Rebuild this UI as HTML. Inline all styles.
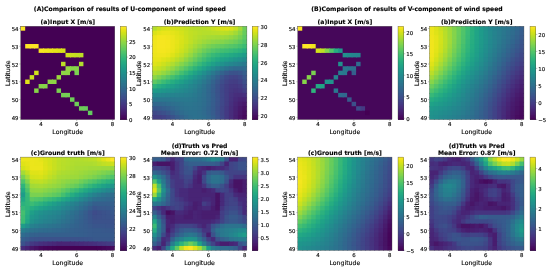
<!DOCTYPE html>
<html><head><meta charset="utf-8"><title>Wind speed comparison</title>
<style>
html,body{margin:0;padding:0;background:#fff;}
body{width:550px;height:271px;overflow:hidden;}
svg{display:block;font-family:"DejaVu Sans","Liberation Sans",sans-serif;}
svg text{shape-rendering:auto;stroke:#000;stroke-width:0.12px;}
</style></head><body>
<svg width="550" height="271" viewBox="0 0 550 271" shape-rendering="geometricPrecision">
<rect width="550" height="271" fill="#fff"/>
<g>
<rect x="20.7" y="26.25" width="94.1" height="93.3" fill="#440154"/>
<rect x="20.70" y="26.25" width="4.48" height="4.44" fill="#fde725"/>
<rect x="25.18" y="44.02" width="5.48" height="4.44" fill="#fde725"/>
<rect x="29.66" y="44.02" width="5.48" height="4.44" fill="#fde725"/>
<rect x="34.14" y="44.02" width="4.48" height="4.44" fill="#fde725"/>
<rect x="38.62" y="48.46" width="5.48" height="4.44" fill="#f8e621"/>
<rect x="43.10" y="48.46" width="5.48" height="4.44" fill="#f1e51d"/>
<rect x="47.59" y="48.46" width="5.48" height="4.44" fill="#ece51b"/>
<rect x="52.07" y="48.46" width="5.48" height="4.44" fill="#e5e419"/>
<rect x="56.55" y="48.46" width="5.48" height="4.44" fill="#dfe318"/>
<rect x="61.03" y="48.46" width="4.48" height="4.44" fill="#d8e219"/>
<rect x="65.51" y="52.91" width="5.48" height="4.44" fill="#d2e21b"/>
<rect x="69.99" y="52.91" width="5.48" height="4.44" fill="#cae11f"/>
<rect x="74.47" y="52.91" width="5.48" height="4.44" fill="#c2df23"/>
<rect x="78.95" y="52.91" width="4.48" height="4.44" fill="#bddf26"/>
<rect x="61.03" y="61.79" width="4.48" height="4.44" fill="#bddf26"/>
<rect x="78.95" y="61.79" width="4.48" height="4.44" fill="#b0dd2f"/>
<rect x="65.51" y="66.24" width="5.48" height="5.44" fill="#95d840"/>
<rect x="69.99" y="66.24" width="5.48" height="4.44" fill="#86d549"/>
<rect x="74.47" y="66.24" width="4.48" height="5.44" fill="#86d549"/>
<rect x="34.14" y="70.68" width="4.48" height="4.44" fill="#d2e21b"/>
<rect x="61.03" y="70.68" width="5.48" height="4.44" fill="#8ed645"/>
<rect x="65.51" y="70.68" width="4.48" height="4.44" fill="#8ed645"/>
<rect x="74.47" y="70.68" width="4.48" height="4.44" fill="#7ad151"/>
<rect x="29.66" y="75.12" width="4.48" height="4.44" fill="#cae11f"/>
<rect x="56.55" y="75.12" width="4.48" height="4.44" fill="#9bd93c"/>
<rect x="25.18" y="79.56" width="4.48" height="4.44" fill="#dfe318"/>
<rect x="47.59" y="79.56" width="5.48" height="4.44" fill="#8ed645"/>
<rect x="52.07" y="79.56" width="4.48" height="4.44" fill="#8ed645"/>
<rect x="38.62" y="84.01" width="5.48" height="4.44" fill="#86d549"/>
<rect x="43.10" y="84.01" width="4.48" height="4.44" fill="#86d549"/>
<rect x="34.14" y="88.45" width="4.48" height="4.44" fill="#86d549"/>
<rect x="56.55" y="88.45" width="4.48" height="4.44" fill="#7ad151"/>
<rect x="61.03" y="92.89" width="5.48" height="4.44" fill="#75d054"/>
<rect x="65.51" y="92.89" width="4.48" height="4.44" fill="#75d054"/>
<rect x="69.99" y="97.34" width="4.48" height="4.44" fill="#6ece58"/>
<rect x="74.47" y="101.78" width="4.48" height="4.44" fill="#6ece58"/>
<rect x="78.95" y="106.22" width="5.48" height="4.44" fill="#6ece58"/>
<rect x="83.43" y="106.22" width="4.48" height="4.44" fill="#69cd5b"/>
<rect x="87.91" y="110.66" width="4.48" height="4.44" fill="#63cb5f"/>
</g>
<rect x="20.7" y="26.25" width="94.1" height="93.3" fill="none" stroke="#444" stroke-width="0.35"/>
<rect x="120.35" y="26.25" width="6.05" height="93.30" fill="#fbe723"/>
<rect x="120.35" y="27.71" width="6.05" height="91.84" fill="#f1e51d"/>
<rect x="120.35" y="29.17" width="6.05" height="90.38" fill="#e7e419"/>
<rect x="120.35" y="30.62" width="6.05" height="88.93" fill="#dde318"/>
<rect x="120.35" y="32.08" width="6.05" height="87.47" fill="#d2e21b"/>
<rect x="120.35" y="33.54" width="6.05" height="86.01" fill="#c8e020"/>
<rect x="120.35" y="35.00" width="6.05" height="84.55" fill="#bddf26"/>
<rect x="120.35" y="36.45" width="6.05" height="83.10" fill="#b2dd2d"/>
<rect x="120.35" y="37.91" width="6.05" height="81.64" fill="#a8db34"/>
<rect x="120.35" y="39.37" width="6.05" height="80.18" fill="#9dd93b"/>
<rect x="120.35" y="40.83" width="6.05" height="78.72" fill="#93d741"/>
<rect x="120.35" y="42.29" width="6.05" height="77.26" fill="#89d548"/>
<rect x="120.35" y="43.74" width="6.05" height="75.81" fill="#7fd34e"/>
<rect x="120.35" y="45.20" width="6.05" height="74.35" fill="#75d054"/>
<rect x="120.35" y="46.66" width="6.05" height="72.89" fill="#6ccd5a"/>
<rect x="120.35" y="48.12" width="6.05" height="71.43" fill="#63cb5f"/>
<rect x="120.35" y="49.58" width="6.05" height="69.97" fill="#5ac864"/>
<rect x="120.35" y="51.03" width="6.05" height="68.52" fill="#52c569"/>
<rect x="120.35" y="52.49" width="6.05" height="67.06" fill="#4ac16d"/>
<rect x="120.35" y="53.95" width="6.05" height="65.60" fill="#42be71"/>
<rect x="120.35" y="55.41" width="6.05" height="64.14" fill="#3bbb75"/>
<rect x="120.35" y="56.86" width="6.05" height="62.69" fill="#35b779"/>
<rect x="120.35" y="58.32" width="6.05" height="61.23" fill="#2fb47c"/>
<rect x="120.35" y="59.78" width="6.05" height="59.77" fill="#2ab07f"/>
<rect x="120.35" y="61.24" width="6.05" height="58.31" fill="#26ad81"/>
<rect x="120.35" y="62.70" width="6.05" height="56.85" fill="#23a983"/>
<rect x="120.35" y="64.15" width="6.05" height="55.40" fill="#21a585"/>
<rect x="120.35" y="65.61" width="6.05" height="53.94" fill="#1fa187"/>
<rect x="120.35" y="67.07" width="6.05" height="52.48" fill="#1f9e89"/>
<rect x="120.35" y="68.53" width="6.05" height="51.02" fill="#1f9a8a"/>
<rect x="120.35" y="69.98" width="6.05" height="49.57" fill="#1f968b"/>
<rect x="120.35" y="71.44" width="6.05" height="48.11" fill="#20928c"/>
<rect x="120.35" y="72.90" width="6.05" height="46.65" fill="#218f8d"/>
<rect x="120.35" y="74.36" width="6.05" height="45.19" fill="#228b8d"/>
<rect x="120.35" y="75.82" width="6.05" height="43.73" fill="#24878e"/>
<rect x="120.35" y="77.27" width="6.05" height="42.28" fill="#25838e"/>
<rect x="120.35" y="78.73" width="6.05" height="40.82" fill="#27808e"/>
<rect x="120.35" y="80.19" width="6.05" height="39.36" fill="#287c8e"/>
<rect x="120.35" y="81.65" width="6.05" height="37.90" fill="#2a788e"/>
<rect x="120.35" y="83.10" width="6.05" height="36.45" fill="#2b748e"/>
<rect x="120.35" y="84.56" width="6.05" height="34.99" fill="#2d718e"/>
<rect x="120.35" y="86.02" width="6.05" height="33.53" fill="#2e6d8e"/>
<rect x="120.35" y="87.48" width="6.05" height="32.07" fill="#30698e"/>
<rect x="120.35" y="88.94" width="6.05" height="30.61" fill="#32658e"/>
<rect x="120.35" y="90.39" width="6.05" height="29.16" fill="#34618d"/>
<rect x="120.35" y="91.85" width="6.05" height="27.70" fill="#365d8d"/>
<rect x="120.35" y="93.31" width="6.05" height="26.24" fill="#38598c"/>
<rect x="120.35" y="94.77" width="6.05" height="24.78" fill="#3a548c"/>
<rect x="120.35" y="96.22" width="6.05" height="23.33" fill="#3c508b"/>
<rect x="120.35" y="97.68" width="6.05" height="21.87" fill="#3e4c8a"/>
<rect x="120.35" y="99.14" width="6.05" height="20.41" fill="#3f4788"/>
<rect x="120.35" y="100.60" width="6.05" height="18.95" fill="#414287"/>
<rect x="120.35" y="102.06" width="6.05" height="17.49" fill="#433e85"/>
<rect x="120.35" y="103.51" width="6.05" height="16.04" fill="#443983"/>
<rect x="120.35" y="104.97" width="6.05" height="14.58" fill="#463480"/>
<rect x="120.35" y="106.43" width="6.05" height="13.12" fill="#472f7d"/>
<rect x="120.35" y="107.89" width="6.05" height="11.66" fill="#472a7a"/>
<rect x="120.35" y="109.35" width="6.05" height="10.20" fill="#482576"/>
<rect x="120.35" y="110.80" width="6.05" height="8.75" fill="#482071"/>
<rect x="120.35" y="112.26" width="6.05" height="7.29" fill="#481b6d"/>
<rect x="120.35" y="113.72" width="6.05" height="5.83" fill="#481668"/>
<rect x="120.35" y="115.18" width="6.05" height="4.37" fill="#471063"/>
<rect x="120.35" y="116.63" width="6.05" height="2.92" fill="#460a5d"/>
<rect x="120.35" y="118.09" width="6.05" height="1.46" fill="#450457"/>
<rect x="120.35" y="26.25" width="6.050000000000011" height="93.3" fill="none" stroke="#444" stroke-width="0.35"/>
<line x1="126.4" x2="127.9" y1="119.55" y2="119.55" stroke="#555" stroke-width="0.35"/>
<text x="128.9" y="121.84" font-size="5.4" text-anchor="start" fill="#000">0</text>
<line x1="126.4" x2="127.9" y1="103.95" y2="103.95" stroke="#555" stroke-width="0.35"/>
<text x="128.9" y="106.24" font-size="5.4" text-anchor="start" fill="#000">5</text>
<line x1="126.4" x2="127.9" y1="88.35" y2="88.35" stroke="#555" stroke-width="0.35"/>
<text x="128.9" y="90.64" font-size="5.4" text-anchor="start" fill="#000">10</text>
<line x1="126.4" x2="127.9" y1="72.74" y2="72.74" stroke="#555" stroke-width="0.35"/>
<text x="128.9" y="75.04" font-size="5.4" text-anchor="start" fill="#000">15</text>
<line x1="126.4" x2="127.9" y1="57.14" y2="57.14" stroke="#555" stroke-width="0.35"/>
<text x="128.9" y="59.44" font-size="5.4" text-anchor="start" fill="#000">20</text>
<line x1="126.4" x2="127.9" y1="41.54" y2="41.54" stroke="#555" stroke-width="0.35"/>
<text x="128.9" y="43.83" font-size="5.4" text-anchor="start" fill="#000">25</text>
<line x1="40.86" x2="40.86" y1="119.55" y2="121.05" stroke="#555" stroke-width="0.35"/>
<text x="40.86" y="126.49" font-size="5.4" text-anchor="middle" fill="#000">4</text>
<line x1="76.71" x2="76.71" y1="119.55" y2="121.05" stroke="#555" stroke-width="0.35"/>
<text x="76.71" y="126.49" font-size="5.4" text-anchor="middle" fill="#000">6</text>
<line x1="112.56" x2="112.56" y1="119.55" y2="121.05" stroke="#555" stroke-width="0.35"/>
<text x="112.56" y="126.49" font-size="5.4" text-anchor="middle" fill="#000">8</text>
<line x1="19.2" x2="20.7" y1="117.33" y2="117.33" stroke="#555" stroke-width="0.35"/>
<text x="18.5" y="119.97" font-size="5.4" text-anchor="end" fill="#000">49</text>
<line x1="19.2" x2="20.7" y1="99.56" y2="99.56" stroke="#555" stroke-width="0.35"/>
<text x="18.5" y="102.2" font-size="5.4" text-anchor="end" fill="#000">50</text>
<line x1="19.2" x2="20.7" y1="81.79" y2="81.79" stroke="#555" stroke-width="0.35"/>
<text x="18.5" y="84.43" font-size="5.4" text-anchor="end" fill="#000">51</text>
<line x1="19.2" x2="20.7" y1="64.01" y2="64.01" stroke="#555" stroke-width="0.35"/>
<text x="18.5" y="66.66" font-size="5.4" text-anchor="end" fill="#000">52</text>
<line x1="19.2" x2="20.7" y1="46.24" y2="46.24" stroke="#555" stroke-width="0.35"/>
<text x="18.5" y="48.89" font-size="5.4" text-anchor="end" fill="#000">53</text>
<line x1="19.2" x2="20.7" y1="28.47" y2="28.47" stroke="#555" stroke-width="0.35"/>
<text x="18.5" y="31.12" font-size="5.4" text-anchor="end" fill="#000">54</text>
<text x="67.75" y="134.35" font-size="6.2" text-anchor="middle" fill="#000">Longitude</text>
<text x="9.9" y="73.3" font-size="6.2" text-anchor="middle" transform="rotate(-90 9.9 73.3)" fill="#000">Latitude</text>
<text x="67.75" y="24.25" font-size="6.1" text-anchor="middle" font-weight="bold" fill="#000">(a)Input X [m/s]</text>
<g>
<rect x="152.30" y="26.25" width="5.50" height="5.44" fill="#b5de2b"/>
<rect x="156.80" y="26.25" width="5.50" height="5.44" fill="#cae11f"/>
<rect x="161.31" y="26.25" width="5.50" height="5.44" fill="#d5e21a"/>
<rect x="165.81" y="26.25" width="5.50" height="5.44" fill="#dae319"/>
<rect x="170.32" y="26.25" width="5.50" height="5.44" fill="#d8e219"/>
<rect x="174.82" y="26.25" width="5.50" height="5.44" fill="#d2e21b"/>
<rect x="179.33" y="26.25" width="5.50" height="5.44" fill="#cde11d"/>
<rect x="183.83" y="26.25" width="5.50" height="5.44" fill="#c5e021"/>
<rect x="188.34" y="26.25" width="5.50" height="5.44" fill="#bddf26"/>
<rect x="192.84" y="26.25" width="5.50" height="5.44" fill="#b8de29"/>
<rect x="197.35" y="26.25" width="5.50" height="5.44" fill="#b5de2b"/>
<rect x="201.85" y="26.25" width="5.50" height="5.44" fill="#b8de29"/>
<rect x="206.36" y="26.25" width="5.50" height="5.44" fill="#bddf26"/>
<rect x="210.86" y="26.25" width="5.50" height="5.44" fill="#c8e020"/>
<rect x="215.37" y="26.25" width="5.50" height="5.44" fill="#d2e21b"/>
<rect x="219.87" y="26.25" width="5.50" height="5.44" fill="#dae319"/>
<rect x="224.38" y="26.25" width="5.50" height="5.44" fill="#dfe318"/>
<rect x="228.88" y="26.25" width="5.50" height="5.44" fill="#d8e219"/>
<rect x="233.39" y="26.25" width="5.50" height="5.44" fill="#c5e021"/>
<rect x="237.89" y="26.25" width="5.50" height="5.44" fill="#a2da37"/>
<rect x="242.40" y="26.25" width="4.50" height="5.44" fill="#6ece58"/>
<rect x="152.30" y="30.69" width="5.50" height="5.44" fill="#dae319"/>
<rect x="156.80" y="30.69" width="5.50" height="5.44" fill="#e5e419"/>
<rect x="161.31" y="30.69" width="10.01" height="5.44" fill="#eae51a"/>
<rect x="170.32" y="30.69" width="5.50" height="5.44" fill="#e5e419"/>
<rect x="174.82" y="30.69" width="5.50" height="5.44" fill="#dfe318"/>
<rect x="179.33" y="30.69" width="5.50" height="5.44" fill="#d5e21a"/>
<rect x="183.83" y="30.69" width="5.50" height="5.44" fill="#cae11f"/>
<rect x="188.34" y="30.69" width="5.50" height="5.44" fill="#c2df23"/>
<rect x="192.84" y="30.69" width="5.50" height="5.44" fill="#bddf26"/>
<rect x="197.35" y="30.69" width="5.50" height="5.44" fill="#b8de29"/>
<rect x="201.85" y="30.69" width="10.01" height="5.44" fill="#b5de2b"/>
<rect x="210.86" y="30.69" width="5.50" height="5.44" fill="#b8de29"/>
<rect x="215.37" y="30.69" width="5.50" height="5.44" fill="#bade28"/>
<rect x="219.87" y="30.69" width="5.50" height="5.44" fill="#bddf26"/>
<rect x="224.38" y="30.69" width="5.50" height="5.44" fill="#bade28"/>
<rect x="228.88" y="30.69" width="5.50" height="5.44" fill="#b2dd2d"/>
<rect x="233.39" y="30.69" width="5.50" height="5.44" fill="#a2da37"/>
<rect x="237.89" y="30.69" width="5.50" height="5.44" fill="#89d548"/>
<rect x="242.40" y="30.69" width="4.50" height="5.44" fill="#67cc5c"/>
<rect x="152.30" y="35.14" width="5.50" height="5.44" fill="#ece51b"/>
<rect x="156.80" y="35.14" width="10.01" height="5.44" fill="#f4e61e"/>
<rect x="165.81" y="35.14" width="5.50" height="5.44" fill="#f1e51d"/>
<rect x="170.32" y="35.14" width="5.50" height="5.44" fill="#ece51b"/>
<rect x="174.82" y="35.14" width="5.50" height="5.44" fill="#e2e418"/>
<rect x="179.33" y="35.14" width="5.50" height="5.44" fill="#dae319"/>
<rect x="183.83" y="35.14" width="5.50" height="5.44" fill="#cde11d"/>
<rect x="188.34" y="35.14" width="5.50" height="5.44" fill="#c2df23"/>
<rect x="192.84" y="35.14" width="5.50" height="5.44" fill="#bade28"/>
<rect x="197.35" y="35.14" width="5.50" height="5.44" fill="#b2dd2d"/>
<rect x="201.85" y="35.14" width="5.50" height="5.44" fill="#addc30"/>
<rect x="206.36" y="35.14" width="5.50" height="5.44" fill="#a8db34"/>
<rect x="210.86" y="35.14" width="5.50" height="5.44" fill="#a5db36"/>
<rect x="215.37" y="35.14" width="5.50" height="5.44" fill="#a2da37"/>
<rect x="219.87" y="35.14" width="5.50" height="5.44" fill="#a0da39"/>
<rect x="224.38" y="35.14" width="5.50" height="5.44" fill="#9bd93c"/>
<rect x="228.88" y="35.14" width="5.50" height="5.44" fill="#93d741"/>
<rect x="233.39" y="35.14" width="5.50" height="5.44" fill="#86d549"/>
<rect x="237.89" y="35.14" width="5.50" height="5.44" fill="#75d054"/>
<rect x="242.40" y="35.14" width="4.50" height="5.44" fill="#5ec962"/>
<rect x="152.30" y="39.58" width="5.50" height="5.44" fill="#f1e51d"/>
<rect x="156.80" y="39.58" width="10.01" height="5.44" fill="#f6e620"/>
<rect x="165.81" y="39.58" width="5.50" height="5.44" fill="#f4e61e"/>
<rect x="170.32" y="39.58" width="5.50" height="5.44" fill="#ece51b"/>
<rect x="174.82" y="39.58" width="5.50" height="5.44" fill="#e5e419"/>
<rect x="179.33" y="39.58" width="5.50" height="5.44" fill="#d8e219"/>
<rect x="183.83" y="39.58" width="5.50" height="5.44" fill="#cde11d"/>
<rect x="188.34" y="39.58" width="5.50" height="5.44" fill="#c0df25"/>
<rect x="192.84" y="39.58" width="5.50" height="5.44" fill="#b2dd2d"/>
<rect x="197.35" y="39.58" width="5.50" height="5.44" fill="#a8db34"/>
<rect x="201.85" y="39.58" width="5.50" height="5.44" fill="#9dd93b"/>
<rect x="206.36" y="39.58" width="5.50" height="5.44" fill="#95d840"/>
<rect x="210.86" y="39.58" width="5.50" height="5.44" fill="#8ed645"/>
<rect x="215.37" y="39.58" width="5.50" height="5.44" fill="#89d548"/>
<rect x="219.87" y="39.58" width="5.50" height="5.44" fill="#84d44b"/>
<rect x="224.38" y="39.58" width="5.50" height="5.44" fill="#7cd250"/>
<rect x="228.88" y="39.58" width="5.50" height="5.44" fill="#75d054"/>
<rect x="233.39" y="39.58" width="5.50" height="5.44" fill="#6ccd5a"/>
<rect x="237.89" y="39.58" width="5.50" height="5.44" fill="#5ec962"/>
<rect x="242.40" y="39.58" width="4.50" height="5.44" fill="#4ec36b"/>
<rect x="152.30" y="44.02" width="5.50" height="5.44" fill="#f1e51d"/>
<rect x="156.80" y="44.02" width="10.01" height="5.44" fill="#f6e620"/>
<rect x="165.81" y="44.02" width="5.50" height="5.44" fill="#f4e61e"/>
<rect x="170.32" y="44.02" width="5.50" height="5.44" fill="#ece51b"/>
<rect x="174.82" y="44.02" width="5.50" height="5.44" fill="#e2e418"/>
<rect x="179.33" y="44.02" width="5.50" height="5.44" fill="#d5e21a"/>
<rect x="183.83" y="44.02" width="5.50" height="5.44" fill="#c5e021"/>
<rect x="188.34" y="44.02" width="5.50" height="5.44" fill="#b5de2b"/>
<rect x="192.84" y="44.02" width="5.50" height="5.44" fill="#a5db36"/>
<rect x="197.35" y="44.02" width="5.50" height="5.44" fill="#95d840"/>
<rect x="201.85" y="44.02" width="5.50" height="5.44" fill="#86d549"/>
<rect x="206.36" y="44.02" width="5.50" height="5.44" fill="#7ad151"/>
<rect x="210.86" y="44.02" width="5.50" height="5.44" fill="#70cf57"/>
<rect x="215.37" y="44.02" width="5.50" height="5.44" fill="#69cd5b"/>
<rect x="219.87" y="44.02" width="5.50" height="5.44" fill="#63cb5f"/>
<rect x="224.38" y="44.02" width="5.50" height="5.44" fill="#5cc863"/>
<rect x="228.88" y="44.02" width="5.50" height="5.44" fill="#56c667"/>
<rect x="233.39" y="44.02" width="5.50" height="5.44" fill="#50c46a"/>
<rect x="237.89" y="44.02" width="5.50" height="5.44" fill="#46c06f"/>
<rect x="242.40" y="44.02" width="4.50" height="5.44" fill="#3bbb75"/>
<rect x="152.30" y="48.46" width="5.50" height="5.44" fill="#efe51c"/>
<rect x="156.80" y="48.46" width="10.01" height="5.44" fill="#f4e61e"/>
<rect x="165.81" y="48.46" width="5.50" height="5.44" fill="#f1e51d"/>
<rect x="170.32" y="48.46" width="5.50" height="5.44" fill="#eae51a"/>
<rect x="174.82" y="48.46" width="5.50" height="5.44" fill="#dde318"/>
<rect x="179.33" y="48.46" width="5.50" height="5.44" fill="#cde11d"/>
<rect x="183.83" y="48.46" width="5.50" height="5.44" fill="#bddf26"/>
<rect x="188.34" y="48.46" width="5.50" height="5.44" fill="#a8db34"/>
<rect x="192.84" y="48.46" width="5.50" height="5.44" fill="#93d741"/>
<rect x="197.35" y="48.46" width="5.50" height="5.44" fill="#7fd34e"/>
<rect x="201.85" y="48.46" width="5.50" height="5.44" fill="#6ccd5a"/>
<rect x="206.36" y="48.46" width="5.50" height="5.44" fill="#5ec962"/>
<rect x="210.86" y="48.46" width="5.50" height="5.44" fill="#52c569"/>
<rect x="215.37" y="48.46" width="5.50" height="5.44" fill="#4ac16d"/>
<rect x="219.87" y="48.46" width="5.50" height="5.44" fill="#42be71"/>
<rect x="224.38" y="48.46" width="5.50" height="5.44" fill="#3dbc74"/>
<rect x="228.88" y="48.46" width="5.50" height="5.44" fill="#38b977"/>
<rect x="233.39" y="48.46" width="5.50" height="5.44" fill="#32b67a"/>
<rect x="237.89" y="48.46" width="5.50" height="5.44" fill="#2db27d"/>
<rect x="242.40" y="48.46" width="4.50" height="5.44" fill="#26ad81"/>
<rect x="152.30" y="52.91" width="5.50" height="5.44" fill="#ece51b"/>
<rect x="156.80" y="52.91" width="10.01" height="5.44" fill="#efe51c"/>
<rect x="165.81" y="52.91" width="5.50" height="5.44" fill="#eae51a"/>
<rect x="170.32" y="52.91" width="5.50" height="5.44" fill="#dfe318"/>
<rect x="174.82" y="52.91" width="5.50" height="5.44" fill="#d0e11c"/>
<rect x="179.33" y="52.91" width="5.50" height="5.44" fill="#c0df25"/>
<rect x="183.83" y="52.91" width="5.50" height="5.44" fill="#aadc32"/>
<rect x="188.34" y="52.91" width="5.50" height="5.44" fill="#95d840"/>
<rect x="192.84" y="52.91" width="5.50" height="5.44" fill="#7cd250"/>
<rect x="197.35" y="52.91" width="5.50" height="5.44" fill="#67cc5c"/>
<rect x="201.85" y="52.91" width="5.50" height="5.44" fill="#54c568"/>
<rect x="206.36" y="52.91" width="5.50" height="5.44" fill="#44bf70"/>
<rect x="210.86" y="52.91" width="5.50" height="5.44" fill="#38b977"/>
<rect x="215.37" y="52.91" width="5.50" height="5.44" fill="#31b57b"/>
<rect x="219.87" y="52.91" width="5.50" height="5.44" fill="#2ab07f"/>
<rect x="224.38" y="52.91" width="5.50" height="5.44" fill="#26ad81"/>
<rect x="228.88" y="52.91" width="5.50" height="5.44" fill="#23a983"/>
<rect x="233.39" y="52.91" width="5.50" height="5.44" fill="#21a585"/>
<rect x="237.89" y="52.91" width="5.50" height="5.44" fill="#1fa187"/>
<rect x="242.40" y="52.91" width="4.50" height="5.44" fill="#1e9c89"/>
<rect x="152.30" y="57.35" width="10.01" height="5.44" fill="#e7e419"/>
<rect x="161.31" y="57.35" width="5.50" height="5.44" fill="#dfe318"/>
<rect x="165.81" y="57.35" width="5.50" height="5.44" fill="#d8e219"/>
<rect x="170.32" y="57.35" width="5.50" height="5.44" fill="#cae11f"/>
<rect x="174.82" y="57.35" width="5.50" height="5.44" fill="#bade28"/>
<rect x="179.33" y="57.35" width="5.50" height="5.44" fill="#a8db34"/>
<rect x="183.83" y="57.35" width="5.50" height="5.44" fill="#90d743"/>
<rect x="188.34" y="57.35" width="5.50" height="5.44" fill="#7ad151"/>
<rect x="192.84" y="57.35" width="5.50" height="5.44" fill="#65cb5e"/>
<rect x="197.35" y="57.35" width="5.50" height="5.44" fill="#50c46a"/>
<rect x="201.85" y="57.35" width="5.50" height="5.44" fill="#3fbc73"/>
<rect x="206.36" y="57.35" width="5.50" height="5.44" fill="#31b57b"/>
<rect x="210.86" y="57.35" width="5.50" height="5.44" fill="#28ae80"/>
<rect x="215.37" y="57.35" width="5.50" height="5.44" fill="#22a884"/>
<rect x="219.87" y="57.35" width="5.50" height="5.44" fill="#1fa287"/>
<rect x="224.38" y="57.35" width="5.50" height="5.44" fill="#1f9e89"/>
<rect x="228.88" y="57.35" width="5.50" height="5.44" fill="#1f998a"/>
<rect x="233.39" y="57.35" width="5.50" height="5.44" fill="#1f948c"/>
<rect x="237.89" y="57.35" width="5.50" height="5.44" fill="#21908d"/>
<rect x="242.40" y="57.35" width="4.50" height="5.44" fill="#228b8d"/>
<rect x="152.30" y="61.79" width="5.50" height="5.44" fill="#dfe318"/>
<rect x="156.80" y="61.79" width="5.50" height="5.44" fill="#d8e219"/>
<rect x="161.31" y="61.79" width="5.50" height="5.44" fill="#cde11d"/>
<rect x="165.81" y="61.79" width="5.50" height="5.44" fill="#c0df25"/>
<rect x="170.32" y="61.79" width="5.50" height="5.44" fill="#b0dd2f"/>
<rect x="174.82" y="61.79" width="5.50" height="5.44" fill="#9dd93b"/>
<rect x="179.33" y="61.79" width="5.50" height="5.44" fill="#86d549"/>
<rect x="183.83" y="61.79" width="5.50" height="5.44" fill="#73d056"/>
<rect x="188.34" y="61.79" width="5.50" height="5.44" fill="#5ec962"/>
<rect x="192.84" y="61.79" width="5.50" height="5.44" fill="#4ac16d"/>
<rect x="197.35" y="61.79" width="5.50" height="5.44" fill="#38b977"/>
<rect x="201.85" y="61.79" width="5.50" height="5.44" fill="#2ab07f"/>
<rect x="206.36" y="61.79" width="5.50" height="5.44" fill="#22a884"/>
<rect x="210.86" y="61.79" width="5.50" height="5.44" fill="#1fa088"/>
<rect x="215.37" y="61.79" width="5.50" height="5.44" fill="#1f988b"/>
<rect x="219.87" y="61.79" width="5.50" height="5.44" fill="#20928c"/>
<rect x="224.38" y="61.79" width="5.50" height="5.44" fill="#228b8d"/>
<rect x="228.88" y="61.79" width="5.50" height="5.44" fill="#24868e"/>
<rect x="233.39" y="61.79" width="5.50" height="5.44" fill="#26828e"/>
<rect x="237.89" y="61.79" width="5.50" height="5.44" fill="#277e8e"/>
<rect x="242.40" y="61.79" width="4.50" height="5.44" fill="#297a8e"/>
<rect x="152.30" y="66.24" width="5.50" height="5.44" fill="#cae11f"/>
<rect x="156.80" y="66.24" width="5.50" height="5.44" fill="#c2df23"/>
<rect x="161.31" y="66.24" width="5.50" height="5.44" fill="#b8de29"/>
<rect x="165.81" y="66.24" width="5.50" height="5.44" fill="#a5db36"/>
<rect x="170.32" y="66.24" width="5.50" height="5.44" fill="#93d741"/>
<rect x="174.82" y="66.24" width="5.50" height="5.44" fill="#7cd250"/>
<rect x="179.33" y="66.24" width="5.50" height="5.44" fill="#67cc5c"/>
<rect x="183.83" y="66.24" width="5.50" height="5.44" fill="#52c569"/>
<rect x="188.34" y="66.24" width="5.50" height="5.44" fill="#3fbc73"/>
<rect x="192.84" y="66.24" width="5.50" height="5.44" fill="#2eb37c"/>
<rect x="197.35" y="66.24" width="5.50" height="5.44" fill="#24aa83"/>
<rect x="201.85" y="66.24" width="5.50" height="5.44" fill="#1fa188"/>
<rect x="206.36" y="66.24" width="5.50" height="5.44" fill="#1f968b"/>
<rect x="210.86" y="66.24" width="5.50" height="5.44" fill="#228c8d"/>
<rect x="215.37" y="66.24" width="5.50" height="5.44" fill="#26828e"/>
<rect x="219.87" y="66.24" width="5.50" height="5.44" fill="#297a8e"/>
<rect x="224.38" y="66.24" width="5.50" height="5.44" fill="#2c728e"/>
<rect x="228.88" y="66.24" width="5.50" height="5.44" fill="#2e6d8e"/>
<rect x="233.39" y="66.24" width="10.01" height="5.44" fill="#30698e"/>
<rect x="242.40" y="66.24" width="4.50" height="5.44" fill="#2f6c8e"/>
<rect x="152.30" y="70.68" width="5.50" height="5.44" fill="#b0dd2f"/>
<rect x="156.80" y="70.68" width="5.50" height="5.44" fill="#a5db36"/>
<rect x="161.31" y="70.68" width="5.50" height="5.44" fill="#95d840"/>
<rect x="165.81" y="70.68" width="5.50" height="5.44" fill="#84d44b"/>
<rect x="170.32" y="70.68" width="5.50" height="5.44" fill="#6ece58"/>
<rect x="174.82" y="70.68" width="5.50" height="5.44" fill="#5ac864"/>
<rect x="179.33" y="70.68" width="5.50" height="5.44" fill="#44bf70"/>
<rect x="183.83" y="70.68" width="5.50" height="5.44" fill="#34b679"/>
<rect x="188.34" y="70.68" width="5.50" height="5.44" fill="#26ad81"/>
<rect x="192.84" y="70.68" width="5.50" height="5.44" fill="#20a386"/>
<rect x="197.35" y="70.68" width="5.50" height="5.44" fill="#1f998a"/>
<rect x="201.85" y="70.68" width="5.50" height="5.44" fill="#218f8d"/>
<rect x="206.36" y="70.68" width="5.50" height="5.44" fill="#25848e"/>
<rect x="210.86" y="70.68" width="5.50" height="5.44" fill="#29798e"/>
<rect x="215.37" y="70.68" width="5.50" height="5.44" fill="#2e6e8e"/>
<rect x="219.87" y="70.68" width="5.50" height="5.44" fill="#33638d"/>
<rect x="224.38" y="70.68" width="5.50" height="5.44" fill="#375a8c"/>
<rect x="228.88" y="70.68" width="5.50" height="5.44" fill="#3a538b"/>
<rect x="233.39" y="70.68" width="5.50" height="5.44" fill="#3b528b"/>
<rect x="237.89" y="70.68" width="5.50" height="5.44" fill="#39558c"/>
<rect x="242.40" y="70.68" width="4.50" height="5.44" fill="#355f8d"/>
<rect x="152.30" y="75.12" width="5.50" height="5.44" fill="#8bd646"/>
<rect x="156.80" y="75.12" width="5.50" height="5.44" fill="#7ad151"/>
<rect x="161.31" y="75.12" width="5.50" height="5.44" fill="#67cc5c"/>
<rect x="165.81" y="75.12" width="5.50" height="5.44" fill="#56c667"/>
<rect x="170.32" y="75.12" width="5.50" height="5.44" fill="#44bf70"/>
<rect x="174.82" y="75.12" width="5.50" height="5.44" fill="#35b779"/>
<rect x="179.33" y="75.12" width="5.50" height="5.44" fill="#28ae80"/>
<rect x="183.83" y="75.12" width="5.50" height="5.44" fill="#21a685"/>
<rect x="188.34" y="75.12" width="5.50" height="5.44" fill="#1e9d89"/>
<rect x="192.84" y="75.12" width="5.50" height="5.44" fill="#1f948c"/>
<rect x="197.35" y="75.12" width="5.50" height="5.44" fill="#228b8d"/>
<rect x="201.85" y="75.12" width="5.50" height="5.44" fill="#26828e"/>
<rect x="206.36" y="75.12" width="5.50" height="5.44" fill="#2a778e"/>
<rect x="210.86" y="75.12" width="5.50" height="5.44" fill="#2f6c8e"/>
<rect x="215.37" y="75.12" width="5.50" height="5.44" fill="#34608d"/>
<rect x="219.87" y="75.12" width="5.50" height="5.44" fill="#3a548c"/>
<rect x="224.38" y="75.12" width="5.50" height="5.44" fill="#3e4a89"/>
<rect x="228.88" y="75.12" width="5.50" height="5.44" fill="#404588"/>
<rect x="233.39" y="75.12" width="5.50" height="5.44" fill="#414487"/>
<rect x="237.89" y="75.12" width="5.50" height="5.44" fill="#3e4989"/>
<rect x="242.40" y="75.12" width="4.50" height="5.44" fill="#39568c"/>
<rect x="152.30" y="79.56" width="5.50" height="5.44" fill="#5ec962"/>
<rect x="156.80" y="79.56" width="5.50" height="5.44" fill="#4cc26c"/>
<rect x="161.31" y="79.56" width="5.50" height="5.44" fill="#3bbb75"/>
<rect x="165.81" y="79.56" width="5.50" height="5.44" fill="#2fb47c"/>
<rect x="170.32" y="79.56" width="5.50" height="5.44" fill="#26ad81"/>
<rect x="174.82" y="79.56" width="5.50" height="5.44" fill="#21a685"/>
<rect x="179.33" y="79.56" width="5.50" height="5.44" fill="#1f9f88"/>
<rect x="183.83" y="79.56" width="5.50" height="5.44" fill="#1f978b"/>
<rect x="188.34" y="79.56" width="5.50" height="5.44" fill="#21908d"/>
<rect x="192.84" y="79.56" width="5.50" height="5.44" fill="#23888e"/>
<rect x="197.35" y="79.56" width="5.50" height="5.44" fill="#26818e"/>
<rect x="201.85" y="79.56" width="5.50" height="5.44" fill="#2a788e"/>
<rect x="206.36" y="79.56" width="5.50" height="5.44" fill="#2e6f8e"/>
<rect x="210.86" y="79.56" width="5.50" height="5.44" fill="#33638d"/>
<rect x="215.37" y="79.56" width="5.50" height="5.44" fill="#38588c"/>
<rect x="219.87" y="79.56" width="5.50" height="5.44" fill="#3d4d8a"/>
<rect x="224.38" y="79.56" width="5.50" height="5.44" fill="#414487"/>
<rect x="228.88" y="79.56" width="5.50" height="5.44" fill="#433e85"/>
<rect x="233.39" y="79.56" width="5.50" height="5.44" fill="#433d84"/>
<rect x="237.89" y="79.56" width="5.50" height="5.44" fill="#414287"/>
<rect x="242.40" y="79.56" width="4.50" height="5.44" fill="#3c4f8a"/>
<rect x="152.30" y="84.01" width="5.50" height="5.44" fill="#2fb47c"/>
<rect x="156.80" y="84.01" width="5.50" height="5.44" fill="#27ad81"/>
<rect x="161.31" y="84.01" width="5.50" height="5.44" fill="#22a884"/>
<rect x="165.81" y="84.01" width="5.50" height="5.44" fill="#1fa287"/>
<rect x="170.32" y="84.01" width="5.50" height="5.44" fill="#1f9e89"/>
<rect x="174.82" y="84.01" width="5.50" height="5.44" fill="#1f988b"/>
<rect x="179.33" y="84.01" width="5.50" height="5.44" fill="#20928c"/>
<rect x="183.83" y="84.01" width="5.50" height="5.44" fill="#218e8d"/>
<rect x="188.34" y="84.01" width="5.50" height="5.44" fill="#24878e"/>
<rect x="192.84" y="84.01" width="5.50" height="5.44" fill="#26828e"/>
<rect x="197.35" y="84.01" width="5.50" height="5.44" fill="#297a8e"/>
<rect x="201.85" y="84.01" width="5.50" height="5.44" fill="#2c728e"/>
<rect x="206.36" y="84.01" width="5.50" height="5.44" fill="#30698e"/>
<rect x="210.86" y="84.01" width="5.50" height="5.44" fill="#355f8d"/>
<rect x="215.37" y="84.01" width="5.50" height="5.44" fill="#3a538b"/>
<rect x="219.87" y="84.01" width="5.50" height="5.44" fill="#3f4889"/>
<rect x="224.38" y="84.01" width="5.50" height="5.44" fill="#423f85"/>
<rect x="228.88" y="84.01" width="5.50" height="5.44" fill="#443983"/>
<rect x="233.39" y="84.01" width="5.50" height="5.44" fill="#453882"/>
<rect x="237.89" y="84.01" width="5.50" height="5.44" fill="#443b84"/>
<rect x="242.40" y="84.01" width="4.50" height="5.44" fill="#3f4788"/>
<rect x="152.30" y="88.45" width="5.50" height="5.44" fill="#1e9c89"/>
<rect x="156.80" y="88.45" width="5.50" height="5.44" fill="#1f998a"/>
<rect x="161.31" y="88.45" width="5.50" height="5.44" fill="#1f968b"/>
<rect x="165.81" y="88.45" width="5.50" height="5.44" fill="#20938c"/>
<rect x="170.32" y="88.45" width="5.50" height="5.44" fill="#21918c"/>
<rect x="174.82" y="88.45" width="5.50" height="5.44" fill="#228d8d"/>
<rect x="179.33" y="88.45" width="5.50" height="5.44" fill="#238a8d"/>
<rect x="183.83" y="88.45" width="5.50" height="5.44" fill="#24868e"/>
<rect x="188.34" y="88.45" width="5.50" height="5.44" fill="#26828e"/>
<rect x="192.84" y="88.45" width="5.50" height="5.44" fill="#287d8e"/>
<rect x="197.35" y="88.45" width="5.50" height="5.44" fill="#2a768e"/>
<rect x="201.85" y="88.45" width="5.50" height="5.44" fill="#2d708e"/>
<rect x="206.36" y="88.45" width="5.50" height="5.44" fill="#31678e"/>
<rect x="210.86" y="88.45" width="5.50" height="5.44" fill="#365d8d"/>
<rect x="215.37" y="88.45" width="5.50" height="5.44" fill="#3b528b"/>
<rect x="219.87" y="88.45" width="5.50" height="5.44" fill="#3f4788"/>
<rect x="224.38" y="88.45" width="5.50" height="5.44" fill="#433e85"/>
<rect x="228.88" y="88.45" width="5.50" height="5.44" fill="#453781"/>
<rect x="233.39" y="88.45" width="5.50" height="5.44" fill="#46337f"/>
<rect x="237.89" y="88.45" width="5.50" height="5.44" fill="#453581"/>
<rect x="242.40" y="88.45" width="4.50" height="5.44" fill="#433e85"/>
<rect x="152.30" y="92.89" width="5.50" height="5.44" fill="#23888e"/>
<rect x="156.80" y="92.89" width="5.50" height="5.44" fill="#24878e"/>
<rect x="161.31" y="92.89" width="5.50" height="5.44" fill="#25858e"/>
<rect x="165.81" y="92.89" width="5.50" height="5.44" fill="#25848e"/>
<rect x="170.32" y="92.89" width="5.50" height="5.44" fill="#25838e"/>
<rect x="174.82" y="92.89" width="5.50" height="5.44" fill="#26828e"/>
<rect x="179.33" y="92.89" width="5.50" height="5.44" fill="#26818e"/>
<rect x="183.83" y="92.89" width="5.50" height="5.44" fill="#277f8e"/>
<rect x="188.34" y="92.89" width="5.50" height="5.44" fill="#287d8e"/>
<rect x="192.84" y="92.89" width="5.50" height="5.44" fill="#29798e"/>
<rect x="197.35" y="92.89" width="5.50" height="5.44" fill="#2b748e"/>
<rect x="201.85" y="92.89" width="5.50" height="5.44" fill="#2e6f8e"/>
<rect x="206.36" y="92.89" width="5.50" height="5.44" fill="#31678e"/>
<rect x="210.86" y="92.89" width="5.50" height="5.44" fill="#355e8d"/>
<rect x="215.37" y="92.89" width="5.50" height="5.44" fill="#3a538b"/>
<rect x="219.87" y="92.89" width="5.50" height="5.44" fill="#3f4889"/>
<rect x="224.38" y="92.89" width="5.50" height="5.44" fill="#433e85"/>
<rect x="228.88" y="92.89" width="5.50" height="5.44" fill="#463480"/>
<rect x="233.39" y="92.89" width="5.50" height="5.44" fill="#472e7c"/>
<rect x="237.89" y="92.89" width="5.50" height="5.44" fill="#472d7b"/>
<rect x="242.40" y="92.89" width="4.50" height="5.44" fill="#46307e"/>
<rect x="152.30" y="97.34" width="5.50" height="5.44" fill="#2a788e"/>
<rect x="156.80" y="97.34" width="14.51" height="5.44" fill="#2a778e"/>
<rect x="170.32" y="97.34" width="5.50" height="5.44" fill="#2a788e"/>
<rect x="174.82" y="97.34" width="14.51" height="5.44" fill="#29798e"/>
<rect x="188.34" y="97.34" width="5.50" height="5.44" fill="#2a788e"/>
<rect x="192.84" y="97.34" width="5.50" height="5.44" fill="#2a768e"/>
<rect x="197.35" y="97.34" width="5.50" height="5.44" fill="#2c728e"/>
<rect x="201.85" y="97.34" width="5.50" height="5.44" fill="#2e6e8e"/>
<rect x="206.36" y="97.34" width="5.50" height="5.44" fill="#31678e"/>
<rect x="210.86" y="97.34" width="5.50" height="5.44" fill="#355e8d"/>
<rect x="215.37" y="97.34" width="5.50" height="5.44" fill="#3a548c"/>
<rect x="219.87" y="97.34" width="5.50" height="5.44" fill="#3f4889"/>
<rect x="224.38" y="97.34" width="5.50" height="5.44" fill="#433e85"/>
<rect x="228.88" y="97.34" width="5.50" height="5.44" fill="#46337f"/>
<rect x="233.39" y="97.34" width="5.50" height="5.44" fill="#472a7a"/>
<rect x="237.89" y="97.34" width="5.50" height="5.44" fill="#482576"/>
<rect x="242.40" y="97.34" width="4.50" height="5.44" fill="#482475"/>
<rect x="152.30" y="101.78" width="10.01" height="5.44" fill="#31688e"/>
<rect x="161.31" y="101.78" width="5.50" height="5.44" fill="#306a8e"/>
<rect x="165.81" y="101.78" width="5.50" height="5.44" fill="#2e6d8e"/>
<rect x="170.32" y="101.78" width="5.50" height="5.44" fill="#2e6f8e"/>
<rect x="174.82" y="101.78" width="5.50" height="5.44" fill="#2c718e"/>
<rect x="179.33" y="101.78" width="5.50" height="5.44" fill="#2c738e"/>
<rect x="183.83" y="101.78" width="10.01" height="5.44" fill="#2b758e"/>
<rect x="192.84" y="101.78" width="5.50" height="5.44" fill="#2c738e"/>
<rect x="197.35" y="101.78" width="5.50" height="5.44" fill="#2d718e"/>
<rect x="201.85" y="101.78" width="5.50" height="5.44" fill="#2e6d8e"/>
<rect x="206.36" y="101.78" width="5.50" height="5.44" fill="#31668e"/>
<rect x="210.86" y="101.78" width="5.50" height="5.44" fill="#365d8d"/>
<rect x="215.37" y="101.78" width="5.50" height="5.44" fill="#3a538b"/>
<rect x="219.87" y="101.78" width="5.50" height="5.44" fill="#3f4889"/>
<rect x="224.38" y="101.78" width="5.50" height="5.44" fill="#433d84"/>
<rect x="228.88" y="101.78" width="5.50" height="5.44" fill="#46307e"/>
<rect x="233.39" y="101.78" width="5.50" height="5.44" fill="#482677"/>
<rect x="237.89" y="101.78" width="5.50" height="5.44" fill="#481f70"/>
<rect x="242.40" y="101.78" width="4.50" height="5.44" fill="#481a6c"/>
<rect x="152.30" y="106.22" width="5.50" height="5.44" fill="#38588c"/>
<rect x="156.80" y="106.22" width="5.50" height="5.44" fill="#375a8c"/>
<rect x="161.31" y="106.22" width="5.50" height="5.44" fill="#355e8d"/>
<rect x="165.81" y="106.22" width="5.50" height="5.44" fill="#33628d"/>
<rect x="170.32" y="106.22" width="5.50" height="5.44" fill="#31678e"/>
<rect x="174.82" y="106.22" width="5.50" height="5.44" fill="#2f6c8e"/>
<rect x="179.33" y="106.22" width="5.50" height="5.44" fill="#2d708e"/>
<rect x="183.83" y="106.22" width="5.50" height="5.44" fill="#2c728e"/>
<rect x="188.34" y="106.22" width="5.50" height="5.44" fill="#2c738e"/>
<rect x="192.84" y="106.22" width="5.50" height="5.44" fill="#2c728e"/>
<rect x="197.35" y="106.22" width="5.50" height="5.44" fill="#2d708e"/>
<rect x="201.85" y="106.22" width="5.50" height="5.44" fill="#2f6b8e"/>
<rect x="206.36" y="106.22" width="5.50" height="5.44" fill="#32648e"/>
<rect x="210.86" y="106.22" width="5.50" height="5.44" fill="#365c8d"/>
<rect x="215.37" y="106.22" width="5.50" height="5.44" fill="#3b518b"/>
<rect x="219.87" y="106.22" width="5.50" height="5.44" fill="#404688"/>
<rect x="224.38" y="106.22" width="5.50" height="5.44" fill="#443a83"/>
<rect x="228.88" y="106.22" width="5.50" height="5.44" fill="#472e7c"/>
<rect x="233.39" y="106.22" width="5.50" height="5.44" fill="#482374"/>
<rect x="237.89" y="106.22" width="5.50" height="5.44" fill="#481a6c"/>
<rect x="242.40" y="106.22" width="4.50" height="5.44" fill="#471365"/>
<rect x="152.30" y="110.66" width="5.50" height="5.44" fill="#3f4889"/>
<rect x="156.80" y="110.66" width="5.50" height="5.44" fill="#3e4c8a"/>
<rect x="161.31" y="110.66" width="5.50" height="5.44" fill="#3c508b"/>
<rect x="165.81" y="110.66" width="5.50" height="5.44" fill="#39568c"/>
<rect x="170.32" y="110.66" width="5.50" height="5.44" fill="#355e8d"/>
<rect x="174.82" y="110.66" width="5.50" height="5.44" fill="#32658e"/>
<rect x="179.33" y="110.66" width="5.50" height="5.44" fill="#2f6b8e"/>
<rect x="183.83" y="110.66" width="5.50" height="5.44" fill="#2e6f8e"/>
<rect x="188.34" y="110.66" width="10.01" height="5.44" fill="#2c718e"/>
<rect x="197.35" y="110.66" width="5.50" height="5.44" fill="#2e6f8e"/>
<rect x="201.85" y="110.66" width="5.50" height="5.44" fill="#2f6b8e"/>
<rect x="206.36" y="110.66" width="5.50" height="5.44" fill="#32648e"/>
<rect x="210.86" y="110.66" width="5.50" height="5.44" fill="#365c8d"/>
<rect x="215.37" y="110.66" width="5.50" height="5.44" fill="#3b518b"/>
<rect x="219.87" y="110.66" width="5.50" height="5.44" fill="#404688"/>
<rect x="224.38" y="110.66" width="5.50" height="5.44" fill="#443983"/>
<rect x="228.88" y="110.66" width="5.50" height="5.44" fill="#472d7b"/>
<rect x="233.39" y="110.66" width="5.50" height="5.44" fill="#482173"/>
<rect x="237.89" y="110.66" width="5.50" height="5.44" fill="#481769"/>
<rect x="242.40" y="110.66" width="4.50" height="5.44" fill="#470e61"/>
<rect x="152.30" y="115.11" width="10.01" height="4.44" fill="#433e85"/>
<rect x="161.31" y="115.11" width="5.50" height="4.44" fill="#414287"/>
<rect x="165.81" y="115.11" width="5.50" height="4.44" fill="#3e4989"/>
<rect x="170.32" y="115.11" width="5.50" height="4.44" fill="#3b528b"/>
<rect x="174.82" y="115.11" width="5.50" height="4.44" fill="#375b8d"/>
<rect x="179.33" y="115.11" width="5.50" height="4.44" fill="#33638d"/>
<rect x="183.83" y="115.11" width="5.50" height="4.44" fill="#306a8e"/>
<rect x="188.34" y="115.11" width="5.50" height="4.44" fill="#2e6f8e"/>
<rect x="192.84" y="115.11" width="5.50" height="4.44" fill="#2d718e"/>
<rect x="197.35" y="115.11" width="5.50" height="4.44" fill="#2d708e"/>
<rect x="201.85" y="115.11" width="5.50" height="4.44" fill="#2e6d8e"/>
<rect x="206.36" y="115.11" width="5.50" height="4.44" fill="#31678e"/>
<rect x="210.86" y="115.11" width="5.50" height="4.44" fill="#355f8d"/>
<rect x="215.37" y="115.11" width="5.50" height="4.44" fill="#3a548c"/>
<rect x="219.87" y="115.11" width="5.50" height="4.44" fill="#3f4889"/>
<rect x="224.38" y="115.11" width="5.50" height="4.44" fill="#443a83"/>
<rect x="228.88" y="115.11" width="5.50" height="4.44" fill="#472d7b"/>
<rect x="233.39" y="115.11" width="5.50" height="4.44" fill="#482071"/>
<rect x="237.89" y="115.11" width="5.50" height="4.44" fill="#481467"/>
<rect x="242.40" y="115.11" width="4.50" height="4.44" fill="#460b5e"/>
</g>
<rect x="152.3" y="26.25" width="94.6" height="93.3" fill="none" stroke="#444" stroke-width="0.35"/>
<rect x="252.2" y="26.25" width="5.80" height="93.30" fill="#fbe723"/>
<rect x="252.2" y="27.71" width="5.80" height="91.84" fill="#f1e51d"/>
<rect x="252.2" y="29.17" width="5.80" height="90.38" fill="#e7e419"/>
<rect x="252.2" y="30.62" width="5.80" height="88.93" fill="#dde318"/>
<rect x="252.2" y="32.08" width="5.80" height="87.47" fill="#d2e21b"/>
<rect x="252.2" y="33.54" width="5.80" height="86.01" fill="#c8e020"/>
<rect x="252.2" y="35.00" width="5.80" height="84.55" fill="#bddf26"/>
<rect x="252.2" y="36.45" width="5.80" height="83.10" fill="#b2dd2d"/>
<rect x="252.2" y="37.91" width="5.80" height="81.64" fill="#a8db34"/>
<rect x="252.2" y="39.37" width="5.80" height="80.18" fill="#9dd93b"/>
<rect x="252.2" y="40.83" width="5.80" height="78.72" fill="#93d741"/>
<rect x="252.2" y="42.29" width="5.80" height="77.26" fill="#89d548"/>
<rect x="252.2" y="43.74" width="5.80" height="75.81" fill="#7fd34e"/>
<rect x="252.2" y="45.20" width="5.80" height="74.35" fill="#75d054"/>
<rect x="252.2" y="46.66" width="5.80" height="72.89" fill="#6ccd5a"/>
<rect x="252.2" y="48.12" width="5.80" height="71.43" fill="#63cb5f"/>
<rect x="252.2" y="49.58" width="5.80" height="69.97" fill="#5ac864"/>
<rect x="252.2" y="51.03" width="5.80" height="68.52" fill="#52c569"/>
<rect x="252.2" y="52.49" width="5.80" height="67.06" fill="#4ac16d"/>
<rect x="252.2" y="53.95" width="5.80" height="65.60" fill="#42be71"/>
<rect x="252.2" y="55.41" width="5.80" height="64.14" fill="#3bbb75"/>
<rect x="252.2" y="56.86" width="5.80" height="62.69" fill="#35b779"/>
<rect x="252.2" y="58.32" width="5.80" height="61.23" fill="#2fb47c"/>
<rect x="252.2" y="59.78" width="5.80" height="59.77" fill="#2ab07f"/>
<rect x="252.2" y="61.24" width="5.80" height="58.31" fill="#26ad81"/>
<rect x="252.2" y="62.70" width="5.80" height="56.85" fill="#23a983"/>
<rect x="252.2" y="64.15" width="5.80" height="55.40" fill="#21a585"/>
<rect x="252.2" y="65.61" width="5.80" height="53.94" fill="#1fa187"/>
<rect x="252.2" y="67.07" width="5.80" height="52.48" fill="#1f9e89"/>
<rect x="252.2" y="68.53" width="5.80" height="51.02" fill="#1f9a8a"/>
<rect x="252.2" y="69.98" width="5.80" height="49.57" fill="#1f968b"/>
<rect x="252.2" y="71.44" width="5.80" height="48.11" fill="#20928c"/>
<rect x="252.2" y="72.90" width="5.80" height="46.65" fill="#218f8d"/>
<rect x="252.2" y="74.36" width="5.80" height="45.19" fill="#228b8d"/>
<rect x="252.2" y="75.82" width="5.80" height="43.73" fill="#24878e"/>
<rect x="252.2" y="77.27" width="5.80" height="42.28" fill="#25838e"/>
<rect x="252.2" y="78.73" width="5.80" height="40.82" fill="#27808e"/>
<rect x="252.2" y="80.19" width="5.80" height="39.36" fill="#287c8e"/>
<rect x="252.2" y="81.65" width="5.80" height="37.90" fill="#2a788e"/>
<rect x="252.2" y="83.10" width="5.80" height="36.45" fill="#2b748e"/>
<rect x="252.2" y="84.56" width="5.80" height="34.99" fill="#2d718e"/>
<rect x="252.2" y="86.02" width="5.80" height="33.53" fill="#2e6d8e"/>
<rect x="252.2" y="87.48" width="5.80" height="32.07" fill="#30698e"/>
<rect x="252.2" y="88.94" width="5.80" height="30.61" fill="#32658e"/>
<rect x="252.2" y="90.39" width="5.80" height="29.16" fill="#34618d"/>
<rect x="252.2" y="91.85" width="5.80" height="27.70" fill="#365d8d"/>
<rect x="252.2" y="93.31" width="5.80" height="26.24" fill="#38598c"/>
<rect x="252.2" y="94.77" width="5.80" height="24.78" fill="#3a548c"/>
<rect x="252.2" y="96.22" width="5.80" height="23.33" fill="#3c508b"/>
<rect x="252.2" y="97.68" width="5.80" height="21.87" fill="#3e4c8a"/>
<rect x="252.2" y="99.14" width="5.80" height="20.41" fill="#3f4788"/>
<rect x="252.2" y="100.60" width="5.80" height="18.95" fill="#414287"/>
<rect x="252.2" y="102.06" width="5.80" height="17.49" fill="#433e85"/>
<rect x="252.2" y="103.51" width="5.80" height="16.04" fill="#443983"/>
<rect x="252.2" y="104.97" width="5.80" height="14.58" fill="#463480"/>
<rect x="252.2" y="106.43" width="5.80" height="13.12" fill="#472f7d"/>
<rect x="252.2" y="107.89" width="5.80" height="11.66" fill="#472a7a"/>
<rect x="252.2" y="109.35" width="5.80" height="10.20" fill="#482576"/>
<rect x="252.2" y="110.80" width="5.80" height="8.75" fill="#482071"/>
<rect x="252.2" y="112.26" width="5.80" height="7.29" fill="#481b6d"/>
<rect x="252.2" y="113.72" width="5.80" height="5.83" fill="#481668"/>
<rect x="252.2" y="115.18" width="5.80" height="4.37" fill="#471063"/>
<rect x="252.2" y="116.63" width="5.80" height="2.92" fill="#460a5d"/>
<rect x="252.2" y="118.09" width="5.80" height="1.46" fill="#450457"/>
<rect x="252.2" y="26.25" width="5.800000000000011" height="93.3" fill="none" stroke="#444" stroke-width="0.35"/>
<line x1="258.0" x2="259.5" y1="115.72" y2="115.72" stroke="#555" stroke-width="0.35"/>
<text x="260.5" y="118.02" font-size="5.4" text-anchor="start" fill="#000">20</text>
<line x1="258.0" x2="259.5" y1="97.92" y2="97.92" stroke="#555" stroke-width="0.35"/>
<text x="260.5" y="100.21" font-size="5.4" text-anchor="start" fill="#000">22</text>
<line x1="258.0" x2="259.5" y1="80.11" y2="80.11" stroke="#555" stroke-width="0.35"/>
<text x="260.5" y="82.41" font-size="5.4" text-anchor="start" fill="#000">24</text>
<line x1="258.0" x2="259.5" y1="62.31" y2="62.31" stroke="#555" stroke-width="0.35"/>
<text x="260.5" y="64.6" font-size="5.4" text-anchor="start" fill="#000">26</text>
<line x1="258.0" x2="259.5" y1="44.50" y2="44.50" stroke="#555" stroke-width="0.35"/>
<text x="260.5" y="46.79" font-size="5.4" text-anchor="start" fill="#000">28</text>
<line x1="258.0" x2="259.5" y1="26.70" y2="26.70" stroke="#555" stroke-width="0.35"/>
<text x="260.5" y="28.99" font-size="5.4" text-anchor="start" fill="#000">30</text>
<line x1="172.57" x2="172.57" y1="119.55" y2="121.05" stroke="#555" stroke-width="0.35"/>
<text x="172.57" y="126.49" font-size="5.4" text-anchor="middle" fill="#000">4</text>
<line x1="208.61" x2="208.61" y1="119.55" y2="121.05" stroke="#555" stroke-width="0.35"/>
<text x="208.61" y="126.49" font-size="5.4" text-anchor="middle" fill="#000">6</text>
<line x1="244.65" x2="244.65" y1="119.55" y2="121.05" stroke="#555" stroke-width="0.35"/>
<text x="244.65" y="126.49" font-size="5.4" text-anchor="middle" fill="#000">8</text>
<line x1="150.8" x2="152.3" y1="117.33" y2="117.33" stroke="#555" stroke-width="0.35"/>
<text x="150.1" y="119.97" font-size="5.4" text-anchor="end" fill="#000">49</text>
<line x1="150.8" x2="152.3" y1="99.56" y2="99.56" stroke="#555" stroke-width="0.35"/>
<text x="150.1" y="102.2" font-size="5.4" text-anchor="end" fill="#000">50</text>
<line x1="150.8" x2="152.3" y1="81.79" y2="81.79" stroke="#555" stroke-width="0.35"/>
<text x="150.1" y="84.43" font-size="5.4" text-anchor="end" fill="#000">51</text>
<line x1="150.8" x2="152.3" y1="64.01" y2="64.01" stroke="#555" stroke-width="0.35"/>
<text x="150.1" y="66.66" font-size="5.4" text-anchor="end" fill="#000">52</text>
<line x1="150.8" x2="152.3" y1="46.24" y2="46.24" stroke="#555" stroke-width="0.35"/>
<text x="150.1" y="48.89" font-size="5.4" text-anchor="end" fill="#000">53</text>
<line x1="150.8" x2="152.3" y1="28.47" y2="28.47" stroke="#555" stroke-width="0.35"/>
<text x="150.1" y="31.12" font-size="5.4" text-anchor="end" fill="#000">54</text>
<text x="199.6" y="134.35" font-size="6.2" text-anchor="middle" fill="#000">Longitude</text>
<text x="141.5" y="73.3" font-size="6.2" text-anchor="middle" transform="rotate(-90 141.5 73.3)" fill="#000">Latitude</text>
<text x="199.6" y="24.25" font-size="6.1" text-anchor="middle" font-weight="bold" fill="#000">(b)Prediction Y [m/s]</text>
<g>
<rect x="20.70" y="157.10" width="14.44" height="5.44" fill="#ece51b"/>
<rect x="34.14" y="157.10" width="5.48" height="5.44" fill="#eae51a"/>
<rect x="38.62" y="157.10" width="5.48" height="5.44" fill="#e5e419"/>
<rect x="43.10" y="157.10" width="5.48" height="5.44" fill="#dae319"/>
<rect x="47.59" y="157.10" width="5.48" height="5.44" fill="#d2e21b"/>
<rect x="52.07" y="157.10" width="5.48" height="5.44" fill="#c8e020"/>
<rect x="56.55" y="157.10" width="5.48" height="5.44" fill="#bddf26"/>
<rect x="61.03" y="157.10" width="5.48" height="5.44" fill="#bade28"/>
<rect x="65.51" y="157.10" width="5.48" height="5.44" fill="#b5de2b"/>
<rect x="69.99" y="157.10" width="5.48" height="5.44" fill="#b2dd2d"/>
<rect x="74.47" y="157.10" width="5.48" height="5.44" fill="#b0dd2f"/>
<rect x="78.95" y="157.10" width="5.48" height="5.44" fill="#b2dd2d"/>
<rect x="83.43" y="157.10" width="5.48" height="5.44" fill="#b5de2b"/>
<rect x="87.91" y="157.10" width="5.48" height="5.44" fill="#bade28"/>
<rect x="92.40" y="157.10" width="5.48" height="5.44" fill="#bddf26"/>
<rect x="96.88" y="157.10" width="5.48" height="5.44" fill="#cde11d"/>
<rect x="101.36" y="157.10" width="5.48" height="5.44" fill="#dfe318"/>
<rect x="105.84" y="157.10" width="5.48" height="5.44" fill="#efe51c"/>
<rect x="110.32" y="157.10" width="4.48" height="5.44" fill="#fde725"/>
<rect x="20.70" y="161.54" width="5.48" height="5.44" fill="#dfe318"/>
<rect x="25.18" y="161.54" width="5.48" height="5.44" fill="#e5e419"/>
<rect x="29.66" y="161.54" width="5.48" height="5.44" fill="#ece51b"/>
<rect x="34.14" y="161.54" width="9.96" height="5.44" fill="#eae51a"/>
<rect x="43.10" y="161.54" width="5.48" height="5.44" fill="#dde318"/>
<rect x="47.59" y="161.54" width="5.48" height="5.44" fill="#d2e21b"/>
<rect x="52.07" y="161.54" width="5.48" height="5.44" fill="#c8e020"/>
<rect x="56.55" y="161.54" width="5.48" height="5.44" fill="#bddf26"/>
<rect x="61.03" y="161.54" width="5.48" height="5.44" fill="#b8de29"/>
<rect x="65.51" y="161.54" width="5.48" height="5.44" fill="#b5de2b"/>
<rect x="69.99" y="161.54" width="5.48" height="5.44" fill="#b0dd2f"/>
<rect x="74.47" y="161.54" width="18.92" height="5.44" fill="#addc30"/>
<rect x="92.40" y="161.54" width="5.48" height="5.44" fill="#b0dd2f"/>
<rect x="96.88" y="161.54" width="5.48" height="5.44" fill="#b8de29"/>
<rect x="101.36" y="161.54" width="5.48" height="5.44" fill="#c0df25"/>
<rect x="105.84" y="161.54" width="5.48" height="5.44" fill="#c5e021"/>
<rect x="110.32" y="161.54" width="4.48" height="5.44" fill="#cde11d"/>
<rect x="20.70" y="165.99" width="5.48" height="5.44" fill="#d2e21b"/>
<rect x="25.18" y="165.99" width="5.48" height="5.44" fill="#dfe318"/>
<rect x="29.66" y="165.99" width="14.44" height="5.44" fill="#ece51b"/>
<rect x="43.10" y="165.99" width="5.48" height="5.44" fill="#dfe318"/>
<rect x="47.59" y="165.99" width="5.48" height="5.44" fill="#d5e21a"/>
<rect x="52.07" y="165.99" width="5.48" height="5.44" fill="#c8e020"/>
<rect x="56.55" y="165.99" width="5.48" height="5.44" fill="#bddf26"/>
<rect x="61.03" y="165.99" width="5.48" height="5.44" fill="#b8de29"/>
<rect x="65.51" y="165.99" width="5.48" height="5.44" fill="#b2dd2d"/>
<rect x="69.99" y="165.99" width="5.48" height="5.44" fill="#addc30"/>
<rect x="74.47" y="165.99" width="9.96" height="5.44" fill="#a8db34"/>
<rect x="83.43" y="165.99" width="5.48" height="5.44" fill="#a5db36"/>
<rect x="87.91" y="165.99" width="9.96" height="5.44" fill="#a2da37"/>
<rect x="96.88" y="165.99" width="5.48" height="5.44" fill="#a0da39"/>
<rect x="101.36" y="165.99" width="9.96" height="5.44" fill="#9dd93b"/>
<rect x="110.32" y="165.99" width="4.48" height="5.44" fill="#9bd93c"/>
<rect x="20.70" y="170.43" width="5.48" height="5.44" fill="#a5db36"/>
<rect x="25.18" y="170.43" width="5.48" height="5.44" fill="#c2df23"/>
<rect x="29.66" y="170.43" width="9.96" height="5.44" fill="#dfe318"/>
<rect x="38.62" y="170.43" width="5.48" height="5.44" fill="#e2e418"/>
<rect x="43.10" y="170.43" width="5.48" height="5.44" fill="#d8e219"/>
<rect x="47.59" y="170.43" width="5.48" height="5.44" fill="#cae11f"/>
<rect x="52.07" y="170.43" width="5.48" height="5.44" fill="#c0df25"/>
<rect x="56.55" y="170.43" width="5.48" height="5.44" fill="#b2dd2d"/>
<rect x="61.03" y="170.43" width="5.48" height="5.44" fill="#addc30"/>
<rect x="65.51" y="170.43" width="5.48" height="5.44" fill="#aadc32"/>
<rect x="69.99" y="170.43" width="5.48" height="5.44" fill="#a5db36"/>
<rect x="74.47" y="170.43" width="5.48" height="5.44" fill="#a2da37"/>
<rect x="78.95" y="170.43" width="5.48" height="5.44" fill="#9dd93b"/>
<rect x="83.43" y="170.43" width="5.48" height="5.44" fill="#98d83e"/>
<rect x="87.91" y="170.43" width="5.48" height="5.44" fill="#93d741"/>
<rect x="92.40" y="170.43" width="5.48" height="5.44" fill="#8ed645"/>
<rect x="96.88" y="170.43" width="5.48" height="5.44" fill="#86d549"/>
<rect x="101.36" y="170.43" width="5.48" height="5.44" fill="#7fd34e"/>
<rect x="105.84" y="170.43" width="5.48" height="5.44" fill="#77d153"/>
<rect x="110.32" y="170.43" width="4.48" height="5.44" fill="#70cf57"/>
<rect x="20.70" y="174.87" width="5.48" height="5.44" fill="#7ad151"/>
<rect x="25.18" y="174.87" width="5.48" height="5.44" fill="#a5db36"/>
<rect x="29.66" y="174.87" width="5.48" height="5.44" fill="#d2e21b"/>
<rect x="34.14" y="174.87" width="5.48" height="5.44" fill="#d5e21a"/>
<rect x="38.62" y="174.87" width="5.48" height="5.44" fill="#d8e219"/>
<rect x="43.10" y="174.87" width="5.48" height="5.44" fill="#cde11d"/>
<rect x="47.59" y="174.87" width="5.48" height="5.44" fill="#c0df25"/>
<rect x="52.07" y="174.87" width="5.48" height="5.44" fill="#b5de2b"/>
<rect x="56.55" y="174.87" width="5.48" height="5.44" fill="#a8db34"/>
<rect x="61.03" y="174.87" width="5.48" height="5.44" fill="#a5db36"/>
<rect x="65.51" y="174.87" width="5.48" height="5.44" fill="#a2da37"/>
<rect x="69.99" y="174.87" width="5.48" height="5.44" fill="#9dd93b"/>
<rect x="74.47" y="174.87" width="5.48" height="5.44" fill="#9bd93c"/>
<rect x="78.95" y="174.87" width="5.48" height="5.44" fill="#93d741"/>
<rect x="83.43" y="174.87" width="5.48" height="5.44" fill="#8bd646"/>
<rect x="87.91" y="174.87" width="5.48" height="5.44" fill="#84d44b"/>
<rect x="92.40" y="174.87" width="5.48" height="5.44" fill="#7ad151"/>
<rect x="96.88" y="174.87" width="5.48" height="5.44" fill="#6ece58"/>
<rect x="101.36" y="174.87" width="5.48" height="5.44" fill="#63cb5f"/>
<rect x="105.84" y="174.87" width="5.48" height="5.44" fill="#58c765"/>
<rect x="110.32" y="174.87" width="4.48" height="5.44" fill="#4ec36b"/>
<rect x="20.70" y="179.31" width="5.48" height="5.44" fill="#50c46a"/>
<rect x="25.18" y="179.31" width="5.48" height="5.44" fill="#81d34d"/>
<rect x="29.66" y="179.31" width="5.48" height="5.44" fill="#bade28"/>
<rect x="34.14" y="179.31" width="5.48" height="5.44" fill="#bddf26"/>
<rect x="38.62" y="179.31" width="5.48" height="5.44" fill="#c0df25"/>
<rect x="43.10" y="179.31" width="5.48" height="5.44" fill="#b8de29"/>
<rect x="47.59" y="179.31" width="5.48" height="5.44" fill="#addc30"/>
<rect x="52.07" y="179.31" width="5.48" height="5.44" fill="#a5db36"/>
<rect x="56.55" y="179.31" width="5.48" height="5.44" fill="#9bd93c"/>
<rect x="61.03" y="179.31" width="5.48" height="5.44" fill="#93d741"/>
<rect x="65.51" y="179.31" width="5.48" height="5.44" fill="#8bd646"/>
<rect x="69.99" y="179.31" width="5.48" height="5.44" fill="#84d44b"/>
<rect x="74.47" y="179.31" width="5.48" height="5.44" fill="#7fd34e"/>
<rect x="78.95" y="179.31" width="5.48" height="5.44" fill="#70cf57"/>
<rect x="83.43" y="179.31" width="5.48" height="5.44" fill="#63cb5f"/>
<rect x="87.91" y="179.31" width="5.48" height="5.44" fill="#56c667"/>
<rect x="92.40" y="179.31" width="5.48" height="5.44" fill="#4cc26c"/>
<rect x="96.88" y="179.31" width="5.48" height="5.44" fill="#3fbc73"/>
<rect x="101.36" y="179.31" width="5.48" height="5.44" fill="#35b779"/>
<rect x="105.84" y="179.31" width="5.48" height="5.44" fill="#2db27d"/>
<rect x="110.32" y="179.31" width="4.48" height="5.44" fill="#26ad81"/>
<rect x="20.70" y="183.76" width="5.48" height="5.44" fill="#2fb47c"/>
<rect x="25.18" y="183.76" width="5.48" height="5.44" fill="#60ca60"/>
<rect x="29.66" y="183.76" width="5.48" height="5.44" fill="#a2da37"/>
<rect x="34.14" y="183.76" width="5.48" height="5.44" fill="#a5db36"/>
<rect x="38.62" y="183.76" width="5.48" height="5.44" fill="#a8db34"/>
<rect x="43.10" y="183.76" width="5.48" height="5.44" fill="#a2da37"/>
<rect x="47.59" y="183.76" width="5.48" height="5.44" fill="#9bd93c"/>
<rect x="52.07" y="183.76" width="5.48" height="5.44" fill="#95d840"/>
<rect x="56.55" y="183.76" width="5.48" height="5.44" fill="#8ed645"/>
<rect x="61.03" y="183.76" width="5.48" height="5.44" fill="#84d44b"/>
<rect x="65.51" y="183.76" width="5.48" height="5.44" fill="#77d153"/>
<rect x="69.99" y="183.76" width="5.48" height="5.44" fill="#6ece58"/>
<rect x="74.47" y="183.76" width="5.48" height="5.44" fill="#63cb5f"/>
<rect x="78.95" y="183.76" width="5.48" height="5.44" fill="#52c569"/>
<rect x="83.43" y="183.76" width="5.48" height="5.44" fill="#40bd72"/>
<rect x="87.91" y="183.76" width="5.48" height="5.44" fill="#34b679"/>
<rect x="92.40" y="183.76" width="5.48" height="5.44" fill="#29af7f"/>
<rect x="96.88" y="183.76" width="5.48" height="5.44" fill="#23a983"/>
<rect x="101.36" y="183.76" width="5.48" height="5.44" fill="#1fa287"/>
<rect x="105.84" y="183.76" width="5.48" height="5.44" fill="#1e9c89"/>
<rect x="110.32" y="183.76" width="4.48" height="5.44" fill="#1f958b"/>
<rect x="20.70" y="188.20" width="5.48" height="5.44" fill="#22a884"/>
<rect x="25.18" y="188.20" width="5.48" height="5.44" fill="#4cc26c"/>
<rect x="29.66" y="188.20" width="5.48" height="5.44" fill="#8ed645"/>
<rect x="34.14" y="188.20" width="9.96" height="5.44" fill="#90d743"/>
<rect x="43.10" y="188.20" width="5.48" height="5.44" fill="#89d548"/>
<rect x="47.59" y="188.20" width="5.48" height="5.44" fill="#81d34d"/>
<rect x="52.07" y="188.20" width="5.48" height="5.44" fill="#7ad151"/>
<rect x="56.55" y="188.20" width="5.48" height="5.44" fill="#70cf57"/>
<rect x="61.03" y="188.20" width="5.48" height="5.44" fill="#60ca60"/>
<rect x="65.51" y="188.20" width="5.48" height="5.44" fill="#52c569"/>
<rect x="69.99" y="188.20" width="5.48" height="5.44" fill="#42be71"/>
<rect x="74.47" y="188.20" width="5.48" height="5.44" fill="#37b878"/>
<rect x="78.95" y="188.20" width="5.48" height="5.44" fill="#2ab07f"/>
<rect x="83.43" y="188.20" width="5.48" height="5.44" fill="#22a884"/>
<rect x="87.91" y="188.20" width="5.48" height="5.44" fill="#1fa088"/>
<rect x="92.40" y="188.20" width="5.48" height="5.44" fill="#1f978b"/>
<rect x="96.88" y="188.20" width="5.48" height="5.44" fill="#20928c"/>
<rect x="101.36" y="188.20" width="5.48" height="5.44" fill="#228c8d"/>
<rect x="105.84" y="188.20" width="5.48" height="5.44" fill="#24868e"/>
<rect x="110.32" y="188.20" width="4.48" height="5.44" fill="#26818e"/>
<rect x="20.70" y="192.64" width="5.48" height="5.44" fill="#1e9c89"/>
<rect x="25.18" y="192.64" width="5.48" height="5.44" fill="#38b977"/>
<rect x="29.66" y="192.64" width="14.44" height="5.44" fill="#7ad151"/>
<rect x="43.10" y="192.64" width="5.48" height="5.44" fill="#70cf57"/>
<rect x="47.59" y="192.64" width="5.48" height="5.44" fill="#69cd5b"/>
<rect x="52.07" y="192.64" width="5.48" height="5.44" fill="#60ca60"/>
<rect x="56.55" y="192.64" width="5.48" height="5.44" fill="#58c765"/>
<rect x="61.03" y="192.64" width="5.48" height="5.44" fill="#44bf70"/>
<rect x="65.51" y="192.64" width="5.48" height="5.44" fill="#32b67a"/>
<rect x="69.99" y="192.64" width="5.48" height="5.44" fill="#26ad81"/>
<rect x="74.47" y="192.64" width="5.48" height="5.44" fill="#20a386"/>
<rect x="78.95" y="192.64" width="5.48" height="5.44" fill="#1f9a8a"/>
<rect x="83.43" y="192.64" width="5.48" height="5.44" fill="#20928c"/>
<rect x="87.91" y="192.64" width="5.48" height="5.44" fill="#23888e"/>
<rect x="92.40" y="192.64" width="5.48" height="5.44" fill="#27808e"/>
<rect x="96.88" y="192.64" width="5.48" height="5.44" fill="#297a8e"/>
<rect x="101.36" y="192.64" width="5.48" height="5.44" fill="#2b758e"/>
<rect x="105.84" y="192.64" width="5.48" height="5.44" fill="#2d718e"/>
<rect x="110.32" y="192.64" width="4.48" height="5.44" fill="#2f6c8e"/>
<rect x="20.70" y="197.09" width="5.48" height="5.44" fill="#22a785"/>
<rect x="25.18" y="197.09" width="5.48" height="5.44" fill="#35b779"/>
<rect x="29.66" y="197.09" width="5.48" height="5.44" fill="#58c765"/>
<rect x="34.14" y="197.09" width="5.48" height="5.44" fill="#52c569"/>
<rect x="38.62" y="197.09" width="5.48" height="5.44" fill="#4ec36b"/>
<rect x="43.10" y="197.09" width="5.48" height="5.44" fill="#42be71"/>
<rect x="47.59" y="197.09" width="5.48" height="5.44" fill="#3aba76"/>
<rect x="52.07" y="197.09" width="5.48" height="5.44" fill="#32b67a"/>
<rect x="56.55" y="197.09" width="5.48" height="5.44" fill="#2ab07f"/>
<rect x="61.03" y="197.09" width="5.48" height="5.44" fill="#22a884"/>
<rect x="65.51" y="197.09" width="5.48" height="5.44" fill="#1fa188"/>
<rect x="69.99" y="197.09" width="5.48" height="5.44" fill="#1f988b"/>
<rect x="74.47" y="197.09" width="5.48" height="5.44" fill="#21918c"/>
<rect x="78.95" y="197.09" width="5.48" height="5.44" fill="#23888e"/>
<rect x="83.43" y="197.09" width="5.48" height="5.44" fill="#27808e"/>
<rect x="87.91" y="197.09" width="5.48" height="5.44" fill="#2a788e"/>
<rect x="92.40" y="197.09" width="5.48" height="5.44" fill="#2d708e"/>
<rect x="96.88" y="197.09" width="5.48" height="5.44" fill="#2e6d8e"/>
<rect x="101.36" y="197.09" width="5.48" height="5.44" fill="#2f6b8e"/>
<rect x="105.84" y="197.09" width="5.48" height="5.44" fill="#31688e"/>
<rect x="110.32" y="197.09" width="4.48" height="5.44" fill="#31668e"/>
<rect x="20.70" y="201.53" width="5.48" height="5.44" fill="#2cb17e"/>
<rect x="25.18" y="201.53" width="5.48" height="5.44" fill="#32b67a"/>
<rect x="29.66" y="201.53" width="5.48" height="5.44" fill="#3bbb75"/>
<rect x="34.14" y="201.53" width="5.48" height="5.44" fill="#32b67a"/>
<rect x="38.62" y="201.53" width="5.48" height="5.44" fill="#2cb17e"/>
<rect x="43.10" y="201.53" width="5.48" height="5.44" fill="#25ab82"/>
<rect x="47.59" y="201.53" width="5.48" height="5.44" fill="#20a486"/>
<rect x="52.07" y="201.53" width="5.48" height="5.44" fill="#1f9e89"/>
<rect x="56.55" y="201.53" width="5.48" height="5.44" fill="#1f978b"/>
<rect x="61.03" y="201.53" width="5.48" height="5.44" fill="#21918c"/>
<rect x="65.51" y="201.53" width="5.48" height="5.44" fill="#238a8d"/>
<rect x="69.99" y="201.53" width="5.48" height="5.44" fill="#25838e"/>
<rect x="74.47" y="201.53" width="5.48" height="5.44" fill="#287d8e"/>
<rect x="78.95" y="201.53" width="5.48" height="5.44" fill="#2b758e"/>
<rect x="83.43" y="201.53" width="5.48" height="5.44" fill="#2e6f8e"/>
<rect x="87.91" y="201.53" width="5.48" height="5.44" fill="#31678e"/>
<rect x="92.40" y="201.53" width="22.40" height="5.44" fill="#355f8d"/>
<rect x="20.70" y="205.97" width="5.48" height="5.44" fill="#37b878"/>
<rect x="25.18" y="205.97" width="5.48" height="5.44" fill="#2eb37c"/>
<rect x="29.66" y="205.97" width="5.48" height="5.44" fill="#26ad81"/>
<rect x="34.14" y="205.97" width="5.48" height="5.44" fill="#22a785"/>
<rect x="38.62" y="205.97" width="5.48" height="5.44" fill="#1fa188"/>
<rect x="43.10" y="205.97" width="5.48" height="5.44" fill="#1e9c89"/>
<rect x="47.59" y="205.97" width="5.48" height="5.44" fill="#1f978b"/>
<rect x="52.07" y="205.97" width="5.48" height="5.44" fill="#20928c"/>
<rect x="56.55" y="205.97" width="5.48" height="5.44" fill="#218e8d"/>
<rect x="61.03" y="205.97" width="5.48" height="5.44" fill="#24878e"/>
<rect x="65.51" y="205.97" width="5.48" height="5.44" fill="#26828e"/>
<rect x="69.99" y="205.97" width="5.48" height="5.44" fill="#297b8e"/>
<rect x="74.47" y="205.97" width="5.48" height="5.44" fill="#2b748e"/>
<rect x="78.95" y="205.97" width="5.48" height="5.44" fill="#2e6d8e"/>
<rect x="83.43" y="205.97" width="5.48" height="5.44" fill="#31668e"/>
<rect x="87.91" y="205.97" width="5.48" height="5.44" fill="#355e8d"/>
<rect x="92.40" y="205.97" width="5.48" height="5.44" fill="#39558c"/>
<rect x="96.88" y="205.97" width="5.48" height="5.44" fill="#38588c"/>
<rect x="101.36" y="205.97" width="5.48" height="5.44" fill="#38598c"/>
<rect x="105.84" y="205.97" width="5.48" height="5.44" fill="#375a8c"/>
<rect x="110.32" y="205.97" width="4.48" height="5.44" fill="#375b8d"/>
<rect x="20.70" y="210.41" width="5.48" height="5.44" fill="#44bf70"/>
<rect x="25.18" y="210.41" width="5.48" height="5.44" fill="#29af7f"/>
<rect x="29.66" y="210.41" width="5.48" height="5.44" fill="#1f9f88"/>
<rect x="34.14" y="210.41" width="5.48" height="5.44" fill="#1f978b"/>
<rect x="38.62" y="210.41" width="5.48" height="5.44" fill="#21918c"/>
<rect x="43.10" y="210.41" width="5.48" height="5.44" fill="#228d8d"/>
<rect x="47.59" y="210.41" width="5.48" height="5.44" fill="#238a8d"/>
<rect x="52.07" y="210.41" width="5.48" height="5.44" fill="#24878e"/>
<rect x="56.55" y="210.41" width="5.48" height="5.44" fill="#25848e"/>
<rect x="61.03" y="210.41" width="5.48" height="5.44" fill="#277e8e"/>
<rect x="65.51" y="210.41" width="5.48" height="5.44" fill="#2a788e"/>
<rect x="69.99" y="210.41" width="5.48" height="5.44" fill="#2c718e"/>
<rect x="74.47" y="210.41" width="5.48" height="5.44" fill="#2f6c8e"/>
<rect x="78.95" y="210.41" width="5.48" height="5.44" fill="#32648e"/>
<rect x="83.43" y="210.41" width="5.48" height="5.44" fill="#365d8d"/>
<rect x="87.91" y="210.41" width="5.48" height="5.44" fill="#3a548c"/>
<rect x="92.40" y="210.41" width="5.48" height="5.44" fill="#3e4c8a"/>
<rect x="96.88" y="210.41" width="5.48" height="5.44" fill="#3c4f8a"/>
<rect x="101.36" y="210.41" width="5.48" height="5.44" fill="#3b528b"/>
<rect x="105.84" y="210.41" width="5.48" height="5.44" fill="#3a548c"/>
<rect x="110.32" y="210.41" width="4.48" height="5.44" fill="#38588c"/>
<rect x="20.70" y="214.86" width="5.48" height="5.44" fill="#3fbc73"/>
<rect x="25.18" y="214.86" width="5.48" height="5.44" fill="#25ab82"/>
<rect x="29.66" y="214.86" width="5.48" height="5.44" fill="#1f978b"/>
<rect x="34.14" y="214.86" width="5.48" height="5.44" fill="#20928c"/>
<rect x="38.62" y="214.86" width="5.48" height="5.44" fill="#228b8d"/>
<rect x="43.10" y="214.86" width="5.48" height="5.44" fill="#23888e"/>
<rect x="47.59" y="214.86" width="5.48" height="5.44" fill="#25848e"/>
<rect x="52.07" y="214.86" width="5.48" height="5.44" fill="#26828e"/>
<rect x="56.55" y="214.86" width="5.48" height="5.44" fill="#277e8e"/>
<rect x="61.03" y="214.86" width="5.48" height="5.44" fill="#29798e"/>
<rect x="65.51" y="214.86" width="5.48" height="5.44" fill="#2c738e"/>
<rect x="69.99" y="214.86" width="5.48" height="5.44" fill="#2e6e8e"/>
<rect x="74.47" y="214.86" width="5.48" height="5.44" fill="#31688e"/>
<rect x="78.95" y="214.86" width="5.48" height="5.44" fill="#33628d"/>
<rect x="83.43" y="214.86" width="5.48" height="5.44" fill="#365c8d"/>
<rect x="87.91" y="214.86" width="5.48" height="5.44" fill="#39558c"/>
<rect x="92.40" y="214.86" width="5.48" height="5.44" fill="#3c4f8a"/>
<rect x="96.88" y="214.86" width="5.48" height="5.44" fill="#3c508b"/>
<rect x="101.36" y="214.86" width="5.48" height="5.44" fill="#3b528b"/>
<rect x="105.84" y="214.86" width="5.48" height="5.44" fill="#3a538b"/>
<rect x="110.32" y="214.86" width="4.48" height="5.44" fill="#3a548c"/>
<rect x="20.70" y="219.30" width="5.48" height="5.44" fill="#3bbb75"/>
<rect x="25.18" y="219.30" width="5.48" height="5.44" fill="#21a685"/>
<rect x="29.66" y="219.30" width="5.48" height="5.44" fill="#21918c"/>
<rect x="34.14" y="219.30" width="5.48" height="5.44" fill="#228b8d"/>
<rect x="38.62" y="219.30" width="5.48" height="5.44" fill="#24868e"/>
<rect x="43.10" y="219.30" width="5.48" height="5.44" fill="#26828e"/>
<rect x="47.59" y="219.30" width="5.48" height="5.44" fill="#27808e"/>
<rect x="52.07" y="219.30" width="5.48" height="5.44" fill="#287c8e"/>
<rect x="56.55" y="219.30" width="5.48" height="5.44" fill="#2a788e"/>
<rect x="61.03" y="219.30" width="5.48" height="5.44" fill="#2c738e"/>
<rect x="65.51" y="219.30" width="5.48" height="5.44" fill="#2e6f8e"/>
<rect x="69.99" y="219.30" width="5.48" height="5.44" fill="#306a8e"/>
<rect x="74.47" y="219.30" width="5.48" height="5.44" fill="#32648e"/>
<rect x="78.95" y="219.30" width="5.48" height="5.44" fill="#34608d"/>
<rect x="83.43" y="219.30" width="5.48" height="5.44" fill="#375b8d"/>
<rect x="87.91" y="219.30" width="5.48" height="5.44" fill="#39568c"/>
<rect x="92.40" y="219.30" width="22.40" height="5.44" fill="#3b528b"/>
<rect x="20.70" y="223.74" width="5.48" height="5.44" fill="#1e9c89"/>
<rect x="25.18" y="223.74" width="5.48" height="5.44" fill="#218f8d"/>
<rect x="29.66" y="223.74" width="5.48" height="5.44" fill="#26818e"/>
<rect x="34.14" y="223.74" width="5.48" height="5.44" fill="#287d8e"/>
<rect x="38.62" y="223.74" width="5.48" height="5.44" fill="#29798e"/>
<rect x="43.10" y="223.74" width="5.48" height="5.44" fill="#2a778e"/>
<rect x="47.59" y="223.74" width="5.48" height="5.44" fill="#2b748e"/>
<rect x="52.07" y="223.74" width="5.48" height="5.44" fill="#2c728e"/>
<rect x="56.55" y="223.74" width="5.48" height="5.44" fill="#2d708e"/>
<rect x="61.03" y="223.74" width="5.48" height="5.44" fill="#2f6c8e"/>
<rect x="65.51" y="223.74" width="5.48" height="5.44" fill="#30698e"/>
<rect x="69.99" y="223.74" width="5.48" height="5.44" fill="#32658e"/>
<rect x="74.47" y="223.74" width="5.48" height="5.44" fill="#33628d"/>
<rect x="78.95" y="223.74" width="5.48" height="5.44" fill="#355f8d"/>
<rect x="83.43" y="223.74" width="5.48" height="5.44" fill="#365c8d"/>
<rect x="87.91" y="223.74" width="5.48" height="5.44" fill="#38598c"/>
<rect x="92.40" y="223.74" width="14.44" height="5.44" fill="#39558c"/>
<rect x="105.84" y="223.74" width="8.96" height="5.44" fill="#3a548c"/>
<rect x="20.70" y="228.19" width="5.48" height="5.44" fill="#287d8e"/>
<rect x="25.18" y="228.19" width="5.48" height="5.44" fill="#2a778e"/>
<rect x="29.66" y="228.19" width="5.48" height="5.44" fill="#2d718e"/>
<rect x="34.14" y="228.19" width="5.48" height="5.44" fill="#2e6f8e"/>
<rect x="38.62" y="228.19" width="5.48" height="5.44" fill="#2f6c8e"/>
<rect x="43.10" y="228.19" width="5.48" height="5.44" fill="#2f6b8e"/>
<rect x="47.59" y="228.19" width="5.48" height="5.44" fill="#306a8e"/>
<rect x="52.07" y="228.19" width="5.48" height="5.44" fill="#31688e"/>
<rect x="56.55" y="228.19" width="5.48" height="5.44" fill="#31678e"/>
<rect x="61.03" y="228.19" width="5.48" height="5.44" fill="#32658e"/>
<rect x="65.51" y="228.19" width="5.48" height="5.44" fill="#33638d"/>
<rect x="69.99" y="228.19" width="5.48" height="5.44" fill="#34618d"/>
<rect x="74.47" y="228.19" width="5.48" height="5.44" fill="#355f8d"/>
<rect x="78.95" y="228.19" width="5.48" height="5.44" fill="#355e8d"/>
<rect x="83.43" y="228.19" width="5.48" height="5.44" fill="#365d8d"/>
<rect x="87.91" y="228.19" width="5.48" height="5.44" fill="#375b8d"/>
<rect x="92.40" y="228.19" width="9.96" height="5.44" fill="#375a8c"/>
<rect x="101.36" y="228.19" width="5.48" height="5.44" fill="#38598c"/>
<rect x="105.84" y="228.19" width="8.96" height="5.44" fill="#38588c"/>
<rect x="20.70" y="232.63" width="5.48" height="5.44" fill="#2f6c8e"/>
<rect x="25.18" y="232.63" width="5.48" height="5.44" fill="#31678e"/>
<rect x="29.66" y="232.63" width="5.48" height="5.44" fill="#33628d"/>
<rect x="34.14" y="232.63" width="5.48" height="5.44" fill="#34618d"/>
<rect x="38.62" y="232.63" width="41.33" height="5.44" fill="#355f8d"/>
<rect x="78.95" y="232.63" width="5.48" height="5.44" fill="#355e8d"/>
<rect x="83.43" y="232.63" width="5.48" height="5.44" fill="#365d8d"/>
<rect x="87.91" y="232.63" width="5.48" height="5.44" fill="#375b8d"/>
<rect x="92.40" y="232.63" width="22.40" height="5.44" fill="#375a8c"/>
<rect x="20.70" y="237.07" width="5.48" height="5.44" fill="#355f8d"/>
<rect x="25.18" y="237.07" width="5.48" height="5.44" fill="#375a8c"/>
<rect x="29.66" y="237.07" width="5.48" height="5.44" fill="#3a548c"/>
<rect x="34.14" y="237.07" width="5.48" height="5.44" fill="#3a538b"/>
<rect x="38.62" y="237.07" width="41.33" height="5.44" fill="#3b528b"/>
<rect x="78.95" y="237.07" width="5.48" height="5.44" fill="#3a538b"/>
<rect x="83.43" y="237.07" width="5.48" height="5.44" fill="#3a548c"/>
<rect x="87.91" y="237.07" width="5.48" height="5.44" fill="#39558c"/>
<rect x="92.40" y="237.07" width="22.40" height="5.44" fill="#38588c"/>
<rect x="20.70" y="241.51" width="5.48" height="5.44" fill="#3b528b"/>
<rect x="25.18" y="241.51" width="5.48" height="5.44" fill="#404688"/>
<rect x="29.66" y="241.51" width="5.48" height="5.44" fill="#443a83"/>
<rect x="34.14" y="241.51" width="5.48" height="5.44" fill="#453581"/>
<rect x="38.62" y="241.51" width="5.48" height="5.44" fill="#46307e"/>
<rect x="43.10" y="241.51" width="5.48" height="5.44" fill="#472e7c"/>
<rect x="47.59" y="241.51" width="5.48" height="5.44" fill="#472a7a"/>
<rect x="52.07" y="241.51" width="5.48" height="5.44" fill="#482878"/>
<rect x="56.55" y="241.51" width="5.48" height="5.44" fill="#482475"/>
<rect x="61.03" y="241.51" width="9.96" height="5.44" fill="#482576"/>
<rect x="69.99" y="241.51" width="5.48" height="5.44" fill="#482677"/>
<rect x="74.47" y="241.51" width="5.48" height="5.44" fill="#482878"/>
<rect x="78.95" y="241.51" width="5.48" height="5.44" fill="#472a7a"/>
<rect x="83.43" y="241.51" width="5.48" height="5.44" fill="#472d7b"/>
<rect x="87.91" y="241.51" width="5.48" height="5.44" fill="#472e7c"/>
<rect x="92.40" y="241.51" width="5.48" height="5.44" fill="#46307e"/>
<rect x="96.88" y="241.51" width="5.48" height="5.44" fill="#463480"/>
<rect x="101.36" y="241.51" width="5.48" height="5.44" fill="#453781"/>
<rect x="105.84" y="241.51" width="5.48" height="5.44" fill="#443a83"/>
<rect x="110.32" y="241.51" width="4.48" height="5.44" fill="#433e85"/>
<rect x="20.70" y="245.96" width="5.48" height="4.44" fill="#472a7a"/>
<rect x="25.18" y="245.96" width="5.48" height="4.44" fill="#482173"/>
<rect x="29.66" y="245.96" width="5.48" height="4.44" fill="#481769"/>
<rect x="34.14" y="245.96" width="5.48" height="4.44" fill="#471063"/>
<rect x="38.62" y="245.96" width="5.48" height="4.44" fill="#46085c"/>
<rect x="43.10" y="245.96" width="5.48" height="4.44" fill="#450559"/>
<rect x="47.59" y="245.96" width="5.48" height="4.44" fill="#450457"/>
<rect x="52.07" y="245.96" width="5.48" height="4.44" fill="#440256"/>
<rect x="56.55" y="245.96" width="41.33" height="4.44" fill="#440154"/>
<rect x="96.88" y="245.96" width="5.48" height="4.44" fill="#440256"/>
<rect x="101.36" y="245.96" width="5.48" height="4.44" fill="#450559"/>
<rect x="105.84" y="245.96" width="5.48" height="4.44" fill="#46085c"/>
<rect x="110.32" y="245.96" width="4.48" height="4.44" fill="#460b5e"/>
</g>
<rect x="20.7" y="157.1" width="94.1" height="93.3" fill="none" stroke="#444" stroke-width="0.35"/>
<rect x="120.35" y="157.10" width="6.05" height="93.30" fill="#fbe723"/>
<rect x="120.35" y="158.56" width="6.05" height="91.84" fill="#f1e51d"/>
<rect x="120.35" y="160.02" width="6.05" height="90.38" fill="#e7e419"/>
<rect x="120.35" y="161.47" width="6.05" height="88.93" fill="#dde318"/>
<rect x="120.35" y="162.93" width="6.05" height="87.47" fill="#d2e21b"/>
<rect x="120.35" y="164.39" width="6.05" height="86.01" fill="#c8e020"/>
<rect x="120.35" y="165.85" width="6.05" height="84.55" fill="#bddf26"/>
<rect x="120.35" y="167.30" width="6.05" height="83.10" fill="#b2dd2d"/>
<rect x="120.35" y="168.76" width="6.05" height="81.64" fill="#a8db34"/>
<rect x="120.35" y="170.22" width="6.05" height="80.18" fill="#9dd93b"/>
<rect x="120.35" y="171.68" width="6.05" height="78.72" fill="#93d741"/>
<rect x="120.35" y="173.14" width="6.05" height="77.26" fill="#89d548"/>
<rect x="120.35" y="174.59" width="6.05" height="75.81" fill="#7fd34e"/>
<rect x="120.35" y="176.05" width="6.05" height="74.35" fill="#75d054"/>
<rect x="120.35" y="177.51" width="6.05" height="72.89" fill="#6ccd5a"/>
<rect x="120.35" y="178.97" width="6.05" height="71.43" fill="#63cb5f"/>
<rect x="120.35" y="180.42" width="6.05" height="69.97" fill="#5ac864"/>
<rect x="120.35" y="181.88" width="6.05" height="68.52" fill="#52c569"/>
<rect x="120.35" y="183.34" width="6.05" height="67.06" fill="#4ac16d"/>
<rect x="120.35" y="184.80" width="6.05" height="65.60" fill="#42be71"/>
<rect x="120.35" y="186.26" width="6.05" height="64.14" fill="#3bbb75"/>
<rect x="120.35" y="187.71" width="6.05" height="62.69" fill="#35b779"/>
<rect x="120.35" y="189.17" width="6.05" height="61.23" fill="#2fb47c"/>
<rect x="120.35" y="190.63" width="6.05" height="59.77" fill="#2ab07f"/>
<rect x="120.35" y="192.09" width="6.05" height="58.31" fill="#26ad81"/>
<rect x="120.35" y="193.55" width="6.05" height="56.85" fill="#23a983"/>
<rect x="120.35" y="195.00" width="6.05" height="55.40" fill="#21a585"/>
<rect x="120.35" y="196.46" width="6.05" height="53.94" fill="#1fa187"/>
<rect x="120.35" y="197.92" width="6.05" height="52.48" fill="#1f9e89"/>
<rect x="120.35" y="199.38" width="6.05" height="51.02" fill="#1f9a8a"/>
<rect x="120.35" y="200.83" width="6.05" height="49.57" fill="#1f968b"/>
<rect x="120.35" y="202.29" width="6.05" height="48.11" fill="#20928c"/>
<rect x="120.35" y="203.75" width="6.05" height="46.65" fill="#218f8d"/>
<rect x="120.35" y="205.21" width="6.05" height="45.19" fill="#228b8d"/>
<rect x="120.35" y="206.67" width="6.05" height="43.73" fill="#24878e"/>
<rect x="120.35" y="208.12" width="6.05" height="42.28" fill="#25838e"/>
<rect x="120.35" y="209.58" width="6.05" height="40.82" fill="#27808e"/>
<rect x="120.35" y="211.04" width="6.05" height="39.36" fill="#287c8e"/>
<rect x="120.35" y="212.50" width="6.05" height="37.90" fill="#2a788e"/>
<rect x="120.35" y="213.95" width="6.05" height="36.45" fill="#2b748e"/>
<rect x="120.35" y="215.41" width="6.05" height="34.99" fill="#2d718e"/>
<rect x="120.35" y="216.87" width="6.05" height="33.53" fill="#2e6d8e"/>
<rect x="120.35" y="218.33" width="6.05" height="32.07" fill="#30698e"/>
<rect x="120.35" y="219.79" width="6.05" height="30.61" fill="#32658e"/>
<rect x="120.35" y="221.24" width="6.05" height="29.16" fill="#34618d"/>
<rect x="120.35" y="222.70" width="6.05" height="27.70" fill="#365d8d"/>
<rect x="120.35" y="224.16" width="6.05" height="26.24" fill="#38598c"/>
<rect x="120.35" y="225.62" width="6.05" height="24.78" fill="#3a548c"/>
<rect x="120.35" y="227.07" width="6.05" height="23.33" fill="#3c508b"/>
<rect x="120.35" y="228.53" width="6.05" height="21.87" fill="#3e4c8a"/>
<rect x="120.35" y="229.99" width="6.05" height="20.41" fill="#3f4788"/>
<rect x="120.35" y="231.45" width="6.05" height="18.95" fill="#414287"/>
<rect x="120.35" y="232.91" width="6.05" height="17.49" fill="#433e85"/>
<rect x="120.35" y="234.36" width="6.05" height="16.04" fill="#443983"/>
<rect x="120.35" y="235.82" width="6.05" height="14.58" fill="#463480"/>
<rect x="120.35" y="237.28" width="6.05" height="13.12" fill="#472f7d"/>
<rect x="120.35" y="238.74" width="6.05" height="11.66" fill="#472a7a"/>
<rect x="120.35" y="240.20" width="6.05" height="10.20" fill="#482576"/>
<rect x="120.35" y="241.65" width="6.05" height="8.75" fill="#482071"/>
<rect x="120.35" y="243.11" width="6.05" height="7.29" fill="#481b6d"/>
<rect x="120.35" y="244.57" width="6.05" height="5.83" fill="#481668"/>
<rect x="120.35" y="246.03" width="6.05" height="4.37" fill="#471063"/>
<rect x="120.35" y="247.48" width="6.05" height="2.92" fill="#460a5d"/>
<rect x="120.35" y="248.94" width="6.05" height="1.46" fill="#450457"/>
<rect x="120.35" y="157.1" width="6.050000000000011" height="93.3" fill="none" stroke="#444" stroke-width="0.35"/>
<line x1="126.4" x2="127.9" y1="246.57" y2="246.57" stroke="#555" stroke-width="0.35"/>
<text x="128.9" y="248.87" font-size="5.4" text-anchor="start" fill="#000">20</text>
<line x1="126.4" x2="127.9" y1="228.77" y2="228.77" stroke="#555" stroke-width="0.35"/>
<text x="128.9" y="231.06" font-size="5.4" text-anchor="start" fill="#000">22</text>
<line x1="126.4" x2="127.9" y1="210.96" y2="210.96" stroke="#555" stroke-width="0.35"/>
<text x="128.9" y="213.26" font-size="5.4" text-anchor="start" fill="#000">24</text>
<line x1="126.4" x2="127.9" y1="193.16" y2="193.16" stroke="#555" stroke-width="0.35"/>
<text x="128.9" y="195.45" font-size="5.4" text-anchor="start" fill="#000">26</text>
<line x1="126.4" x2="127.9" y1="175.35" y2="175.35" stroke="#555" stroke-width="0.35"/>
<text x="128.9" y="177.64" font-size="5.4" text-anchor="start" fill="#000">28</text>
<line x1="126.4" x2="127.9" y1="157.55" y2="157.55" stroke="#555" stroke-width="0.35"/>
<text x="128.9" y="159.84" font-size="5.4" text-anchor="start" fill="#000">30</text>
<line x1="40.86" x2="40.86" y1="250.39999999999998" y2="251.89999999999998" stroke="#555" stroke-width="0.35"/>
<text x="40.86" y="257.34" font-size="5.4" text-anchor="middle" fill="#000">4</text>
<line x1="76.71" x2="76.71" y1="250.39999999999998" y2="251.89999999999998" stroke="#555" stroke-width="0.35"/>
<text x="76.71" y="257.34" font-size="5.4" text-anchor="middle" fill="#000">6</text>
<line x1="112.56" x2="112.56" y1="250.39999999999998" y2="251.89999999999998" stroke="#555" stroke-width="0.35"/>
<text x="112.56" y="257.34" font-size="5.4" text-anchor="middle" fill="#000">8</text>
<line x1="19.2" x2="20.7" y1="248.18" y2="248.18" stroke="#555" stroke-width="0.35"/>
<text x="18.5" y="250.82" font-size="5.4" text-anchor="end" fill="#000">49</text>
<line x1="19.2" x2="20.7" y1="230.41" y2="230.41" stroke="#555" stroke-width="0.35"/>
<text x="18.5" y="233.05" font-size="5.4" text-anchor="end" fill="#000">50</text>
<line x1="19.2" x2="20.7" y1="212.64" y2="212.64" stroke="#555" stroke-width="0.35"/>
<text x="18.5" y="215.28" font-size="5.4" text-anchor="end" fill="#000">51</text>
<line x1="19.2" x2="20.7" y1="194.86" y2="194.86" stroke="#555" stroke-width="0.35"/>
<text x="18.5" y="197.51" font-size="5.4" text-anchor="end" fill="#000">52</text>
<line x1="19.2" x2="20.7" y1="177.09" y2="177.09" stroke="#555" stroke-width="0.35"/>
<text x="18.5" y="179.74" font-size="5.4" text-anchor="end" fill="#000">53</text>
<line x1="19.2" x2="20.7" y1="159.32" y2="159.32" stroke="#555" stroke-width="0.35"/>
<text x="18.5" y="161.97" font-size="5.4" text-anchor="end" fill="#000">54</text>
<text x="67.75" y="265.2" font-size="6.2" text-anchor="middle" fill="#000">Longitude</text>
<text x="9.9" y="204.15" font-size="6.2" text-anchor="middle" transform="rotate(-90 9.9 204.15)" fill="#000">Latitude</text>
<text x="67.75" y="155.1" font-size="6.1" text-anchor="middle" font-weight="bold" fill="#000">(c)Ground truth [m/s]</text>
<g>
<rect x="152.20" y="157.10" width="10.02" height="5.44" fill="#355f8d"/>
<rect x="161.22" y="157.10" width="5.51" height="5.44" fill="#375a8c"/>
<rect x="165.73" y="157.10" width="5.51" height="5.44" fill="#414487"/>
<rect x="170.24" y="157.10" width="5.51" height="5.44" fill="#472a7a"/>
<rect x="174.75" y="157.10" width="5.51" height="5.44" fill="#433e85"/>
<rect x="179.26" y="157.10" width="5.51" height="5.44" fill="#414487"/>
<rect x="183.77" y="157.10" width="5.51" height="5.44" fill="#31678e"/>
<rect x="188.28" y="157.10" width="14.53" height="5.44" fill="#2f6c8e"/>
<rect x="201.80" y="157.10" width="5.51" height="5.44" fill="#2c738e"/>
<rect x="206.31" y="157.10" width="5.51" height="5.44" fill="#287d8e"/>
<rect x="210.82" y="157.10" width="5.51" height="5.44" fill="#228b8d"/>
<rect x="215.33" y="157.10" width="5.51" height="5.44" fill="#25848e"/>
<rect x="219.84" y="157.10" width="5.51" height="5.44" fill="#2a788e"/>
<rect x="224.35" y="157.10" width="5.51" height="5.44" fill="#3b528b"/>
<rect x="228.86" y="157.10" width="10.02" height="5.44" fill="#482475"/>
<rect x="237.88" y="157.10" width="5.51" height="5.44" fill="#414487"/>
<rect x="242.39" y="157.10" width="4.51" height="5.44" fill="#3e4989"/>
<rect x="152.20" y="161.54" width="5.51" height="5.44" fill="#481d6f"/>
<rect x="156.71" y="161.54" width="14.53" height="5.44" fill="#471365"/>
<rect x="170.24" y="161.54" width="5.51" height="5.44" fill="#481d6f"/>
<rect x="174.75" y="161.54" width="5.51" height="5.44" fill="#463480"/>
<rect x="179.26" y="161.54" width="5.51" height="5.44" fill="#414487"/>
<rect x="183.77" y="161.54" width="5.51" height="5.44" fill="#375a8c"/>
<rect x="188.28" y="161.54" width="28.06" height="5.44" fill="#355f8d"/>
<rect x="215.33" y="161.54" width="5.51" height="5.44" fill="#375a8c"/>
<rect x="219.84" y="161.54" width="5.51" height="5.44" fill="#414487"/>
<rect x="224.35" y="161.54" width="5.51" height="5.44" fill="#482475"/>
<rect x="228.86" y="161.54" width="5.51" height="5.44" fill="#414487"/>
<rect x="233.37" y="161.54" width="5.51" height="5.44" fill="#3e4989"/>
<rect x="237.88" y="161.54" width="9.02" height="5.44" fill="#3b528b"/>
<rect x="152.20" y="165.99" width="10.02" height="5.44" fill="#414487"/>
<rect x="161.22" y="165.99" width="5.51" height="5.44" fill="#433e85"/>
<rect x="165.73" y="165.99" width="5.51" height="5.44" fill="#463480"/>
<rect x="170.24" y="165.99" width="5.51" height="5.44" fill="#481d6f"/>
<rect x="174.75" y="165.99" width="5.51" height="5.44" fill="#463480"/>
<rect x="179.26" y="165.99" width="5.51" height="5.44" fill="#414487"/>
<rect x="183.77" y="165.99" width="5.51" height="5.44" fill="#3b528b"/>
<rect x="188.28" y="165.99" width="5.51" height="5.44" fill="#38588c"/>
<rect x="192.79" y="165.99" width="5.51" height="5.44" fill="#414487"/>
<rect x="197.30" y="165.99" width="5.51" height="5.44" fill="#472a7a"/>
<rect x="201.80" y="165.99" width="5.51" height="5.44" fill="#482475"/>
<rect x="206.31" y="165.99" width="5.51" height="5.44" fill="#481d6f"/>
<rect x="210.82" y="165.99" width="5.51" height="5.44" fill="#482475"/>
<rect x="215.33" y="165.99" width="10.02" height="5.44" fill="#472a7a"/>
<rect x="224.35" y="165.99" width="5.51" height="5.44" fill="#463480"/>
<rect x="228.86" y="165.99" width="5.51" height="5.44" fill="#414487"/>
<rect x="233.37" y="165.99" width="5.51" height="5.44" fill="#3e4989"/>
<rect x="237.88" y="165.99" width="9.02" height="5.44" fill="#3b528b"/>
<rect x="152.20" y="170.43" width="5.51" height="5.44" fill="#31678e"/>
<rect x="156.71" y="170.43" width="5.51" height="5.44" fill="#355f8d"/>
<rect x="161.22" y="170.43" width="5.51" height="5.44" fill="#3b528b"/>
<rect x="165.73" y="170.43" width="5.51" height="5.44" fill="#414487"/>
<rect x="170.24" y="170.43" width="5.51" height="5.44" fill="#472a7a"/>
<rect x="174.75" y="170.43" width="5.51" height="5.44" fill="#463480"/>
<rect x="179.26" y="170.43" width="5.51" height="5.44" fill="#414487"/>
<rect x="183.77" y="170.43" width="10.02" height="5.44" fill="#3b528b"/>
<rect x="192.79" y="170.43" width="5.51" height="5.44" fill="#463480"/>
<rect x="197.30" y="170.43" width="5.51" height="5.44" fill="#482475"/>
<rect x="201.80" y="170.43" width="5.51" height="5.44" fill="#463480"/>
<rect x="206.31" y="170.43" width="5.51" height="5.44" fill="#375a8c"/>
<rect x="210.82" y="170.43" width="10.02" height="5.44" fill="#355f8d"/>
<rect x="219.84" y="170.43" width="5.51" height="5.44" fill="#375a8c"/>
<rect x="224.35" y="170.43" width="5.51" height="5.44" fill="#3e4989"/>
<rect x="228.86" y="170.43" width="18.04" height="5.44" fill="#414487"/>
<rect x="152.20" y="174.87" width="5.51" height="5.44" fill="#21918c"/>
<rect x="156.71" y="174.87" width="5.51" height="5.44" fill="#287d8e"/>
<rect x="161.22" y="174.87" width="5.51" height="5.44" fill="#2f6c8e"/>
<rect x="165.73" y="174.87" width="5.51" height="5.44" fill="#3b528b"/>
<rect x="170.24" y="174.87" width="10.02" height="5.44" fill="#463480"/>
<rect x="179.26" y="174.87" width="5.51" height="5.44" fill="#433e85"/>
<rect x="183.77" y="174.87" width="10.02" height="5.44" fill="#3e4989"/>
<rect x="192.79" y="174.87" width="5.51" height="5.44" fill="#472a7a"/>
<rect x="197.30" y="174.87" width="5.51" height="5.44" fill="#481d6f"/>
<rect x="201.80" y="174.87" width="5.51" height="5.44" fill="#3e4989"/>
<rect x="206.31" y="174.87" width="5.51" height="5.44" fill="#31678e"/>
<rect x="210.82" y="174.87" width="10.02" height="5.44" fill="#2c738e"/>
<rect x="219.84" y="174.87" width="5.51" height="5.44" fill="#2f6c8e"/>
<rect x="224.35" y="174.87" width="5.51" height="5.44" fill="#38588c"/>
<rect x="228.86" y="174.87" width="5.51" height="5.44" fill="#414487"/>
<rect x="233.37" y="174.87" width="13.53" height="5.44" fill="#463480"/>
<rect x="152.20" y="179.31" width="5.51" height="5.44" fill="#4ec36b"/>
<rect x="156.71" y="179.31" width="5.51" height="5.44" fill="#1e9c89"/>
<rect x="161.22" y="179.31" width="5.51" height="5.44" fill="#2a788e"/>
<rect x="165.73" y="179.31" width="5.51" height="5.44" fill="#375a8c"/>
<rect x="170.24" y="179.31" width="5.51" height="5.44" fill="#433e85"/>
<rect x="174.75" y="179.31" width="10.02" height="5.44" fill="#463480"/>
<rect x="183.77" y="179.31" width="5.51" height="5.44" fill="#414487"/>
<rect x="188.28" y="179.31" width="5.51" height="5.44" fill="#433e85"/>
<rect x="192.79" y="179.31" width="5.51" height="5.44" fill="#482475"/>
<rect x="197.30" y="179.31" width="5.51" height="5.44" fill="#481d6f"/>
<rect x="201.80" y="179.31" width="5.51" height="5.44" fill="#3e4989"/>
<rect x="206.31" y="179.31" width="5.51" height="5.44" fill="#31678e"/>
<rect x="210.82" y="179.31" width="10.02" height="5.44" fill="#2c738e"/>
<rect x="219.84" y="179.31" width="5.51" height="5.44" fill="#2f6c8e"/>
<rect x="224.35" y="179.31" width="5.51" height="5.44" fill="#3b528b"/>
<rect x="228.86" y="179.31" width="5.51" height="5.44" fill="#472a7a"/>
<rect x="233.37" y="179.31" width="10.02" height="5.44" fill="#471365"/>
<rect x="242.39" y="179.31" width="4.51" height="5.44" fill="#481d6f"/>
<rect x="152.20" y="183.76" width="5.51" height="5.44" fill="#bddf26"/>
<rect x="156.71" y="183.76" width="5.51" height="5.44" fill="#44bf70"/>
<rect x="161.22" y="183.76" width="5.51" height="5.44" fill="#25848e"/>
<rect x="165.73" y="183.76" width="5.51" height="5.44" fill="#355f8d"/>
<rect x="170.24" y="183.76" width="5.51" height="5.44" fill="#433e85"/>
<rect x="174.75" y="183.76" width="10.02" height="5.44" fill="#463480"/>
<rect x="183.77" y="183.76" width="5.51" height="5.44" fill="#433e85"/>
<rect x="188.28" y="183.76" width="5.51" height="5.44" fill="#463480"/>
<rect x="192.79" y="183.76" width="10.02" height="5.44" fill="#482475"/>
<rect x="201.80" y="183.76" width="5.51" height="5.44" fill="#463480"/>
<rect x="206.31" y="183.76" width="5.51" height="5.44" fill="#3b528b"/>
<rect x="210.82" y="183.76" width="10.02" height="5.44" fill="#355f8d"/>
<rect x="219.84" y="183.76" width="5.51" height="5.44" fill="#3b528b"/>
<rect x="224.35" y="183.76" width="5.51" height="5.44" fill="#433e85"/>
<rect x="228.86" y="183.76" width="5.51" height="5.44" fill="#482475"/>
<rect x="233.37" y="183.76" width="10.02" height="5.44" fill="#471365"/>
<rect x="242.39" y="183.76" width="4.51" height="5.44" fill="#481d6f"/>
<rect x="152.20" y="188.20" width="5.51" height="5.44" fill="#dfe318"/>
<rect x="156.71" y="188.20" width="5.51" height="5.44" fill="#5ec962"/>
<rect x="161.22" y="188.20" width="5.51" height="5.44" fill="#21918c"/>
<rect x="165.73" y="188.20" width="5.51" height="5.44" fill="#2f6c8e"/>
<rect x="170.24" y="188.20" width="5.51" height="5.44" fill="#3e4989"/>
<rect x="174.75" y="188.20" width="5.51" height="5.44" fill="#463480"/>
<rect x="179.26" y="188.20" width="10.02" height="5.44" fill="#472a7a"/>
<rect x="188.28" y="188.20" width="14.53" height="5.44" fill="#482475"/>
<rect x="201.80" y="188.20" width="5.51" height="5.44" fill="#481d6f"/>
<rect x="206.31" y="188.20" width="5.51" height="5.44" fill="#482475"/>
<rect x="210.82" y="188.20" width="5.51" height="5.44" fill="#472a7a"/>
<rect x="215.33" y="188.20" width="5.51" height="5.44" fill="#414487"/>
<rect x="219.84" y="188.20" width="5.51" height="5.44" fill="#3e4989"/>
<rect x="224.35" y="188.20" width="5.51" height="5.44" fill="#414487"/>
<rect x="228.86" y="188.20" width="5.51" height="5.44" fill="#463480"/>
<rect x="233.37" y="188.20" width="5.51" height="5.44" fill="#481d6f"/>
<rect x="237.88" y="188.20" width="5.51" height="5.44" fill="#471365"/>
<rect x="242.39" y="188.20" width="4.51" height="5.44" fill="#481d6f"/>
<rect x="152.20" y="192.64" width="5.51" height="5.44" fill="#9bd93c"/>
<rect x="156.71" y="192.64" width="5.51" height="5.44" fill="#2fb47c"/>
<rect x="161.22" y="192.64" width="5.51" height="5.44" fill="#25848e"/>
<rect x="165.73" y="192.64" width="5.51" height="5.44" fill="#32648e"/>
<rect x="170.24" y="192.64" width="5.51" height="5.44" fill="#3e4989"/>
<rect x="174.75" y="192.64" width="5.51" height="5.44" fill="#463480"/>
<rect x="179.26" y="192.64" width="10.02" height="5.44" fill="#472a7a"/>
<rect x="188.28" y="192.64" width="28.06" height="5.44" fill="#482475"/>
<rect x="215.33" y="192.64" width="5.51" height="5.44" fill="#471365"/>
<rect x="219.84" y="192.64" width="5.51" height="5.44" fill="#472a7a"/>
<rect x="224.35" y="192.64" width="10.02" height="5.44" fill="#433e85"/>
<rect x="233.37" y="192.64" width="5.51" height="5.44" fill="#472a7a"/>
<rect x="237.88" y="192.64" width="9.02" height="5.44" fill="#482475"/>
<rect x="152.20" y="197.09" width="5.51" height="5.44" fill="#22a884"/>
<rect x="156.71" y="197.09" width="5.51" height="5.44" fill="#21918c"/>
<rect x="161.22" y="197.09" width="5.51" height="5.44" fill="#2a788e"/>
<rect x="165.73" y="197.09" width="5.51" height="5.44" fill="#355f8d"/>
<rect x="170.24" y="197.09" width="5.51" height="5.44" fill="#3e4989"/>
<rect x="174.75" y="197.09" width="5.51" height="5.44" fill="#433e85"/>
<rect x="179.26" y="197.09" width="5.51" height="5.44" fill="#463480"/>
<rect x="183.77" y="197.09" width="5.51" height="5.44" fill="#472a7a"/>
<rect x="188.28" y="197.09" width="14.53" height="5.44" fill="#482475"/>
<rect x="201.80" y="197.09" width="10.02" height="5.44" fill="#472a7a"/>
<rect x="210.82" y="197.09" width="5.51" height="5.44" fill="#482475"/>
<rect x="215.33" y="197.09" width="5.51" height="5.44" fill="#471365"/>
<rect x="219.84" y="197.09" width="5.51" height="5.44" fill="#472a7a"/>
<rect x="224.35" y="197.09" width="5.51" height="5.44" fill="#433e85"/>
<rect x="228.86" y="197.09" width="5.51" height="5.44" fill="#414487"/>
<rect x="233.37" y="197.09" width="5.51" height="5.44" fill="#433e85"/>
<rect x="237.88" y="197.09" width="9.02" height="5.44" fill="#472a7a"/>
<rect x="152.20" y="201.53" width="5.51" height="5.44" fill="#2a788e"/>
<rect x="156.71" y="201.53" width="5.51" height="5.44" fill="#2c738e"/>
<rect x="161.22" y="201.53" width="5.51" height="5.44" fill="#31678e"/>
<rect x="165.73" y="201.53" width="5.51" height="5.44" fill="#38588c"/>
<rect x="170.24" y="201.53" width="5.51" height="5.44" fill="#3e4989"/>
<rect x="174.75" y="201.53" width="5.51" height="5.44" fill="#414487"/>
<rect x="179.26" y="201.53" width="5.51" height="5.44" fill="#433e85"/>
<rect x="183.77" y="201.53" width="5.51" height="5.44" fill="#463480"/>
<rect x="188.28" y="201.53" width="5.51" height="5.44" fill="#472a7a"/>
<rect x="192.79" y="201.53" width="5.51" height="5.44" fill="#481d6f"/>
<rect x="197.30" y="201.53" width="5.51" height="5.44" fill="#482173"/>
<rect x="201.80" y="201.53" width="5.51" height="5.44" fill="#433e85"/>
<rect x="206.31" y="201.53" width="5.51" height="5.44" fill="#463480"/>
<rect x="210.82" y="201.53" width="5.51" height="5.44" fill="#482475"/>
<rect x="215.33" y="201.53" width="5.51" height="5.44" fill="#471365"/>
<rect x="219.84" y="201.53" width="5.51" height="5.44" fill="#472a7a"/>
<rect x="224.35" y="201.53" width="5.51" height="5.44" fill="#433e85"/>
<rect x="228.86" y="201.53" width="10.02" height="5.44" fill="#414487"/>
<rect x="237.88" y="201.53" width="5.51" height="5.44" fill="#463480"/>
<rect x="242.39" y="201.53" width="4.51" height="5.44" fill="#472a7a"/>
<rect x="152.20" y="205.97" width="5.51" height="5.44" fill="#414487"/>
<rect x="156.71" y="205.97" width="5.51" height="5.44" fill="#463480"/>
<rect x="161.22" y="205.97" width="5.51" height="5.44" fill="#472a7a"/>
<rect x="165.73" y="205.97" width="5.51" height="5.44" fill="#463480"/>
<rect x="170.24" y="205.97" width="5.51" height="5.44" fill="#433e85"/>
<rect x="174.75" y="205.97" width="5.51" height="5.44" fill="#414487"/>
<rect x="179.26" y="205.97" width="5.51" height="5.44" fill="#433e85"/>
<rect x="183.77" y="205.97" width="5.51" height="5.44" fill="#472a7a"/>
<rect x="188.28" y="205.97" width="5.51" height="5.44" fill="#482475"/>
<rect x="192.79" y="205.97" width="5.51" height="5.44" fill="#481d6f"/>
<rect x="197.30" y="205.97" width="5.51" height="5.44" fill="#482475"/>
<rect x="201.80" y="205.97" width="10.02" height="5.44" fill="#472a7a"/>
<rect x="210.82" y="205.97" width="5.51" height="5.44" fill="#481d6f"/>
<rect x="215.33" y="205.97" width="5.51" height="5.44" fill="#471365"/>
<rect x="219.84" y="205.97" width="5.51" height="5.44" fill="#463480"/>
<rect x="224.35" y="205.97" width="5.51" height="5.44" fill="#414487"/>
<rect x="228.86" y="205.97" width="10.02" height="5.44" fill="#3e4989"/>
<rect x="237.88" y="205.97" width="5.51" height="5.44" fill="#433e85"/>
<rect x="242.39" y="205.97" width="4.51" height="5.44" fill="#472a7a"/>
<rect x="152.20" y="210.41" width="5.51" height="5.44" fill="#355f8d"/>
<rect x="156.71" y="210.41" width="5.51" height="5.44" fill="#3e4989"/>
<rect x="161.22" y="210.41" width="5.51" height="5.44" fill="#472a7a"/>
<rect x="165.73" y="210.41" width="5.51" height="5.44" fill="#460b5e"/>
<rect x="170.24" y="210.41" width="5.51" height="5.44" fill="#471365"/>
<rect x="174.75" y="210.41" width="10.02" height="5.44" fill="#472a7a"/>
<rect x="183.77" y="210.41" width="5.51" height="5.44" fill="#482475"/>
<rect x="188.28" y="210.41" width="5.51" height="5.44" fill="#481d6f"/>
<rect x="192.79" y="210.41" width="5.51" height="5.44" fill="#482475"/>
<rect x="197.30" y="210.41" width="5.51" height="5.44" fill="#482173"/>
<rect x="201.80" y="210.41" width="19.04" height="5.44" fill="#481d6f"/>
<rect x="219.84" y="210.41" width="5.51" height="5.44" fill="#433e85"/>
<rect x="224.35" y="210.41" width="5.51" height="5.44" fill="#3e4989"/>
<rect x="228.86" y="210.41" width="10.02" height="5.44" fill="#3b528b"/>
<rect x="237.88" y="210.41" width="5.51" height="5.44" fill="#414487"/>
<rect x="242.39" y="210.41" width="4.51" height="5.44" fill="#472a7a"/>
<rect x="152.20" y="214.86" width="5.51" height="5.44" fill="#25848e"/>
<rect x="156.71" y="214.86" width="5.51" height="5.44" fill="#355f8d"/>
<rect x="161.22" y="214.86" width="5.51" height="5.44" fill="#414487"/>
<rect x="165.73" y="214.86" width="10.02" height="5.44" fill="#481d6f"/>
<rect x="174.75" y="214.86" width="10.02" height="5.44" fill="#482475"/>
<rect x="183.77" y="214.86" width="10.02" height="5.44" fill="#481d6f"/>
<rect x="192.79" y="214.86" width="5.51" height="5.44" fill="#482475"/>
<rect x="197.30" y="214.86" width="5.51" height="5.44" fill="#482173"/>
<rect x="201.80" y="214.86" width="14.53" height="5.44" fill="#481d6f"/>
<rect x="215.33" y="214.86" width="5.51" height="5.44" fill="#482475"/>
<rect x="219.84" y="214.86" width="5.51" height="5.44" fill="#433e85"/>
<rect x="224.35" y="214.86" width="5.51" height="5.44" fill="#3b528b"/>
<rect x="228.86" y="214.86" width="10.02" height="5.44" fill="#375a8c"/>
<rect x="237.88" y="214.86" width="5.51" height="5.44" fill="#3b528b"/>
<rect x="242.39" y="214.86" width="4.51" height="5.44" fill="#414487"/>
<rect x="152.20" y="219.30" width="5.51" height="5.44" fill="#22a884"/>
<rect x="156.71" y="219.30" width="5.51" height="5.44" fill="#2a788e"/>
<rect x="161.22" y="219.30" width="5.51" height="5.44" fill="#3b528b"/>
<rect x="165.73" y="219.30" width="5.51" height="5.44" fill="#482475"/>
<rect x="170.24" y="219.30" width="5.51" height="5.44" fill="#481d6f"/>
<rect x="174.75" y="219.30" width="37.08" height="5.44" fill="#482475"/>
<rect x="210.82" y="219.30" width="5.51" height="5.44" fill="#472a7a"/>
<rect x="215.33" y="219.30" width="5.51" height="5.44" fill="#463480"/>
<rect x="219.84" y="219.30" width="5.51" height="5.44" fill="#414487"/>
<rect x="224.35" y="219.30" width="5.51" height="5.44" fill="#3b528b"/>
<rect x="228.86" y="219.30" width="10.02" height="5.44" fill="#38588c"/>
<rect x="237.88" y="219.30" width="5.51" height="5.44" fill="#3b528b"/>
<rect x="242.39" y="219.30" width="4.51" height="5.44" fill="#3e4989"/>
<rect x="152.20" y="223.74" width="5.51" height="5.44" fill="#3bbb75"/>
<rect x="156.71" y="223.74" width="5.51" height="5.44" fill="#287d8e"/>
<rect x="161.22" y="223.74" width="5.51" height="5.44" fill="#375a8c"/>
<rect x="165.73" y="223.74" width="5.51" height="5.44" fill="#482475"/>
<rect x="170.24" y="223.74" width="5.51" height="5.44" fill="#472a7a"/>
<rect x="174.75" y="223.74" width="5.51" height="5.44" fill="#433e85"/>
<rect x="179.26" y="223.74" width="14.53" height="5.44" fill="#414487"/>
<rect x="192.79" y="223.74" width="5.51" height="5.44" fill="#433e85"/>
<rect x="197.30" y="223.74" width="5.51" height="5.44" fill="#472f7d"/>
<rect x="201.80" y="223.74" width="5.51" height="5.44" fill="#482475"/>
<rect x="206.31" y="223.74" width="5.51" height="5.44" fill="#463480"/>
<rect x="210.82" y="223.74" width="5.51" height="5.44" fill="#3b528b"/>
<rect x="215.33" y="223.74" width="5.51" height="5.44" fill="#355f8d"/>
<rect x="219.84" y="223.74" width="5.51" height="5.44" fill="#2f6c8e"/>
<rect x="224.35" y="223.74" width="19.04" height="5.44" fill="#2c738e"/>
<rect x="242.39" y="223.74" width="4.51" height="5.44" fill="#2f6c8e"/>
<rect x="152.20" y="228.19" width="5.51" height="5.44" fill="#26ad81"/>
<rect x="156.71" y="228.19" width="5.51" height="5.44" fill="#2a788e"/>
<rect x="161.22" y="228.19" width="5.51" height="5.44" fill="#375a8c"/>
<rect x="165.73" y="228.19" width="5.51" height="5.44" fill="#481d6f"/>
<rect x="170.24" y="228.19" width="5.51" height="5.44" fill="#463480"/>
<rect x="174.75" y="228.19" width="5.51" height="5.44" fill="#3e4989"/>
<rect x="179.26" y="228.19" width="5.51" height="5.44" fill="#38588c"/>
<rect x="183.77" y="228.19" width="10.02" height="5.44" fill="#355f8d"/>
<rect x="192.79" y="228.19" width="5.51" height="5.44" fill="#375a8c"/>
<rect x="197.30" y="228.19" width="5.51" height="5.44" fill="#3d4e8a"/>
<rect x="201.80" y="228.19" width="10.02" height="5.44" fill="#463480"/>
<rect x="210.82" y="228.19" width="5.51" height="5.44" fill="#355f8d"/>
<rect x="215.33" y="228.19" width="5.51" height="5.44" fill="#2c738e"/>
<rect x="219.84" y="228.19" width="5.51" height="5.44" fill="#2a788e"/>
<rect x="224.35" y="228.19" width="5.51" height="5.44" fill="#287d8e"/>
<rect x="228.86" y="228.19" width="5.51" height="5.44" fill="#27808e"/>
<rect x="233.37" y="228.19" width="5.51" height="5.44" fill="#25848e"/>
<rect x="237.88" y="228.19" width="5.51" height="5.44" fill="#23898e"/>
<rect x="242.39" y="228.19" width="4.51" height="5.44" fill="#228b8d"/>
<rect x="152.20" y="232.63" width="5.51" height="5.44" fill="#21918c"/>
<rect x="156.71" y="232.63" width="5.51" height="5.44" fill="#2c738e"/>
<rect x="161.22" y="232.63" width="5.51" height="5.44" fill="#3e4989"/>
<rect x="165.73" y="232.63" width="5.51" height="5.44" fill="#472a7a"/>
<rect x="170.24" y="232.63" width="5.51" height="5.44" fill="#414487"/>
<rect x="174.75" y="232.63" width="5.51" height="5.44" fill="#375a8c"/>
<rect x="179.26" y="232.63" width="5.51" height="5.44" fill="#31678e"/>
<rect x="183.77" y="232.63" width="5.51" height="5.44" fill="#2c738e"/>
<rect x="188.28" y="232.63" width="5.51" height="5.44" fill="#2a788e"/>
<rect x="192.79" y="232.63" width="5.51" height="5.44" fill="#2c738e"/>
<rect x="197.30" y="232.63" width="5.51" height="5.44" fill="#33638d"/>
<rect x="201.80" y="232.63" width="5.51" height="5.44" fill="#414487"/>
<rect x="206.31" y="232.63" width="5.51" height="5.44" fill="#481d6f"/>
<rect x="210.82" y="232.63" width="5.51" height="5.44" fill="#3b528b"/>
<rect x="215.33" y="232.63" width="5.51" height="5.44" fill="#2f6c8e"/>
<rect x="219.84" y="232.63" width="5.51" height="5.44" fill="#2a788e"/>
<rect x="224.35" y="232.63" width="5.51" height="5.44" fill="#287d8e"/>
<rect x="228.86" y="232.63" width="5.51" height="5.44" fill="#25848e"/>
<rect x="233.37" y="232.63" width="5.51" height="5.44" fill="#228b8d"/>
<rect x="237.88" y="232.63" width="5.51" height="5.44" fill="#1f958b"/>
<rect x="242.39" y="232.63" width="4.51" height="5.44" fill="#1e9c89"/>
<rect x="152.20" y="237.07" width="5.51" height="5.44" fill="#2a788e"/>
<rect x="156.71" y="237.07" width="5.51" height="5.44" fill="#355f8d"/>
<rect x="161.22" y="237.07" width="5.51" height="5.44" fill="#472a7a"/>
<rect x="165.73" y="237.07" width="5.51" height="5.44" fill="#463480"/>
<rect x="170.24" y="237.07" width="5.51" height="5.44" fill="#355f8d"/>
<rect x="174.75" y="237.07" width="5.51" height="5.44" fill="#2a788e"/>
<rect x="179.26" y="237.07" width="5.51" height="5.44" fill="#25848e"/>
<rect x="183.77" y="237.07" width="5.51" height="5.44" fill="#21918c"/>
<rect x="188.28" y="237.07" width="5.51" height="5.44" fill="#1f958b"/>
<rect x="192.79" y="237.07" width="5.51" height="5.44" fill="#21918c"/>
<rect x="197.30" y="237.07" width="5.51" height="5.44" fill="#2a788e"/>
<rect x="201.80" y="237.07" width="5.51" height="5.44" fill="#355f8d"/>
<rect x="206.31" y="237.07" width="5.51" height="5.44" fill="#433e85"/>
<rect x="210.82" y="237.07" width="5.51" height="5.44" fill="#472a7a"/>
<rect x="215.33" y="237.07" width="5.51" height="5.44" fill="#3b528b"/>
<rect x="219.84" y="237.07" width="5.51" height="5.44" fill="#355f8d"/>
<rect x="224.35" y="237.07" width="5.51" height="5.44" fill="#31678e"/>
<rect x="228.86" y="237.07" width="5.51" height="5.44" fill="#2c738e"/>
<rect x="233.37" y="237.07" width="5.51" height="5.44" fill="#2a788e"/>
<rect x="237.88" y="237.07" width="9.02" height="5.44" fill="#287d8e"/>
<rect x="152.20" y="241.51" width="5.51" height="5.44" fill="#355f8d"/>
<rect x="156.71" y="241.51" width="5.51" height="5.44" fill="#3e4989"/>
<rect x="161.22" y="241.51" width="5.51" height="5.44" fill="#482475"/>
<rect x="165.73" y="241.51" width="5.51" height="5.44" fill="#3e4989"/>
<rect x="170.24" y="241.51" width="5.51" height="5.44" fill="#287d8e"/>
<rect x="174.75" y="241.51" width="5.51" height="5.44" fill="#1e9c89"/>
<rect x="179.26" y="241.51" width="5.51" height="5.44" fill="#2fb47c"/>
<rect x="183.77" y="241.51" width="5.51" height="5.44" fill="#4ec36b"/>
<rect x="188.28" y="241.51" width="5.51" height="5.44" fill="#6ece58"/>
<rect x="192.79" y="241.51" width="5.51" height="5.44" fill="#4ec36b"/>
<rect x="197.30" y="241.51" width="5.51" height="5.44" fill="#1fa287"/>
<rect x="201.80" y="241.51" width="5.51" height="5.44" fill="#287d8e"/>
<rect x="206.31" y="241.51" width="5.51" height="5.44" fill="#355f8d"/>
<rect x="210.82" y="241.51" width="5.51" height="5.44" fill="#414487"/>
<rect x="215.33" y="241.51" width="5.51" height="5.44" fill="#472a7a"/>
<rect x="219.84" y="241.51" width="10.02" height="5.44" fill="#481d6f"/>
<rect x="228.86" y="241.51" width="5.51" height="5.44" fill="#482475"/>
<rect x="233.37" y="241.51" width="5.51" height="5.44" fill="#472a7a"/>
<rect x="237.88" y="241.51" width="5.51" height="5.44" fill="#3b528b"/>
<rect x="242.39" y="241.51" width="4.51" height="5.44" fill="#355f8d"/>
<rect x="152.20" y="245.96" width="5.51" height="4.44" fill="#472a7a"/>
<rect x="156.71" y="245.96" width="5.51" height="4.44" fill="#481d6f"/>
<rect x="161.22" y="245.96" width="5.51" height="4.44" fill="#414487"/>
<rect x="165.73" y="245.96" width="5.51" height="4.44" fill="#2a788e"/>
<rect x="170.24" y="245.96" width="5.51" height="4.44" fill="#22a884"/>
<rect x="174.75" y="245.96" width="5.51" height="4.44" fill="#5ec962"/>
<rect x="179.26" y="245.96" width="5.51" height="4.44" fill="#bddf26"/>
<rect x="183.77" y="245.96" width="5.51" height="4.44" fill="#f1e51d"/>
<rect x="188.28" y="245.96" width="5.51" height="4.44" fill="#fde725"/>
<rect x="192.79" y="245.96" width="5.51" height="4.44" fill="#dfe318"/>
<rect x="197.30" y="245.96" width="5.51" height="4.44" fill="#addc30"/>
<rect x="201.80" y="245.96" width="5.51" height="4.44" fill="#5ec962"/>
<rect x="206.31" y="245.96" width="5.51" height="4.44" fill="#1e9c89"/>
<rect x="210.82" y="245.96" width="5.51" height="4.44" fill="#287d8e"/>
<rect x="215.33" y="245.96" width="5.51" height="4.44" fill="#2c738e"/>
<rect x="219.84" y="245.96" width="10.02" height="4.44" fill="#2f6c8e"/>
<rect x="228.86" y="245.96" width="5.51" height="4.44" fill="#31678e"/>
<rect x="233.37" y="245.96" width="5.51" height="4.44" fill="#355f8d"/>
<rect x="237.88" y="245.96" width="5.51" height="4.44" fill="#414487"/>
<rect x="242.39" y="245.96" width="4.51" height="4.44" fill="#482475"/>
</g>
<rect x="152.2" y="157.1" width="94.7" height="93.3" fill="none" stroke="#444" stroke-width="0.35"/>
<rect x="252.2" y="157.10" width="5.80" height="93.30" fill="#fbe723"/>
<rect x="252.2" y="158.56" width="5.80" height="91.84" fill="#f1e51d"/>
<rect x="252.2" y="160.02" width="5.80" height="90.38" fill="#e7e419"/>
<rect x="252.2" y="161.47" width="5.80" height="88.93" fill="#dde318"/>
<rect x="252.2" y="162.93" width="5.80" height="87.47" fill="#d2e21b"/>
<rect x="252.2" y="164.39" width="5.80" height="86.01" fill="#c8e020"/>
<rect x="252.2" y="165.85" width="5.80" height="84.55" fill="#bddf26"/>
<rect x="252.2" y="167.30" width="5.80" height="83.10" fill="#b2dd2d"/>
<rect x="252.2" y="168.76" width="5.80" height="81.64" fill="#a8db34"/>
<rect x="252.2" y="170.22" width="5.80" height="80.18" fill="#9dd93b"/>
<rect x="252.2" y="171.68" width="5.80" height="78.72" fill="#93d741"/>
<rect x="252.2" y="173.14" width="5.80" height="77.26" fill="#89d548"/>
<rect x="252.2" y="174.59" width="5.80" height="75.81" fill="#7fd34e"/>
<rect x="252.2" y="176.05" width="5.80" height="74.35" fill="#75d054"/>
<rect x="252.2" y="177.51" width="5.80" height="72.89" fill="#6ccd5a"/>
<rect x="252.2" y="178.97" width="5.80" height="71.43" fill="#63cb5f"/>
<rect x="252.2" y="180.42" width="5.80" height="69.97" fill="#5ac864"/>
<rect x="252.2" y="181.88" width="5.80" height="68.52" fill="#52c569"/>
<rect x="252.2" y="183.34" width="5.80" height="67.06" fill="#4ac16d"/>
<rect x="252.2" y="184.80" width="5.80" height="65.60" fill="#42be71"/>
<rect x="252.2" y="186.26" width="5.80" height="64.14" fill="#3bbb75"/>
<rect x="252.2" y="187.71" width="5.80" height="62.69" fill="#35b779"/>
<rect x="252.2" y="189.17" width="5.80" height="61.23" fill="#2fb47c"/>
<rect x="252.2" y="190.63" width="5.80" height="59.77" fill="#2ab07f"/>
<rect x="252.2" y="192.09" width="5.80" height="58.31" fill="#26ad81"/>
<rect x="252.2" y="193.55" width="5.80" height="56.85" fill="#23a983"/>
<rect x="252.2" y="195.00" width="5.80" height="55.40" fill="#21a585"/>
<rect x="252.2" y="196.46" width="5.80" height="53.94" fill="#1fa187"/>
<rect x="252.2" y="197.92" width="5.80" height="52.48" fill="#1f9e89"/>
<rect x="252.2" y="199.38" width="5.80" height="51.02" fill="#1f9a8a"/>
<rect x="252.2" y="200.83" width="5.80" height="49.57" fill="#1f968b"/>
<rect x="252.2" y="202.29" width="5.80" height="48.11" fill="#20928c"/>
<rect x="252.2" y="203.75" width="5.80" height="46.65" fill="#218f8d"/>
<rect x="252.2" y="205.21" width="5.80" height="45.19" fill="#228b8d"/>
<rect x="252.2" y="206.67" width="5.80" height="43.73" fill="#24878e"/>
<rect x="252.2" y="208.12" width="5.80" height="42.28" fill="#25838e"/>
<rect x="252.2" y="209.58" width="5.80" height="40.82" fill="#27808e"/>
<rect x="252.2" y="211.04" width="5.80" height="39.36" fill="#287c8e"/>
<rect x="252.2" y="212.50" width="5.80" height="37.90" fill="#2a788e"/>
<rect x="252.2" y="213.95" width="5.80" height="36.45" fill="#2b748e"/>
<rect x="252.2" y="215.41" width="5.80" height="34.99" fill="#2d718e"/>
<rect x="252.2" y="216.87" width="5.80" height="33.53" fill="#2e6d8e"/>
<rect x="252.2" y="218.33" width="5.80" height="32.07" fill="#30698e"/>
<rect x="252.2" y="219.79" width="5.80" height="30.61" fill="#32658e"/>
<rect x="252.2" y="221.24" width="5.80" height="29.16" fill="#34618d"/>
<rect x="252.2" y="222.70" width="5.80" height="27.70" fill="#365d8d"/>
<rect x="252.2" y="224.16" width="5.80" height="26.24" fill="#38598c"/>
<rect x="252.2" y="225.62" width="5.80" height="24.78" fill="#3a548c"/>
<rect x="252.2" y="227.07" width="5.80" height="23.33" fill="#3c508b"/>
<rect x="252.2" y="228.53" width="5.80" height="21.87" fill="#3e4c8a"/>
<rect x="252.2" y="229.99" width="5.80" height="20.41" fill="#3f4788"/>
<rect x="252.2" y="231.45" width="5.80" height="18.95" fill="#414287"/>
<rect x="252.2" y="232.91" width="5.80" height="17.49" fill="#433e85"/>
<rect x="252.2" y="234.36" width="5.80" height="16.04" fill="#443983"/>
<rect x="252.2" y="235.82" width="5.80" height="14.58" fill="#463480"/>
<rect x="252.2" y="237.28" width="5.80" height="13.12" fill="#472f7d"/>
<rect x="252.2" y="238.74" width="5.80" height="11.66" fill="#472a7a"/>
<rect x="252.2" y="240.20" width="5.80" height="10.20" fill="#482576"/>
<rect x="252.2" y="241.65" width="5.80" height="8.75" fill="#482071"/>
<rect x="252.2" y="243.11" width="5.80" height="7.29" fill="#481b6d"/>
<rect x="252.2" y="244.57" width="5.80" height="5.83" fill="#481668"/>
<rect x="252.2" y="246.03" width="5.80" height="4.37" fill="#471063"/>
<rect x="252.2" y="247.48" width="5.80" height="2.92" fill="#460a5d"/>
<rect x="252.2" y="248.94" width="5.80" height="1.46" fill="#450457"/>
<rect x="252.2" y="157.1" width="5.800000000000011" height="93.3" fill="none" stroke="#444" stroke-width="0.35"/>
<line x1="258.0" x2="259.5" y1="237.44" y2="237.44" stroke="#555" stroke-width="0.35"/>
<text x="260.5" y="239.74" font-size="5.4" text-anchor="start" fill="#000">0.5</text>
<line x1="258.0" x2="259.5" y1="224.48" y2="224.48" stroke="#555" stroke-width="0.35"/>
<text x="260.5" y="226.78" font-size="5.4" text-anchor="start" fill="#000">1.0</text>
<line x1="258.0" x2="259.5" y1="211.53" y2="211.53" stroke="#555" stroke-width="0.35"/>
<text x="260.5" y="213.82" font-size="5.4" text-anchor="start" fill="#000">1.5</text>
<line x1="258.0" x2="259.5" y1="198.57" y2="198.57" stroke="#555" stroke-width="0.35"/>
<text x="260.5" y="200.86" font-size="5.4" text-anchor="start" fill="#000">2.0</text>
<line x1="258.0" x2="259.5" y1="185.61" y2="185.61" stroke="#555" stroke-width="0.35"/>
<text x="260.5" y="187.9" font-size="5.4" text-anchor="start" fill="#000">2.5</text>
<line x1="258.0" x2="259.5" y1="172.65" y2="172.65" stroke="#555" stroke-width="0.35"/>
<text x="260.5" y="174.94" font-size="5.4" text-anchor="start" fill="#000">3.0</text>
<line x1="258.0" x2="259.5" y1="159.69" y2="159.69" stroke="#555" stroke-width="0.35"/>
<text x="260.5" y="161.99" font-size="5.4" text-anchor="start" fill="#000">3.5</text>
<line x1="172.49" x2="172.49" y1="250.39999999999998" y2="251.89999999999998" stroke="#555" stroke-width="0.35"/>
<text x="172.49" y="257.34" font-size="5.4" text-anchor="middle" fill="#000">4</text>
<line x1="208.57" x2="208.57" y1="250.39999999999998" y2="251.89999999999998" stroke="#555" stroke-width="0.35"/>
<text x="208.57" y="257.34" font-size="5.4" text-anchor="middle" fill="#000">6</text>
<line x1="244.65" x2="244.65" y1="250.39999999999998" y2="251.89999999999998" stroke="#555" stroke-width="0.35"/>
<text x="244.65" y="257.34" font-size="5.4" text-anchor="middle" fill="#000">8</text>
<line x1="150.7" x2="152.2" y1="248.18" y2="248.18" stroke="#555" stroke-width="0.35"/>
<text x="150.0" y="250.82" font-size="5.4" text-anchor="end" fill="#000">49</text>
<line x1="150.7" x2="152.2" y1="230.41" y2="230.41" stroke="#555" stroke-width="0.35"/>
<text x="150.0" y="233.05" font-size="5.4" text-anchor="end" fill="#000">50</text>
<line x1="150.7" x2="152.2" y1="212.64" y2="212.64" stroke="#555" stroke-width="0.35"/>
<text x="150.0" y="215.28" font-size="5.4" text-anchor="end" fill="#000">51</text>
<line x1="150.7" x2="152.2" y1="194.86" y2="194.86" stroke="#555" stroke-width="0.35"/>
<text x="150.0" y="197.51" font-size="5.4" text-anchor="end" fill="#000">52</text>
<line x1="150.7" x2="152.2" y1="177.09" y2="177.09" stroke="#555" stroke-width="0.35"/>
<text x="150.0" y="179.74" font-size="5.4" text-anchor="end" fill="#000">53</text>
<line x1="150.7" x2="152.2" y1="159.32" y2="159.32" stroke="#555" stroke-width="0.35"/>
<text x="150.0" y="161.97" font-size="5.4" text-anchor="end" fill="#000">54</text>
<text x="199.55" y="265.2" font-size="6.2" text-anchor="middle" fill="#000">Longitude</text>
<text x="141.4" y="204.15" font-size="6.2" text-anchor="middle" transform="rotate(-90 141.4 204.15)" fill="#000">Latitude</text>
<text x="199.55" y="147.96" font-size="6.1" text-anchor="middle" font-weight="bold" fill="#000">(d)Truth vs Pred</text>
<text x="199.55" y="155.1" font-size="6.1" text-anchor="middle" font-weight="bold" fill="#000">Mean Error: 0.72 [m/s]</text>
<g>
<rect x="297.75" y="26.25" width="94.25" height="93.3" fill="#46075a"/>
<rect x="297.75" y="26.25" width="4.49" height="4.44" fill="#fde725"/>
<rect x="302.24" y="44.02" width="5.49" height="4.44" fill="#fde725"/>
<rect x="306.73" y="44.02" width="5.49" height="4.44" fill="#fde725"/>
<rect x="311.21" y="44.02" width="4.49" height="4.44" fill="#f1e51d"/>
<rect x="315.70" y="48.46" width="5.49" height="4.44" fill="#d2e21b"/>
<rect x="320.19" y="48.46" width="5.49" height="4.44" fill="#bddf26"/>
<rect x="324.68" y="48.46" width="5.49" height="4.44" fill="#86d549"/>
<rect x="329.17" y="48.46" width="5.49" height="4.44" fill="#52c569"/>
<rect x="333.65" y="48.46" width="5.49" height="4.44" fill="#26ad81"/>
<rect x="338.14" y="48.46" width="4.49" height="4.44" fill="#1f978b"/>
<rect x="342.63" y="52.91" width="5.49" height="4.44" fill="#21918c"/>
<rect x="347.12" y="52.91" width="5.49" height="4.44" fill="#228b8d"/>
<rect x="351.61" y="52.91" width="5.49" height="4.44" fill="#24868e"/>
<rect x="356.10" y="52.91" width="4.49" height="4.44" fill="#25848e"/>
<rect x="338.14" y="61.79" width="4.49" height="4.44" fill="#21918c"/>
<rect x="356.10" y="61.79" width="4.49" height="4.44" fill="#2f6c8e"/>
<rect x="342.63" y="66.24" width="5.49" height="5.44" fill="#2a788e"/>
<rect x="347.12" y="66.24" width="5.49" height="4.44" fill="#2c738e"/>
<rect x="351.61" y="66.24" width="4.49" height="5.44" fill="#2e6f8e"/>
<rect x="311.21" y="70.68" width="4.49" height="4.44" fill="#7ad151"/>
<rect x="338.14" y="70.68" width="5.49" height="4.44" fill="#287d8e"/>
<rect x="342.63" y="70.68" width="4.49" height="4.44" fill="#2a788e"/>
<rect x="351.61" y="70.68" width="4.49" height="4.44" fill="#355f8d"/>
<rect x="306.73" y="75.12" width="4.49" height="4.44" fill="#86d549"/>
<rect x="333.65" y="75.12" width="4.49" height="4.44" fill="#25848e"/>
<rect x="302.24" y="79.56" width="4.49" height="4.44" fill="#86d549"/>
<rect x="324.68" y="79.56" width="5.49" height="4.44" fill="#1f958b"/>
<rect x="329.17" y="79.56" width="4.49" height="4.44" fill="#21918c"/>
<rect x="315.70" y="84.01" width="5.49" height="4.44" fill="#22a884"/>
<rect x="320.19" y="84.01" width="4.49" height="4.44" fill="#20a386"/>
<rect x="311.21" y="88.45" width="4.49" height="4.44" fill="#2fb47c"/>
<rect x="333.65" y="88.45" width="4.49" height="4.44" fill="#2a788e"/>
<rect x="338.14" y="92.89" width="5.49" height="4.44" fill="#2f6c8e"/>
<rect x="342.63" y="92.89" width="4.49" height="4.44" fill="#31678e"/>
<rect x="347.12" y="97.34" width="4.49" height="4.44" fill="#375a8c"/>
<rect x="351.61" y="101.78" width="4.49" height="4.44" fill="#3c4f8a"/>
<rect x="356.10" y="106.22" width="5.49" height="4.44" fill="#3e4989"/>
<rect x="360.58" y="106.22" width="4.49" height="4.44" fill="#443a83"/>
<rect x="365.07" y="110.66" width="4.49" height="4.44" fill="#440154"/>
</g>
<rect x="297.75" y="26.25" width="94.25" height="93.3" fill="none" stroke="#444" stroke-width="0.35"/>
<rect x="398.0" y="26.25" width="5.80" height="93.30" fill="#fbe723"/>
<rect x="398.0" y="27.71" width="5.80" height="91.84" fill="#f1e51d"/>
<rect x="398.0" y="29.17" width="5.80" height="90.38" fill="#e7e419"/>
<rect x="398.0" y="30.62" width="5.80" height="88.93" fill="#dde318"/>
<rect x="398.0" y="32.08" width="5.80" height="87.47" fill="#d2e21b"/>
<rect x="398.0" y="33.54" width="5.80" height="86.01" fill="#c8e020"/>
<rect x="398.0" y="35.00" width="5.80" height="84.55" fill="#bddf26"/>
<rect x="398.0" y="36.45" width="5.80" height="83.10" fill="#b2dd2d"/>
<rect x="398.0" y="37.91" width="5.80" height="81.64" fill="#a8db34"/>
<rect x="398.0" y="39.37" width="5.80" height="80.18" fill="#9dd93b"/>
<rect x="398.0" y="40.83" width="5.80" height="78.72" fill="#93d741"/>
<rect x="398.0" y="42.29" width="5.80" height="77.26" fill="#89d548"/>
<rect x="398.0" y="43.74" width="5.80" height="75.81" fill="#7fd34e"/>
<rect x="398.0" y="45.20" width="5.80" height="74.35" fill="#75d054"/>
<rect x="398.0" y="46.66" width="5.80" height="72.89" fill="#6ccd5a"/>
<rect x="398.0" y="48.12" width="5.80" height="71.43" fill="#63cb5f"/>
<rect x="398.0" y="49.58" width="5.80" height="69.97" fill="#5ac864"/>
<rect x="398.0" y="51.03" width="5.80" height="68.52" fill="#52c569"/>
<rect x="398.0" y="52.49" width="5.80" height="67.06" fill="#4ac16d"/>
<rect x="398.0" y="53.95" width="5.80" height="65.60" fill="#42be71"/>
<rect x="398.0" y="55.41" width="5.80" height="64.14" fill="#3bbb75"/>
<rect x="398.0" y="56.86" width="5.80" height="62.69" fill="#35b779"/>
<rect x="398.0" y="58.32" width="5.80" height="61.23" fill="#2fb47c"/>
<rect x="398.0" y="59.78" width="5.80" height="59.77" fill="#2ab07f"/>
<rect x="398.0" y="61.24" width="5.80" height="58.31" fill="#26ad81"/>
<rect x="398.0" y="62.70" width="5.80" height="56.85" fill="#23a983"/>
<rect x="398.0" y="64.15" width="5.80" height="55.40" fill="#21a585"/>
<rect x="398.0" y="65.61" width="5.80" height="53.94" fill="#1fa187"/>
<rect x="398.0" y="67.07" width="5.80" height="52.48" fill="#1f9e89"/>
<rect x="398.0" y="68.53" width="5.80" height="51.02" fill="#1f9a8a"/>
<rect x="398.0" y="69.98" width="5.80" height="49.57" fill="#1f968b"/>
<rect x="398.0" y="71.44" width="5.80" height="48.11" fill="#20928c"/>
<rect x="398.0" y="72.90" width="5.80" height="46.65" fill="#218f8d"/>
<rect x="398.0" y="74.36" width="5.80" height="45.19" fill="#228b8d"/>
<rect x="398.0" y="75.82" width="5.80" height="43.73" fill="#24878e"/>
<rect x="398.0" y="77.27" width="5.80" height="42.28" fill="#25838e"/>
<rect x="398.0" y="78.73" width="5.80" height="40.82" fill="#27808e"/>
<rect x="398.0" y="80.19" width="5.80" height="39.36" fill="#287c8e"/>
<rect x="398.0" y="81.65" width="5.80" height="37.90" fill="#2a788e"/>
<rect x="398.0" y="83.10" width="5.80" height="36.45" fill="#2b748e"/>
<rect x="398.0" y="84.56" width="5.80" height="34.99" fill="#2d718e"/>
<rect x="398.0" y="86.02" width="5.80" height="33.53" fill="#2e6d8e"/>
<rect x="398.0" y="87.48" width="5.80" height="32.07" fill="#30698e"/>
<rect x="398.0" y="88.94" width="5.80" height="30.61" fill="#32658e"/>
<rect x="398.0" y="90.39" width="5.80" height="29.16" fill="#34618d"/>
<rect x="398.0" y="91.85" width="5.80" height="27.70" fill="#365d8d"/>
<rect x="398.0" y="93.31" width="5.80" height="26.24" fill="#38598c"/>
<rect x="398.0" y="94.77" width="5.80" height="24.78" fill="#3a548c"/>
<rect x="398.0" y="96.22" width="5.80" height="23.33" fill="#3c508b"/>
<rect x="398.0" y="97.68" width="5.80" height="21.87" fill="#3e4c8a"/>
<rect x="398.0" y="99.14" width="5.80" height="20.41" fill="#3f4788"/>
<rect x="398.0" y="100.60" width="5.80" height="18.95" fill="#414287"/>
<rect x="398.0" y="102.06" width="5.80" height="17.49" fill="#433e85"/>
<rect x="398.0" y="103.51" width="5.80" height="16.04" fill="#443983"/>
<rect x="398.0" y="104.97" width="5.80" height="14.58" fill="#463480"/>
<rect x="398.0" y="106.43" width="5.80" height="13.12" fill="#472f7d"/>
<rect x="398.0" y="107.89" width="5.80" height="11.66" fill="#472a7a"/>
<rect x="398.0" y="109.35" width="5.80" height="10.20" fill="#482576"/>
<rect x="398.0" y="110.80" width="5.80" height="8.75" fill="#482071"/>
<rect x="398.0" y="112.26" width="5.80" height="7.29" fill="#481b6d"/>
<rect x="398.0" y="113.72" width="5.80" height="5.83" fill="#481668"/>
<rect x="398.0" y="115.18" width="5.80" height="4.37" fill="#471063"/>
<rect x="398.0" y="116.63" width="5.80" height="2.92" fill="#460a5d"/>
<rect x="398.0" y="118.09" width="5.80" height="1.46" fill="#450457"/>
<rect x="398.0" y="26.25" width="5.800000000000011" height="93.3" fill="none" stroke="#444" stroke-width="0.35"/>
<line x1="403.8" x2="405.3" y1="118.26" y2="118.26" stroke="#555" stroke-width="0.35"/>
<text x="406.3" y="120.55" font-size="5.4" text-anchor="start" fill="#000">0</text>
<line x1="403.8" x2="405.3" y1="96.76" y2="96.76" stroke="#555" stroke-width="0.35"/>
<text x="406.3" y="99.06" font-size="5.4" text-anchor="start" fill="#000">5</text>
<line x1="403.8" x2="405.3" y1="75.26" y2="75.26" stroke="#555" stroke-width="0.35"/>
<text x="406.3" y="77.56" font-size="5.4" text-anchor="start" fill="#000">10</text>
<line x1="403.8" x2="405.3" y1="53.77" y2="53.77" stroke="#555" stroke-width="0.35"/>
<text x="406.3" y="56.06" font-size="5.4" text-anchor="start" fill="#000">15</text>
<line x1="403.8" x2="405.3" y1="32.27" y2="32.27" stroke="#555" stroke-width="0.35"/>
<text x="406.3" y="34.56" font-size="5.4" text-anchor="start" fill="#000">20</text>
<line x1="317.95" x2="317.95" y1="119.55" y2="121.05" stroke="#555" stroke-width="0.35"/>
<text x="317.95" y="126.49" font-size="5.4" text-anchor="middle" fill="#000">4</text>
<line x1="353.85" x2="353.85" y1="119.55" y2="121.05" stroke="#555" stroke-width="0.35"/>
<text x="353.85" y="126.49" font-size="5.4" text-anchor="middle" fill="#000">6</text>
<line x1="389.76" x2="389.76" y1="119.55" y2="121.05" stroke="#555" stroke-width="0.35"/>
<text x="389.76" y="126.49" font-size="5.4" text-anchor="middle" fill="#000">8</text>
<line x1="296.25" x2="297.75" y1="117.33" y2="117.33" stroke="#555" stroke-width="0.35"/>
<text x="295.55" y="119.97" font-size="5.4" text-anchor="end" fill="#000">49</text>
<line x1="296.25" x2="297.75" y1="99.56" y2="99.56" stroke="#555" stroke-width="0.35"/>
<text x="295.55" y="102.2" font-size="5.4" text-anchor="end" fill="#000">50</text>
<line x1="296.25" x2="297.75" y1="81.79" y2="81.79" stroke="#555" stroke-width="0.35"/>
<text x="295.55" y="84.43" font-size="5.4" text-anchor="end" fill="#000">51</text>
<line x1="296.25" x2="297.75" y1="64.01" y2="64.01" stroke="#555" stroke-width="0.35"/>
<text x="295.55" y="66.66" font-size="5.4" text-anchor="end" fill="#000">52</text>
<line x1="296.25" x2="297.75" y1="46.24" y2="46.24" stroke="#555" stroke-width="0.35"/>
<text x="295.55" y="48.89" font-size="5.4" text-anchor="end" fill="#000">53</text>
<line x1="296.25" x2="297.75" y1="28.47" y2="28.47" stroke="#555" stroke-width="0.35"/>
<text x="295.55" y="31.12" font-size="5.4" text-anchor="end" fill="#000">54</text>
<text x="344.88" y="134.35" font-size="6.2" text-anchor="middle" fill="#000">Longitude</text>
<text x="286.95" y="73.3" font-size="6.2" text-anchor="middle" transform="rotate(-90 286.95 73.3)" fill="#000">Latitude</text>
<text x="344.88" y="24.25" font-size="6.1" text-anchor="middle" font-weight="bold" fill="#000">(a)Input X [m/s]</text>
<g>
<rect x="429.45" y="26.25" width="5.50" height="5.44" fill="#ece51b"/>
<rect x="433.95" y="26.25" width="5.50" height="5.44" fill="#dde318"/>
<rect x="438.45" y="26.25" width="5.50" height="5.44" fill="#c8e020"/>
<rect x="442.95" y="26.25" width="5.50" height="5.44" fill="#b2dd2d"/>
<rect x="447.45" y="26.25" width="5.50" height="5.44" fill="#9bd93c"/>
<rect x="451.95" y="26.25" width="5.50" height="5.44" fill="#81d34d"/>
<rect x="456.45" y="26.25" width="5.50" height="5.44" fill="#69cd5b"/>
<rect x="460.95" y="26.25" width="5.50" height="5.44" fill="#50c46a"/>
<rect x="465.45" y="26.25" width="5.50" height="5.44" fill="#3bbb75"/>
<rect x="469.95" y="26.25" width="5.50" height="5.44" fill="#29af7f"/>
<rect x="474.45" y="26.25" width="5.50" height="5.44" fill="#20a486"/>
<rect x="478.95" y="26.25" width="5.50" height="5.44" fill="#1f9a8a"/>
<rect x="483.45" y="26.25" width="5.50" height="5.44" fill="#21918c"/>
<rect x="487.95" y="26.25" width="5.50" height="5.44" fill="#23888e"/>
<rect x="492.45" y="26.25" width="5.50" height="5.44" fill="#26828e"/>
<rect x="496.95" y="26.25" width="5.50" height="5.44" fill="#287d8e"/>
<rect x="501.45" y="26.25" width="5.50" height="5.44" fill="#2a788e"/>
<rect x="505.95" y="26.25" width="5.50" height="5.44" fill="#2c738e"/>
<rect x="510.45" y="26.25" width="5.50" height="5.44" fill="#2e6e8e"/>
<rect x="514.95" y="26.25" width="5.50" height="5.44" fill="#31688e"/>
<rect x="519.45" y="26.25" width="4.50" height="5.44" fill="#355f8d"/>
<rect x="429.45" y="30.69" width="5.50" height="5.44" fill="#ece51b"/>
<rect x="433.95" y="30.69" width="5.50" height="5.44" fill="#dfe318"/>
<rect x="438.45" y="30.69" width="5.50" height="5.44" fill="#d0e11c"/>
<rect x="442.95" y="30.69" width="5.50" height="5.44" fill="#b8de29"/>
<rect x="447.45" y="30.69" width="5.50" height="5.44" fill="#a0da39"/>
<rect x="451.95" y="30.69" width="5.50" height="5.44" fill="#84d44b"/>
<rect x="456.45" y="30.69" width="5.50" height="5.44" fill="#69cd5b"/>
<rect x="460.95" y="30.69" width="5.50" height="5.44" fill="#50c46a"/>
<rect x="465.45" y="30.69" width="5.50" height="5.44" fill="#3aba76"/>
<rect x="469.95" y="30.69" width="5.50" height="5.44" fill="#29af7f"/>
<rect x="474.45" y="30.69" width="5.50" height="5.44" fill="#20a486"/>
<rect x="478.95" y="30.69" width="5.50" height="5.44" fill="#1e9b8a"/>
<rect x="483.45" y="30.69" width="5.50" height="5.44" fill="#20928c"/>
<rect x="487.95" y="30.69" width="5.50" height="5.44" fill="#238a8d"/>
<rect x="492.45" y="30.69" width="5.50" height="5.44" fill="#25838e"/>
<rect x="496.95" y="30.69" width="5.50" height="5.44" fill="#287d8e"/>
<rect x="501.45" y="30.69" width="5.50" height="5.44" fill="#2a778e"/>
<rect x="505.95" y="30.69" width="5.50" height="5.44" fill="#2c718e"/>
<rect x="510.45" y="30.69" width="5.50" height="5.44" fill="#2f6c8e"/>
<rect x="514.95" y="30.69" width="5.50" height="5.44" fill="#32658e"/>
<rect x="519.45" y="30.69" width="4.50" height="5.44" fill="#365d8d"/>
<rect x="429.45" y="35.14" width="5.50" height="5.44" fill="#efe51c"/>
<rect x="433.95" y="35.14" width="5.50" height="5.44" fill="#e5e419"/>
<rect x="438.45" y="35.14" width="5.50" height="5.44" fill="#d2e21b"/>
<rect x="442.95" y="35.14" width="5.50" height="5.44" fill="#bade28"/>
<rect x="447.45" y="35.14" width="5.50" height="5.44" fill="#a0da39"/>
<rect x="451.95" y="35.14" width="5.50" height="5.44" fill="#84d44b"/>
<rect x="456.45" y="35.14" width="5.50" height="5.44" fill="#67cc5c"/>
<rect x="460.95" y="35.14" width="5.50" height="5.44" fill="#4ec36b"/>
<rect x="465.45" y="35.14" width="5.50" height="5.44" fill="#38b977"/>
<rect x="469.95" y="35.14" width="5.50" height="5.44" fill="#28ae80"/>
<rect x="474.45" y="35.14" width="5.50" height="5.44" fill="#20a486"/>
<rect x="478.95" y="35.14" width="5.50" height="5.44" fill="#1e9b8a"/>
<rect x="483.45" y="35.14" width="5.50" height="5.44" fill="#20928c"/>
<rect x="487.95" y="35.14" width="5.50" height="5.44" fill="#238a8d"/>
<rect x="492.45" y="35.14" width="5.50" height="5.44" fill="#26828e"/>
<rect x="496.95" y="35.14" width="5.50" height="5.44" fill="#287d8e"/>
<rect x="501.45" y="35.14" width="5.50" height="5.44" fill="#2a768e"/>
<rect x="505.95" y="35.14" width="5.50" height="5.44" fill="#2d708e"/>
<rect x="510.45" y="35.14" width="5.50" height="5.44" fill="#30698e"/>
<rect x="514.95" y="35.14" width="5.50" height="5.44" fill="#33628d"/>
<rect x="519.45" y="35.14" width="4.50" height="5.44" fill="#375a8c"/>
<rect x="429.45" y="39.58" width="5.50" height="5.44" fill="#f1e51d"/>
<rect x="433.95" y="39.58" width="5.50" height="5.44" fill="#e5e419"/>
<rect x="438.45" y="39.58" width="5.50" height="5.44" fill="#d2e21b"/>
<rect x="442.95" y="39.58" width="5.50" height="5.44" fill="#bade28"/>
<rect x="447.45" y="39.58" width="5.50" height="5.44" fill="#a0da39"/>
<rect x="451.95" y="39.58" width="5.50" height="5.44" fill="#81d34d"/>
<rect x="456.45" y="39.58" width="5.50" height="5.44" fill="#65cb5e"/>
<rect x="460.95" y="39.58" width="5.50" height="5.44" fill="#4cc26c"/>
<rect x="465.45" y="39.58" width="5.50" height="5.44" fill="#35b779"/>
<rect x="469.95" y="39.58" width="5.50" height="5.44" fill="#27ad81"/>
<rect x="474.45" y="39.58" width="5.50" height="5.44" fill="#20a386"/>
<rect x="478.95" y="39.58" width="5.50" height="5.44" fill="#1f9a8a"/>
<rect x="483.45" y="39.58" width="5.50" height="5.44" fill="#20928c"/>
<rect x="487.95" y="39.58" width="5.50" height="5.44" fill="#23898e"/>
<rect x="492.45" y="39.58" width="5.50" height="5.44" fill="#26828e"/>
<rect x="496.95" y="39.58" width="5.50" height="5.44" fill="#297b8e"/>
<rect x="501.45" y="39.58" width="5.50" height="5.44" fill="#2c738e"/>
<rect x="505.95" y="39.58" width="5.50" height="5.44" fill="#2e6d8e"/>
<rect x="510.45" y="39.58" width="5.50" height="5.44" fill="#31668e"/>
<rect x="514.95" y="39.58" width="5.50" height="5.44" fill="#355e8d"/>
<rect x="519.45" y="39.58" width="4.50" height="5.44" fill="#39558c"/>
<rect x="429.45" y="44.02" width="5.50" height="5.44" fill="#f1e51d"/>
<rect x="433.95" y="44.02" width="5.50" height="5.44" fill="#e5e419"/>
<rect x="438.45" y="44.02" width="5.50" height="5.44" fill="#d0e11c"/>
<rect x="442.95" y="44.02" width="5.50" height="5.44" fill="#b8de29"/>
<rect x="447.45" y="44.02" width="5.50" height="5.44" fill="#9bd93c"/>
<rect x="451.95" y="44.02" width="5.50" height="5.44" fill="#7cd250"/>
<rect x="456.45" y="44.02" width="5.50" height="5.44" fill="#60ca60"/>
<rect x="460.95" y="44.02" width="5.50" height="5.44" fill="#46c06f"/>
<rect x="465.45" y="44.02" width="5.50" height="5.44" fill="#32b67a"/>
<rect x="469.95" y="44.02" width="5.50" height="5.44" fill="#25ac82"/>
<rect x="474.45" y="44.02" width="5.50" height="5.44" fill="#1fa287"/>
<rect x="478.95" y="44.02" width="5.50" height="5.44" fill="#1f998a"/>
<rect x="483.45" y="44.02" width="5.50" height="5.44" fill="#21908d"/>
<rect x="487.95" y="44.02" width="5.50" height="5.44" fill="#23888e"/>
<rect x="492.45" y="44.02" width="5.50" height="5.44" fill="#27808e"/>
<rect x="496.95" y="44.02" width="5.50" height="5.44" fill="#2a788e"/>
<rect x="501.45" y="44.02" width="5.50" height="5.44" fill="#2d718e"/>
<rect x="505.95" y="44.02" width="5.50" height="5.44" fill="#30698e"/>
<rect x="510.45" y="44.02" width="5.50" height="5.44" fill="#33628d"/>
<rect x="514.95" y="44.02" width="5.50" height="5.44" fill="#375a8c"/>
<rect x="519.45" y="44.02" width="4.50" height="5.44" fill="#3b528b"/>
<rect x="429.45" y="48.46" width="5.50" height="5.44" fill="#f1e51d"/>
<rect x="433.95" y="48.46" width="5.50" height="5.44" fill="#e2e418"/>
<rect x="438.45" y="48.46" width="5.50" height="5.44" fill="#cde11d"/>
<rect x="442.95" y="48.46" width="5.50" height="5.44" fill="#b2dd2d"/>
<rect x="447.45" y="48.46" width="5.50" height="5.44" fill="#93d741"/>
<rect x="451.95" y="48.46" width="5.50" height="5.44" fill="#75d054"/>
<rect x="456.45" y="48.46" width="5.50" height="5.44" fill="#5ac864"/>
<rect x="460.95" y="48.46" width="5.50" height="5.44" fill="#42be71"/>
<rect x="465.45" y="48.46" width="5.50" height="5.44" fill="#2fb47c"/>
<rect x="469.95" y="48.46" width="5.50" height="5.44" fill="#24aa83"/>
<rect x="474.45" y="48.46" width="5.50" height="5.44" fill="#1fa088"/>
<rect x="478.95" y="48.46" width="5.50" height="5.44" fill="#1f978b"/>
<rect x="483.45" y="48.46" width="5.50" height="5.44" fill="#218e8d"/>
<rect x="487.95" y="48.46" width="5.50" height="5.44" fill="#25858e"/>
<rect x="492.45" y="48.46" width="5.50" height="5.44" fill="#287d8e"/>
<rect x="496.95" y="48.46" width="5.50" height="5.44" fill="#2b758e"/>
<rect x="501.45" y="48.46" width="5.50" height="5.44" fill="#2e6d8e"/>
<rect x="505.95" y="48.46" width="5.50" height="5.44" fill="#32658e"/>
<rect x="510.45" y="48.46" width="5.50" height="5.44" fill="#365d8d"/>
<rect x="514.95" y="48.46" width="5.50" height="5.44" fill="#39558c"/>
<rect x="519.45" y="48.46" width="4.50" height="5.44" fill="#3d4e8a"/>
<rect x="429.45" y="52.91" width="5.50" height="5.44" fill="#efe51c"/>
<rect x="433.95" y="52.91" width="5.50" height="5.44" fill="#dde318"/>
<rect x="438.45" y="52.91" width="5.50" height="5.44" fill="#c2df23"/>
<rect x="442.95" y="52.91" width="5.50" height="5.44" fill="#a8db34"/>
<rect x="447.45" y="52.91" width="5.50" height="5.44" fill="#8bd646"/>
<rect x="451.95" y="52.91" width="5.50" height="5.44" fill="#6ccd5a"/>
<rect x="456.45" y="52.91" width="5.50" height="5.44" fill="#52c569"/>
<rect x="460.95" y="52.91" width="5.50" height="5.44" fill="#3bbb75"/>
<rect x="465.45" y="52.91" width="5.50" height="5.44" fill="#2ab07f"/>
<rect x="469.95" y="52.91" width="5.50" height="5.44" fill="#22a785"/>
<rect x="474.45" y="52.91" width="5.50" height="5.44" fill="#1f9e89"/>
<rect x="478.95" y="52.91" width="5.50" height="5.44" fill="#1f948c"/>
<rect x="483.45" y="52.91" width="5.50" height="5.44" fill="#228b8d"/>
<rect x="487.95" y="52.91" width="5.50" height="5.44" fill="#26828e"/>
<rect x="492.45" y="52.91" width="5.50" height="5.44" fill="#297a8e"/>
<rect x="496.95" y="52.91" width="5.50" height="5.44" fill="#2c718e"/>
<rect x="501.45" y="52.91" width="5.50" height="5.44" fill="#30698e"/>
<rect x="505.95" y="52.91" width="5.50" height="5.44" fill="#34618d"/>
<rect x="510.45" y="52.91" width="5.50" height="5.44" fill="#38598c"/>
<rect x="514.95" y="52.91" width="5.50" height="5.44" fill="#3c508b"/>
<rect x="519.45" y="52.91" width="4.50" height="5.44" fill="#3f4889"/>
<rect x="429.45" y="57.35" width="5.50" height="5.44" fill="#eae51a"/>
<rect x="433.95" y="57.35" width="5.50" height="5.44" fill="#d2e21b"/>
<rect x="438.45" y="57.35" width="5.50" height="5.44" fill="#b8de29"/>
<rect x="442.95" y="57.35" width="5.50" height="5.44" fill="#9bd93c"/>
<rect x="447.45" y="57.35" width="5.50" height="5.44" fill="#7cd250"/>
<rect x="451.95" y="57.35" width="5.50" height="5.44" fill="#60ca60"/>
<rect x="456.45" y="57.35" width="5.50" height="5.44" fill="#48c16e"/>
<rect x="460.95" y="57.35" width="5.50" height="5.44" fill="#35b779"/>
<rect x="465.45" y="57.35" width="5.50" height="5.44" fill="#26ad81"/>
<rect x="469.95" y="57.35" width="5.50" height="5.44" fill="#20a386"/>
<rect x="474.45" y="57.35" width="5.50" height="5.44" fill="#1f9a8a"/>
<rect x="478.95" y="57.35" width="5.50" height="5.44" fill="#21918c"/>
<rect x="483.45" y="57.35" width="5.50" height="5.44" fill="#23888e"/>
<rect x="487.95" y="57.35" width="5.50" height="5.44" fill="#277f8e"/>
<rect x="492.45" y="57.35" width="5.50" height="5.44" fill="#2a768e"/>
<rect x="496.95" y="57.35" width="5.50" height="5.44" fill="#2e6d8e"/>
<rect x="501.45" y="57.35" width="5.50" height="5.44" fill="#32648e"/>
<rect x="505.95" y="57.35" width="5.50" height="5.44" fill="#365c8d"/>
<rect x="510.45" y="57.35" width="5.50" height="5.44" fill="#3b528b"/>
<rect x="514.95" y="57.35" width="5.50" height="5.44" fill="#3e4a89"/>
<rect x="519.45" y="57.35" width="4.50" height="5.44" fill="#414487"/>
<rect x="429.45" y="61.79" width="5.50" height="5.44" fill="#dfe318"/>
<rect x="433.95" y="61.79" width="5.50" height="5.44" fill="#c5e021"/>
<rect x="438.45" y="61.79" width="5.50" height="5.44" fill="#a8db34"/>
<rect x="442.95" y="61.79" width="5.50" height="5.44" fill="#8bd646"/>
<rect x="447.45" y="61.79" width="5.50" height="5.44" fill="#6ece58"/>
<rect x="451.95" y="61.79" width="5.50" height="5.44" fill="#54c568"/>
<rect x="456.45" y="61.79" width="5.50" height="5.44" fill="#3dbc74"/>
<rect x="460.95" y="61.79" width="5.50" height="5.44" fill="#2db27d"/>
<rect x="465.45" y="61.79" width="5.50" height="5.44" fill="#22a884"/>
<rect x="469.95" y="61.79" width="5.50" height="5.44" fill="#1f9f88"/>
<rect x="474.45" y="61.79" width="5.50" height="5.44" fill="#1f958b"/>
<rect x="478.95" y="61.79" width="5.50" height="5.44" fill="#228d8d"/>
<rect x="483.45" y="61.79" width="5.50" height="5.44" fill="#25848e"/>
<rect x="487.95" y="61.79" width="5.50" height="5.44" fill="#297b8e"/>
<rect x="492.45" y="61.79" width="5.50" height="5.44" fill="#2c718e"/>
<rect x="496.95" y="61.79" width="5.50" height="5.44" fill="#30698e"/>
<rect x="501.45" y="61.79" width="5.50" height="5.44" fill="#355f8d"/>
<rect x="505.95" y="61.79" width="5.50" height="5.44" fill="#39558c"/>
<rect x="510.45" y="61.79" width="5.50" height="5.44" fill="#3d4d8a"/>
<rect x="514.95" y="61.79" width="5.50" height="5.44" fill="#404588"/>
<rect x="519.45" y="61.79" width="4.50" height="5.44" fill="#433e85"/>
<rect x="429.45" y="66.24" width="5.50" height="5.44" fill="#d0e11c"/>
<rect x="433.95" y="66.24" width="5.50" height="5.44" fill="#b2dd2d"/>
<rect x="438.45" y="66.24" width="5.50" height="5.44" fill="#95d840"/>
<rect x="442.95" y="66.24" width="5.50" height="5.44" fill="#77d153"/>
<rect x="447.45" y="66.24" width="5.50" height="5.44" fill="#5ec962"/>
<rect x="451.95" y="66.24" width="5.50" height="5.44" fill="#46c06f"/>
<rect x="456.45" y="66.24" width="5.50" height="5.44" fill="#34b679"/>
<rect x="460.95" y="66.24" width="5.50" height="5.44" fill="#25ac82"/>
<rect x="465.45" y="66.24" width="5.50" height="5.44" fill="#1fa287"/>
<rect x="469.95" y="66.24" width="5.50" height="5.44" fill="#1f998a"/>
<rect x="474.45" y="66.24" width="5.50" height="5.44" fill="#21918c"/>
<rect x="478.95" y="66.24" width="5.50" height="5.44" fill="#23888e"/>
<rect x="483.45" y="66.24" width="5.50" height="5.44" fill="#27808e"/>
<rect x="487.95" y="66.24" width="5.50" height="5.44" fill="#2a768e"/>
<rect x="492.45" y="66.24" width="5.50" height="5.44" fill="#2e6e8e"/>
<rect x="496.95" y="66.24" width="5.50" height="5.44" fill="#32648e"/>
<rect x="501.45" y="66.24" width="5.50" height="5.44" fill="#375a8c"/>
<rect x="505.95" y="66.24" width="5.50" height="5.44" fill="#3c508b"/>
<rect x="510.45" y="66.24" width="5.50" height="5.44" fill="#3f4788"/>
<rect x="514.95" y="66.24" width="5.50" height="5.44" fill="#433e85"/>
<rect x="519.45" y="66.24" width="4.50" height="5.44" fill="#453781"/>
<rect x="429.45" y="70.68" width="5.50" height="5.44" fill="#bade28"/>
<rect x="433.95" y="70.68" width="5.50" height="5.44" fill="#9dd93b"/>
<rect x="438.45" y="70.68" width="5.50" height="5.44" fill="#81d34d"/>
<rect x="442.95" y="70.68" width="5.50" height="5.44" fill="#65cb5e"/>
<rect x="447.45" y="70.68" width="5.50" height="5.44" fill="#4cc26c"/>
<rect x="451.95" y="70.68" width="5.50" height="5.44" fill="#38b977"/>
<rect x="456.45" y="70.68" width="5.50" height="5.44" fill="#29af7f"/>
<rect x="460.95" y="70.68" width="5.50" height="5.44" fill="#21a585"/>
<rect x="465.45" y="70.68" width="5.50" height="5.44" fill="#1e9c89"/>
<rect x="469.95" y="70.68" width="5.50" height="5.44" fill="#20938c"/>
<rect x="474.45" y="70.68" width="5.50" height="5.44" fill="#228b8d"/>
<rect x="478.95" y="70.68" width="5.50" height="5.44" fill="#25838e"/>
<rect x="483.45" y="70.68" width="5.50" height="5.44" fill="#297b8e"/>
<rect x="487.95" y="70.68" width="5.50" height="5.44" fill="#2c718e"/>
<rect x="492.45" y="70.68" width="5.50" height="5.44" fill="#30698e"/>
<rect x="496.95" y="70.68" width="5.50" height="5.44" fill="#355f8d"/>
<rect x="501.45" y="70.68" width="5.50" height="5.44" fill="#3a548c"/>
<rect x="505.95" y="70.68" width="5.50" height="5.44" fill="#3e4a89"/>
<rect x="510.45" y="70.68" width="5.50" height="5.44" fill="#424086"/>
<rect x="514.95" y="70.68" width="5.50" height="5.44" fill="#453882"/>
<rect x="519.45" y="70.68" width="4.50" height="5.44" fill="#46307e"/>
<rect x="429.45" y="75.12" width="5.50" height="5.44" fill="#a2da37"/>
<rect x="433.95" y="75.12" width="5.50" height="5.44" fill="#86d549"/>
<rect x="438.45" y="75.12" width="5.50" height="5.44" fill="#69cd5b"/>
<rect x="442.95" y="75.12" width="5.50" height="5.44" fill="#52c569"/>
<rect x="447.45" y="75.12" width="5.50" height="5.44" fill="#3dbc74"/>
<rect x="451.95" y="75.12" width="5.50" height="5.44" fill="#2db27d"/>
<rect x="456.45" y="75.12" width="5.50" height="5.44" fill="#22a884"/>
<rect x="460.95" y="75.12" width="5.50" height="5.44" fill="#1f9f88"/>
<rect x="465.45" y="75.12" width="5.50" height="5.44" fill="#1f968b"/>
<rect x="469.95" y="75.12" width="5.50" height="5.44" fill="#218e8d"/>
<rect x="474.45" y="75.12" width="5.50" height="5.44" fill="#24868e"/>
<rect x="478.95" y="75.12" width="5.50" height="5.44" fill="#277e8e"/>
<rect x="483.45" y="75.12" width="5.50" height="5.44" fill="#2a768e"/>
<rect x="487.95" y="75.12" width="5.50" height="5.44" fill="#2e6d8e"/>
<rect x="492.45" y="75.12" width="5.50" height="5.44" fill="#33638d"/>
<rect x="496.95" y="75.12" width="5.50" height="5.44" fill="#375a8c"/>
<rect x="501.45" y="75.12" width="5.50" height="5.44" fill="#3c4f8a"/>
<rect x="505.95" y="75.12" width="5.50" height="5.44" fill="#404588"/>
<rect x="510.45" y="75.12" width="5.50" height="5.44" fill="#443a83"/>
<rect x="514.95" y="75.12" width="5.50" height="5.44" fill="#46327e"/>
<rect x="519.45" y="75.12" width="4.50" height="5.44" fill="#472a7a"/>
<rect x="429.45" y="79.56" width="5.50" height="5.44" fill="#86d549"/>
<rect x="433.95" y="79.56" width="5.50" height="5.44" fill="#6ccd5a"/>
<rect x="438.45" y="79.56" width="5.50" height="5.44" fill="#54c568"/>
<rect x="442.95" y="79.56" width="5.50" height="5.44" fill="#3fbc73"/>
<rect x="447.45" y="79.56" width="5.50" height="5.44" fill="#2fb47c"/>
<rect x="451.95" y="79.56" width="5.50" height="5.44" fill="#25ab82"/>
<rect x="456.45" y="79.56" width="5.50" height="5.44" fill="#1fa187"/>
<rect x="460.95" y="79.56" width="5.50" height="5.44" fill="#1f988b"/>
<rect x="465.45" y="79.56" width="5.50" height="5.44" fill="#21908d"/>
<rect x="469.95" y="79.56" width="5.50" height="5.44" fill="#23888e"/>
<rect x="474.45" y="79.56" width="5.50" height="5.44" fill="#26818e"/>
<rect x="478.95" y="79.56" width="5.50" height="5.44" fill="#29798e"/>
<rect x="483.45" y="79.56" width="5.50" height="5.44" fill="#2d718e"/>
<rect x="487.95" y="79.56" width="5.50" height="5.44" fill="#31688e"/>
<rect x="492.45" y="79.56" width="5.50" height="5.44" fill="#355e8d"/>
<rect x="496.95" y="79.56" width="5.50" height="5.44" fill="#3a538b"/>
<rect x="501.45" y="79.56" width="5.50" height="5.44" fill="#3e4989"/>
<rect x="505.95" y="79.56" width="5.50" height="5.44" fill="#423f85"/>
<rect x="510.45" y="79.56" width="5.50" height="5.44" fill="#463480"/>
<rect x="514.95" y="79.56" width="5.50" height="5.44" fill="#472c7a"/>
<rect x="519.45" y="79.56" width="4.50" height="5.44" fill="#482475"/>
<rect x="429.45" y="84.01" width="5.50" height="5.44" fill="#69cd5b"/>
<rect x="433.95" y="84.01" width="5.50" height="5.44" fill="#54c568"/>
<rect x="438.45" y="84.01" width="5.50" height="5.44" fill="#40bd72"/>
<rect x="442.95" y="84.01" width="5.50" height="5.44" fill="#31b57b"/>
<rect x="447.45" y="84.01" width="5.50" height="5.44" fill="#25ac82"/>
<rect x="451.95" y="84.01" width="5.50" height="5.44" fill="#20a386"/>
<rect x="456.45" y="84.01" width="5.50" height="5.44" fill="#1e9b8a"/>
<rect x="460.95" y="84.01" width="5.50" height="5.44" fill="#20928c"/>
<rect x="465.45" y="84.01" width="5.50" height="5.44" fill="#228b8d"/>
<rect x="469.95" y="84.01" width="5.50" height="5.44" fill="#25838e"/>
<rect x="474.45" y="84.01" width="5.50" height="5.44" fill="#287c8e"/>
<rect x="478.95" y="84.01" width="5.50" height="5.44" fill="#2b748e"/>
<rect x="483.45" y="84.01" width="5.50" height="5.44" fill="#2f6c8e"/>
<rect x="487.95" y="84.01" width="5.50" height="5.44" fill="#33638d"/>
<rect x="492.45" y="84.01" width="5.50" height="5.44" fill="#38598c"/>
<rect x="496.95" y="84.01" width="5.50" height="5.44" fill="#3d4e8a"/>
<rect x="501.45" y="84.01" width="5.50" height="5.44" fill="#414487"/>
<rect x="505.95" y="84.01" width="5.50" height="5.44" fill="#443983"/>
<rect x="510.45" y="84.01" width="5.50" height="5.44" fill="#472f7d"/>
<rect x="514.95" y="84.01" width="5.50" height="5.44" fill="#482677"/>
<rect x="519.45" y="84.01" width="4.50" height="5.44" fill="#481f70"/>
<rect x="429.45" y="88.45" width="5.50" height="5.44" fill="#4ec36b"/>
<rect x="433.95" y="88.45" width="5.50" height="5.44" fill="#3dbc74"/>
<rect x="438.45" y="88.45" width="5.50" height="5.44" fill="#2fb47c"/>
<rect x="442.95" y="88.45" width="5.50" height="5.44" fill="#26ad81"/>
<rect x="447.45" y="88.45" width="5.50" height="5.44" fill="#21a585"/>
<rect x="451.95" y="88.45" width="5.50" height="5.44" fill="#1e9d89"/>
<rect x="456.45" y="88.45" width="5.50" height="5.44" fill="#1f958b"/>
<rect x="460.95" y="88.45" width="5.50" height="5.44" fill="#218e8d"/>
<rect x="465.45" y="88.45" width="5.50" height="5.44" fill="#24868e"/>
<rect x="469.95" y="88.45" width="5.50" height="5.44" fill="#277f8e"/>
<rect x="474.45" y="88.45" width="5.50" height="5.44" fill="#2a778e"/>
<rect x="478.95" y="88.45" width="5.50" height="5.44" fill="#2d708e"/>
<rect x="483.45" y="88.45" width="5.50" height="5.44" fill="#31678e"/>
<rect x="487.95" y="88.45" width="5.50" height="5.44" fill="#355e8d"/>
<rect x="492.45" y="88.45" width="5.50" height="5.44" fill="#3a538b"/>
<rect x="496.95" y="88.45" width="5.50" height="5.44" fill="#3e4989"/>
<rect x="501.45" y="88.45" width="5.50" height="5.44" fill="#433e85"/>
<rect x="505.95" y="88.45" width="5.50" height="5.44" fill="#46337f"/>
<rect x="510.45" y="88.45" width="5.50" height="5.44" fill="#482979"/>
<rect x="514.95" y="88.45" width="5.50" height="5.44" fill="#482173"/>
<rect x="519.45" y="88.45" width="4.50" height="5.44" fill="#481b6d"/>
<rect x="429.45" y="92.89" width="5.50" height="5.44" fill="#37b878"/>
<rect x="433.95" y="92.89" width="5.50" height="5.44" fill="#2cb17e"/>
<rect x="438.45" y="92.89" width="5.50" height="5.44" fill="#25ab82"/>
<rect x="442.95" y="92.89" width="5.50" height="5.44" fill="#20a486"/>
<rect x="447.45" y="92.89" width="5.50" height="5.44" fill="#1f9e89"/>
<rect x="451.95" y="92.89" width="5.50" height="5.44" fill="#1f978b"/>
<rect x="456.45" y="92.89" width="5.50" height="5.44" fill="#21918c"/>
<rect x="460.95" y="92.89" width="5.50" height="5.44" fill="#238a8d"/>
<rect x="465.45" y="92.89" width="5.50" height="5.44" fill="#26828e"/>
<rect x="469.95" y="92.89" width="5.50" height="5.44" fill="#287c8e"/>
<rect x="474.45" y="92.89" width="5.50" height="5.44" fill="#2b748e"/>
<rect x="478.95" y="92.89" width="5.50" height="5.44" fill="#2f6c8e"/>
<rect x="483.45" y="92.89" width="5.50" height="5.44" fill="#33638d"/>
<rect x="487.95" y="92.89" width="5.50" height="5.44" fill="#375a8c"/>
<rect x="492.45" y="92.89" width="5.50" height="5.44" fill="#3c4f8a"/>
<rect x="496.95" y="92.89" width="5.50" height="5.44" fill="#414487"/>
<rect x="501.45" y="92.89" width="5.50" height="5.44" fill="#443983"/>
<rect x="505.95" y="92.89" width="5.50" height="5.44" fill="#472e7c"/>
<rect x="510.45" y="92.89" width="5.50" height="5.44" fill="#482576"/>
<rect x="514.95" y="92.89" width="5.50" height="5.44" fill="#481c6e"/>
<rect x="519.45" y="92.89" width="4.50" height="5.44" fill="#481769"/>
<rect x="429.45" y="97.34" width="5.50" height="5.44" fill="#26ad81"/>
<rect x="433.95" y="97.34" width="5.50" height="5.44" fill="#22a785"/>
<rect x="438.45" y="97.34" width="5.50" height="5.44" fill="#1fa287"/>
<rect x="442.95" y="97.34" width="5.50" height="5.44" fill="#1e9d89"/>
<rect x="447.45" y="97.34" width="5.50" height="5.44" fill="#1f978b"/>
<rect x="451.95" y="97.34" width="5.50" height="5.44" fill="#20928c"/>
<rect x="456.45" y="97.34" width="5.50" height="5.44" fill="#228c8d"/>
<rect x="460.95" y="97.34" width="5.50" height="5.44" fill="#24868e"/>
<rect x="465.45" y="97.34" width="5.50" height="5.44" fill="#27808e"/>
<rect x="469.95" y="97.34" width="5.50" height="5.44" fill="#2a788e"/>
<rect x="474.45" y="97.34" width="5.50" height="5.44" fill="#2d718e"/>
<rect x="478.95" y="97.34" width="5.50" height="5.44" fill="#31688e"/>
<rect x="483.45" y="97.34" width="5.50" height="5.44" fill="#355f8d"/>
<rect x="487.95" y="97.34" width="5.50" height="5.44" fill="#39558c"/>
<rect x="492.45" y="97.34" width="5.50" height="5.44" fill="#3e4a89"/>
<rect x="496.95" y="97.34" width="5.50" height="5.44" fill="#423f85"/>
<rect x="501.45" y="97.34" width="5.50" height="5.44" fill="#463480"/>
<rect x="505.95" y="97.34" width="5.50" height="5.44" fill="#482979"/>
<rect x="510.45" y="97.34" width="5.50" height="5.44" fill="#482071"/>
<rect x="514.95" y="97.34" width="5.50" height="5.44" fill="#48186a"/>
<rect x="519.45" y="97.34" width="4.50" height="5.44" fill="#471365"/>
<rect x="429.45" y="101.78" width="5.50" height="5.44" fill="#1fa287"/>
<rect x="433.95" y="101.78" width="5.50" height="5.44" fill="#1f9e89"/>
<rect x="438.45" y="101.78" width="5.50" height="5.44" fill="#1f9a8a"/>
<rect x="442.95" y="101.78" width="5.50" height="5.44" fill="#1f968b"/>
<rect x="447.45" y="101.78" width="5.50" height="5.44" fill="#20928c"/>
<rect x="451.95" y="101.78" width="5.50" height="5.44" fill="#228d8d"/>
<rect x="456.45" y="101.78" width="5.50" height="5.44" fill="#23888e"/>
<rect x="460.95" y="101.78" width="5.50" height="5.44" fill="#26828e"/>
<rect x="465.45" y="101.78" width="5.50" height="5.44" fill="#287c8e"/>
<rect x="469.95" y="101.78" width="5.50" height="5.44" fill="#2b758e"/>
<rect x="474.45" y="101.78" width="5.50" height="5.44" fill="#2e6e8e"/>
<rect x="478.95" y="101.78" width="5.50" height="5.44" fill="#32658e"/>
<rect x="483.45" y="101.78" width="5.50" height="5.44" fill="#365c8d"/>
<rect x="487.95" y="101.78" width="5.50" height="5.44" fill="#3b518b"/>
<rect x="492.45" y="101.78" width="5.50" height="5.44" fill="#3f4788"/>
<rect x="496.95" y="101.78" width="5.50" height="5.44" fill="#443b84"/>
<rect x="501.45" y="101.78" width="5.50" height="5.44" fill="#46307e"/>
<rect x="505.95" y="101.78" width="5.50" height="5.44" fill="#482576"/>
<rect x="510.45" y="101.78" width="5.50" height="5.44" fill="#481c6e"/>
<rect x="514.95" y="101.78" width="5.50" height="5.44" fill="#481668"/>
<rect x="519.45" y="101.78" width="4.50" height="5.44" fill="#471063"/>
<rect x="429.45" y="106.22" width="5.50" height="5.44" fill="#1f998a"/>
<rect x="433.95" y="106.22" width="5.50" height="5.44" fill="#1f968b"/>
<rect x="438.45" y="106.22" width="5.50" height="5.44" fill="#20938c"/>
<rect x="442.95" y="106.22" width="5.50" height="5.44" fill="#21908d"/>
<rect x="447.45" y="106.22" width="5.50" height="5.44" fill="#228c8d"/>
<rect x="451.95" y="106.22" width="5.50" height="5.44" fill="#23888e"/>
<rect x="456.45" y="106.22" width="5.50" height="5.44" fill="#25848e"/>
<rect x="460.95" y="106.22" width="5.50" height="5.44" fill="#277f8e"/>
<rect x="465.45" y="106.22" width="5.50" height="5.44" fill="#29798e"/>
<rect x="469.95" y="106.22" width="5.50" height="5.44" fill="#2c728e"/>
<rect x="474.45" y="106.22" width="5.50" height="5.44" fill="#2f6b8e"/>
<rect x="478.95" y="106.22" width="5.50" height="5.44" fill="#33638d"/>
<rect x="483.45" y="106.22" width="5.50" height="5.44" fill="#375a8c"/>
<rect x="487.95" y="106.22" width="5.50" height="5.44" fill="#3c4f8a"/>
<rect x="492.45" y="106.22" width="5.50" height="5.44" fill="#414487"/>
<rect x="496.95" y="106.22" width="5.50" height="5.44" fill="#453882"/>
<rect x="501.45" y="106.22" width="5.50" height="5.44" fill="#472d7b"/>
<rect x="505.95" y="106.22" width="5.50" height="5.44" fill="#482374"/>
<rect x="510.45" y="106.22" width="5.50" height="5.44" fill="#481a6c"/>
<rect x="514.95" y="106.22" width="5.50" height="5.44" fill="#471365"/>
<rect x="519.45" y="106.22" width="4.50" height="5.44" fill="#470d60"/>
<rect x="429.45" y="110.66" width="5.50" height="5.44" fill="#20938c"/>
<rect x="433.95" y="110.66" width="5.50" height="5.44" fill="#21918c"/>
<rect x="438.45" y="110.66" width="5.50" height="5.44" fill="#218e8d"/>
<rect x="442.95" y="110.66" width="5.50" height="5.44" fill="#228b8d"/>
<rect x="447.45" y="110.66" width="5.50" height="5.44" fill="#23888e"/>
<rect x="451.95" y="110.66" width="5.50" height="5.44" fill="#25848e"/>
<rect x="456.45" y="110.66" width="5.50" height="5.44" fill="#26818e"/>
<rect x="460.95" y="110.66" width="5.50" height="5.44" fill="#287c8e"/>
<rect x="465.45" y="110.66" width="5.50" height="5.44" fill="#2a768e"/>
<rect x="469.95" y="110.66" width="5.50" height="5.44" fill="#2d718e"/>
<rect x="474.45" y="110.66" width="5.50" height="5.44" fill="#30698e"/>
<rect x="478.95" y="110.66" width="5.50" height="5.44" fill="#34618d"/>
<rect x="483.45" y="110.66" width="5.50" height="5.44" fill="#38588c"/>
<rect x="487.95" y="110.66" width="5.50" height="5.44" fill="#3d4e8a"/>
<rect x="492.45" y="110.66" width="5.50" height="5.44" fill="#414287"/>
<rect x="496.95" y="110.66" width="5.50" height="5.44" fill="#453781"/>
<rect x="501.45" y="110.66" width="5.50" height="5.44" fill="#472c7a"/>
<rect x="505.95" y="110.66" width="5.50" height="5.44" fill="#482071"/>
<rect x="510.45" y="110.66" width="5.50" height="5.44" fill="#481769"/>
<rect x="514.95" y="110.66" width="5.50" height="5.44" fill="#471063"/>
<rect x="519.45" y="110.66" width="4.50" height="5.44" fill="#460a5d"/>
<rect x="429.45" y="115.11" width="5.50" height="4.44" fill="#21918c"/>
<rect x="433.95" y="115.11" width="5.50" height="4.44" fill="#218e8d"/>
<rect x="438.45" y="115.11" width="5.50" height="4.44" fill="#238a8d"/>
<rect x="442.95" y="115.11" width="5.50" height="4.44" fill="#24878e"/>
<rect x="447.45" y="115.11" width="5.50" height="4.44" fill="#25848e"/>
<rect x="451.95" y="115.11" width="5.50" height="4.44" fill="#26818e"/>
<rect x="456.45" y="115.11" width="5.50" height="4.44" fill="#287d8e"/>
<rect x="460.95" y="115.11" width="5.50" height="4.44" fill="#2a788e"/>
<rect x="465.45" y="115.11" width="5.50" height="4.44" fill="#2c738e"/>
<rect x="469.95" y="115.11" width="5.50" height="4.44" fill="#2e6e8e"/>
<rect x="474.45" y="115.11" width="5.50" height="4.44" fill="#31678e"/>
<rect x="478.95" y="115.11" width="5.50" height="4.44" fill="#34608d"/>
<rect x="483.45" y="115.11" width="5.50" height="4.44" fill="#38588c"/>
<rect x="487.95" y="115.11" width="5.50" height="4.44" fill="#3d4d8a"/>
<rect x="492.45" y="115.11" width="5.50" height="4.44" fill="#414287"/>
<rect x="496.95" y="115.11" width="5.50" height="4.44" fill="#453781"/>
<rect x="501.45" y="115.11" width="5.50" height="4.44" fill="#472a7a"/>
<rect x="505.95" y="115.11" width="5.50" height="4.44" fill="#481f70"/>
<rect x="510.45" y="115.11" width="5.50" height="4.44" fill="#481668"/>
<rect x="514.95" y="115.11" width="5.50" height="4.44" fill="#470d60"/>
<rect x="519.45" y="115.11" width="4.50" height="4.44" fill="#46085c"/>
</g>
<rect x="429.45" y="26.25" width="94.5" height="93.3" fill="none" stroke="#444" stroke-width="0.35"/>
<rect x="530.0" y="26.25" width="5.80" height="93.30" fill="#fbe723"/>
<rect x="530.0" y="27.71" width="5.80" height="91.84" fill="#f1e51d"/>
<rect x="530.0" y="29.17" width="5.80" height="90.38" fill="#e7e419"/>
<rect x="530.0" y="30.62" width="5.80" height="88.93" fill="#dde318"/>
<rect x="530.0" y="32.08" width="5.80" height="87.47" fill="#d2e21b"/>
<rect x="530.0" y="33.54" width="5.80" height="86.01" fill="#c8e020"/>
<rect x="530.0" y="35.00" width="5.80" height="84.55" fill="#bddf26"/>
<rect x="530.0" y="36.45" width="5.80" height="83.10" fill="#b2dd2d"/>
<rect x="530.0" y="37.91" width="5.80" height="81.64" fill="#a8db34"/>
<rect x="530.0" y="39.37" width="5.80" height="80.18" fill="#9dd93b"/>
<rect x="530.0" y="40.83" width="5.80" height="78.72" fill="#93d741"/>
<rect x="530.0" y="42.29" width="5.80" height="77.26" fill="#89d548"/>
<rect x="530.0" y="43.74" width="5.80" height="75.81" fill="#7fd34e"/>
<rect x="530.0" y="45.20" width="5.80" height="74.35" fill="#75d054"/>
<rect x="530.0" y="46.66" width="5.80" height="72.89" fill="#6ccd5a"/>
<rect x="530.0" y="48.12" width="5.80" height="71.43" fill="#63cb5f"/>
<rect x="530.0" y="49.58" width="5.80" height="69.97" fill="#5ac864"/>
<rect x="530.0" y="51.03" width="5.80" height="68.52" fill="#52c569"/>
<rect x="530.0" y="52.49" width="5.80" height="67.06" fill="#4ac16d"/>
<rect x="530.0" y="53.95" width="5.80" height="65.60" fill="#42be71"/>
<rect x="530.0" y="55.41" width="5.80" height="64.14" fill="#3bbb75"/>
<rect x="530.0" y="56.86" width="5.80" height="62.69" fill="#35b779"/>
<rect x="530.0" y="58.32" width="5.80" height="61.23" fill="#2fb47c"/>
<rect x="530.0" y="59.78" width="5.80" height="59.77" fill="#2ab07f"/>
<rect x="530.0" y="61.24" width="5.80" height="58.31" fill="#26ad81"/>
<rect x="530.0" y="62.70" width="5.80" height="56.85" fill="#23a983"/>
<rect x="530.0" y="64.15" width="5.80" height="55.40" fill="#21a585"/>
<rect x="530.0" y="65.61" width="5.80" height="53.94" fill="#1fa187"/>
<rect x="530.0" y="67.07" width="5.80" height="52.48" fill="#1f9e89"/>
<rect x="530.0" y="68.53" width="5.80" height="51.02" fill="#1f9a8a"/>
<rect x="530.0" y="69.98" width="5.80" height="49.57" fill="#1f968b"/>
<rect x="530.0" y="71.44" width="5.80" height="48.11" fill="#20928c"/>
<rect x="530.0" y="72.90" width="5.80" height="46.65" fill="#218f8d"/>
<rect x="530.0" y="74.36" width="5.80" height="45.19" fill="#228b8d"/>
<rect x="530.0" y="75.82" width="5.80" height="43.73" fill="#24878e"/>
<rect x="530.0" y="77.27" width="5.80" height="42.28" fill="#25838e"/>
<rect x="530.0" y="78.73" width="5.80" height="40.82" fill="#27808e"/>
<rect x="530.0" y="80.19" width="5.80" height="39.36" fill="#287c8e"/>
<rect x="530.0" y="81.65" width="5.80" height="37.90" fill="#2a788e"/>
<rect x="530.0" y="83.10" width="5.80" height="36.45" fill="#2b748e"/>
<rect x="530.0" y="84.56" width="5.80" height="34.99" fill="#2d718e"/>
<rect x="530.0" y="86.02" width="5.80" height="33.53" fill="#2e6d8e"/>
<rect x="530.0" y="87.48" width="5.80" height="32.07" fill="#30698e"/>
<rect x="530.0" y="88.94" width="5.80" height="30.61" fill="#32658e"/>
<rect x="530.0" y="90.39" width="5.80" height="29.16" fill="#34618d"/>
<rect x="530.0" y="91.85" width="5.80" height="27.70" fill="#365d8d"/>
<rect x="530.0" y="93.31" width="5.80" height="26.24" fill="#38598c"/>
<rect x="530.0" y="94.77" width="5.80" height="24.78" fill="#3a548c"/>
<rect x="530.0" y="96.22" width="5.80" height="23.33" fill="#3c508b"/>
<rect x="530.0" y="97.68" width="5.80" height="21.87" fill="#3e4c8a"/>
<rect x="530.0" y="99.14" width="5.80" height="20.41" fill="#3f4788"/>
<rect x="530.0" y="100.60" width="5.80" height="18.95" fill="#414287"/>
<rect x="530.0" y="102.06" width="5.80" height="17.49" fill="#433e85"/>
<rect x="530.0" y="103.51" width="5.80" height="16.04" fill="#443983"/>
<rect x="530.0" y="104.97" width="5.80" height="14.58" fill="#463480"/>
<rect x="530.0" y="106.43" width="5.80" height="13.12" fill="#472f7d"/>
<rect x="530.0" y="107.89" width="5.80" height="11.66" fill="#472a7a"/>
<rect x="530.0" y="109.35" width="5.80" height="10.20" fill="#482576"/>
<rect x="530.0" y="110.80" width="5.80" height="8.75" fill="#482071"/>
<rect x="530.0" y="112.26" width="5.80" height="7.29" fill="#481b6d"/>
<rect x="530.0" y="113.72" width="5.80" height="5.83" fill="#481668"/>
<rect x="530.0" y="115.18" width="5.80" height="4.37" fill="#471063"/>
<rect x="530.0" y="116.63" width="5.80" height="2.92" fill="#460a5d"/>
<rect x="530.0" y="118.09" width="5.80" height="1.46" fill="#450457"/>
<rect x="530.0" y="26.25" width="5.7999999999999545" height="93.3" fill="none" stroke="#444" stroke-width="0.35"/>
<line x1="535.8" x2="537.3" y1="119.41" y2="119.41" stroke="#555" stroke-width="0.35"/>
<text x="538.3" y="121.71" font-size="5.4" text-anchor="start" fill="#000">−5</text>
<line x1="535.8" x2="537.3" y1="102.41" y2="102.41" stroke="#555" stroke-width="0.35"/>
<text x="538.3" y="104.71" font-size="5.4" text-anchor="start" fill="#000">0</text>
<line x1="535.8" x2="537.3" y1="85.41" y2="85.41" stroke="#555" stroke-width="0.35"/>
<text x="538.3" y="87.71" font-size="5.4" text-anchor="start" fill="#000">5</text>
<line x1="535.8" x2="537.3" y1="68.41" y2="68.41" stroke="#555" stroke-width="0.35"/>
<text x="538.3" y="70.71" font-size="5.4" text-anchor="start" fill="#000">10</text>
<line x1="535.8" x2="537.3" y1="51.41" y2="51.41" stroke="#555" stroke-width="0.35"/>
<text x="538.3" y="53.71" font-size="5.4" text-anchor="start" fill="#000">15</text>
<line x1="535.8" x2="537.3" y1="34.41" y2="34.41" stroke="#555" stroke-width="0.35"/>
<text x="538.3" y="36.7" font-size="5.4" text-anchor="start" fill="#000">20</text>
<line x1="449.70" x2="449.70" y1="119.55" y2="121.05" stroke="#555" stroke-width="0.35"/>
<text x="449.7" y="126.49" font-size="5.4" text-anchor="middle" fill="#000">4</text>
<line x1="485.70" x2="485.70" y1="119.55" y2="121.05" stroke="#555" stroke-width="0.35"/>
<text x="485.7" y="126.49" font-size="5.4" text-anchor="middle" fill="#000">6</text>
<line x1="521.70" x2="521.70" y1="119.55" y2="121.05" stroke="#555" stroke-width="0.35"/>
<text x="521.7" y="126.49" font-size="5.4" text-anchor="middle" fill="#000">8</text>
<line x1="427.95" x2="429.45" y1="117.33" y2="117.33" stroke="#555" stroke-width="0.35"/>
<text x="427.25" y="119.97" font-size="5.4" text-anchor="end" fill="#000">49</text>
<line x1="427.95" x2="429.45" y1="99.56" y2="99.56" stroke="#555" stroke-width="0.35"/>
<text x="427.25" y="102.2" font-size="5.4" text-anchor="end" fill="#000">50</text>
<line x1="427.95" x2="429.45" y1="81.79" y2="81.79" stroke="#555" stroke-width="0.35"/>
<text x="427.25" y="84.43" font-size="5.4" text-anchor="end" fill="#000">51</text>
<line x1="427.95" x2="429.45" y1="64.01" y2="64.01" stroke="#555" stroke-width="0.35"/>
<text x="427.25" y="66.66" font-size="5.4" text-anchor="end" fill="#000">52</text>
<line x1="427.95" x2="429.45" y1="46.24" y2="46.24" stroke="#555" stroke-width="0.35"/>
<text x="427.25" y="48.89" font-size="5.4" text-anchor="end" fill="#000">53</text>
<line x1="427.95" x2="429.45" y1="28.47" y2="28.47" stroke="#555" stroke-width="0.35"/>
<text x="427.25" y="31.12" font-size="5.4" text-anchor="end" fill="#000">54</text>
<text x="476.7" y="134.35" font-size="6.2" text-anchor="middle" fill="#000">Longitude</text>
<text x="418.65" y="73.3" font-size="6.2" text-anchor="middle" transform="rotate(-90 418.65 73.3)" fill="#000">Latitude</text>
<text x="476.7" y="24.25" font-size="6.1" text-anchor="middle" font-weight="bold" fill="#000">(b)Prediction Y [m/s]</text>
<g>
<rect x="297.75" y="157.10" width="5.49" height="5.44" fill="#e5e419"/>
<rect x="302.24" y="157.10" width="5.49" height="5.44" fill="#dde318"/>
<rect x="306.73" y="157.10" width="5.49" height="5.44" fill="#d2e21b"/>
<rect x="311.21" y="157.10" width="5.49" height="5.44" fill="#c2df23"/>
<rect x="315.70" y="157.10" width="5.49" height="5.44" fill="#b0dd2f"/>
<rect x="320.19" y="157.10" width="5.49" height="5.44" fill="#98d83e"/>
<rect x="324.68" y="157.10" width="5.49" height="5.44" fill="#81d34d"/>
<rect x="329.17" y="157.10" width="5.49" height="5.44" fill="#67cc5c"/>
<rect x="333.65" y="157.10" width="5.49" height="5.44" fill="#4ec36b"/>
<rect x="338.14" y="157.10" width="5.49" height="5.44" fill="#37b878"/>
<rect x="342.63" y="157.10" width="5.49" height="5.44" fill="#26ad81"/>
<rect x="347.12" y="157.10" width="5.49" height="5.44" fill="#1fa188"/>
<rect x="351.61" y="157.10" width="5.49" height="5.44" fill="#1f958b"/>
<rect x="356.10" y="157.10" width="5.49" height="5.44" fill="#228b8d"/>
<rect x="360.58" y="157.10" width="5.49" height="5.44" fill="#26828e"/>
<rect x="365.07" y="157.10" width="5.49" height="5.44" fill="#297b8e"/>
<rect x="369.56" y="157.10" width="5.49" height="5.44" fill="#2c738e"/>
<rect x="374.05" y="157.10" width="5.49" height="5.44" fill="#2f6c8e"/>
<rect x="378.54" y="157.10" width="5.49" height="5.44" fill="#32648e"/>
<rect x="383.02" y="157.10" width="5.49" height="5.44" fill="#365c8d"/>
<rect x="387.51" y="157.10" width="4.49" height="5.44" fill="#3b528b"/>
<rect x="297.75" y="161.54" width="5.49" height="5.44" fill="#eae51a"/>
<rect x="302.24" y="161.54" width="5.49" height="5.44" fill="#e2e418"/>
<rect x="306.73" y="161.54" width="5.49" height="5.44" fill="#d5e21a"/>
<rect x="311.21" y="161.54" width="5.49" height="5.44" fill="#c5e021"/>
<rect x="315.70" y="161.54" width="5.49" height="5.44" fill="#b0dd2f"/>
<rect x="320.19" y="161.54" width="5.49" height="5.44" fill="#9bd93c"/>
<rect x="324.68" y="161.54" width="5.49" height="5.44" fill="#81d34d"/>
<rect x="329.17" y="161.54" width="5.49" height="5.44" fill="#67cc5c"/>
<rect x="333.65" y="161.54" width="5.49" height="5.44" fill="#4ec36b"/>
<rect x="338.14" y="161.54" width="5.49" height="5.44" fill="#37b878"/>
<rect x="342.63" y="161.54" width="5.49" height="5.44" fill="#25ac82"/>
<rect x="347.12" y="161.54" width="5.49" height="5.44" fill="#1fa088"/>
<rect x="351.61" y="161.54" width="5.49" height="5.44" fill="#1f948c"/>
<rect x="356.10" y="161.54" width="5.49" height="5.44" fill="#238a8d"/>
<rect x="360.58" y="161.54" width="5.49" height="5.44" fill="#26818e"/>
<rect x="365.07" y="161.54" width="5.49" height="5.44" fill="#2a788e"/>
<rect x="369.56" y="161.54" width="5.49" height="5.44" fill="#2d718e"/>
<rect x="374.05" y="161.54" width="5.49" height="5.44" fill="#30698e"/>
<rect x="378.54" y="161.54" width="5.49" height="5.44" fill="#34618d"/>
<rect x="383.02" y="161.54" width="5.49" height="5.44" fill="#38588c"/>
<rect x="387.51" y="161.54" width="4.49" height="5.44" fill="#3d4e8a"/>
<rect x="297.75" y="165.99" width="5.49" height="5.44" fill="#ece51b"/>
<rect x="302.24" y="165.99" width="5.49" height="5.44" fill="#e5e419"/>
<rect x="306.73" y="165.99" width="5.49" height="5.44" fill="#d8e219"/>
<rect x="311.21" y="165.99" width="5.49" height="5.44" fill="#c8e020"/>
<rect x="315.70" y="165.99" width="5.49" height="5.44" fill="#b2dd2d"/>
<rect x="320.19" y="165.99" width="5.49" height="5.44" fill="#9bd93c"/>
<rect x="324.68" y="165.99" width="5.49" height="5.44" fill="#7fd34e"/>
<rect x="329.17" y="165.99" width="5.49" height="5.44" fill="#65cb5e"/>
<rect x="333.65" y="165.99" width="5.49" height="5.44" fill="#4cc26c"/>
<rect x="338.14" y="165.99" width="5.49" height="5.44" fill="#35b779"/>
<rect x="342.63" y="165.99" width="5.49" height="5.44" fill="#25ac82"/>
<rect x="347.12" y="165.99" width="5.49" height="5.44" fill="#1f9f88"/>
<rect x="351.61" y="165.99" width="5.49" height="5.44" fill="#20938c"/>
<rect x="356.10" y="165.99" width="5.49" height="5.44" fill="#23898e"/>
<rect x="360.58" y="165.99" width="5.49" height="5.44" fill="#27808e"/>
<rect x="365.07" y="165.99" width="5.49" height="5.44" fill="#2a778e"/>
<rect x="369.56" y="165.99" width="5.49" height="5.44" fill="#2e6f8e"/>
<rect x="374.05" y="165.99" width="5.49" height="5.44" fill="#31678e"/>
<rect x="378.54" y="165.99" width="5.49" height="5.44" fill="#355e8d"/>
<rect x="383.02" y="165.99" width="5.49" height="5.44" fill="#39558c"/>
<rect x="387.51" y="165.99" width="4.49" height="5.44" fill="#3e4c8a"/>
<rect x="297.75" y="170.43" width="5.49" height="5.44" fill="#f1e51d"/>
<rect x="302.24" y="170.43" width="5.49" height="5.44" fill="#e7e419"/>
<rect x="306.73" y="170.43" width="5.49" height="5.44" fill="#dae319"/>
<rect x="311.21" y="170.43" width="5.49" height="5.44" fill="#c8e020"/>
<rect x="315.70" y="170.43" width="5.49" height="5.44" fill="#b2dd2d"/>
<rect x="320.19" y="170.43" width="5.49" height="5.44" fill="#98d83e"/>
<rect x="324.68" y="170.43" width="5.49" height="5.44" fill="#7cd250"/>
<rect x="329.17" y="170.43" width="5.49" height="5.44" fill="#63cb5f"/>
<rect x="333.65" y="170.43" width="5.49" height="5.44" fill="#48c16e"/>
<rect x="338.14" y="170.43" width="5.49" height="5.44" fill="#32b67a"/>
<rect x="342.63" y="170.43" width="5.49" height="5.44" fill="#24aa83"/>
<rect x="347.12" y="170.43" width="5.49" height="5.44" fill="#1f9e89"/>
<rect x="351.61" y="170.43" width="5.49" height="5.44" fill="#20928c"/>
<rect x="356.10" y="170.43" width="5.49" height="5.44" fill="#23888e"/>
<rect x="360.58" y="170.43" width="5.49" height="5.44" fill="#277e8e"/>
<rect x="365.07" y="170.43" width="5.49" height="5.44" fill="#2b758e"/>
<rect x="369.56" y="170.43" width="5.49" height="5.44" fill="#2e6d8e"/>
<rect x="374.05" y="170.43" width="5.49" height="5.44" fill="#32658e"/>
<rect x="378.54" y="170.43" width="5.49" height="5.44" fill="#365d8d"/>
<rect x="383.02" y="170.43" width="5.49" height="5.44" fill="#3a548c"/>
<rect x="387.51" y="170.43" width="4.49" height="5.44" fill="#3e4a89"/>
<rect x="297.75" y="174.87" width="5.49" height="5.44" fill="#f1e51d"/>
<rect x="302.24" y="174.87" width="5.49" height="5.44" fill="#eae51a"/>
<rect x="306.73" y="174.87" width="5.49" height="5.44" fill="#dae319"/>
<rect x="311.21" y="174.87" width="5.49" height="5.44" fill="#c8e020"/>
<rect x="315.70" y="174.87" width="5.49" height="5.44" fill="#b0dd2f"/>
<rect x="320.19" y="174.87" width="5.49" height="5.44" fill="#95d840"/>
<rect x="324.68" y="174.87" width="5.49" height="5.44" fill="#77d153"/>
<rect x="329.17" y="174.87" width="5.49" height="5.44" fill="#5cc863"/>
<rect x="333.65" y="174.87" width="5.49" height="5.44" fill="#44bf70"/>
<rect x="338.14" y="174.87" width="5.49" height="5.44" fill="#2fb47c"/>
<rect x="342.63" y="174.87" width="5.49" height="5.44" fill="#22a785"/>
<rect x="347.12" y="174.87" width="5.49" height="5.44" fill="#1e9c89"/>
<rect x="351.61" y="174.87" width="5.49" height="5.44" fill="#21918c"/>
<rect x="356.10" y="174.87" width="5.49" height="5.44" fill="#24868e"/>
<rect x="360.58" y="174.87" width="5.49" height="5.44" fill="#287d8e"/>
<rect x="365.07" y="174.87" width="5.49" height="5.44" fill="#2b748e"/>
<rect x="369.56" y="174.87" width="5.49" height="5.44" fill="#2f6c8e"/>
<rect x="374.05" y="174.87" width="5.49" height="5.44" fill="#32648e"/>
<rect x="378.54" y="174.87" width="5.49" height="5.44" fill="#365c8d"/>
<rect x="383.02" y="174.87" width="5.49" height="5.44" fill="#3b528b"/>
<rect x="387.51" y="174.87" width="4.49" height="5.44" fill="#3e4989"/>
<rect x="297.75" y="179.31" width="5.49" height="5.44" fill="#f4e61e"/>
<rect x="302.24" y="179.31" width="5.49" height="5.44" fill="#e7e419"/>
<rect x="306.73" y="179.31" width="5.49" height="5.44" fill="#d8e219"/>
<rect x="311.21" y="179.31" width="5.49" height="5.44" fill="#c2df23"/>
<rect x="315.70" y="179.31" width="5.49" height="5.44" fill="#aadc32"/>
<rect x="320.19" y="179.31" width="5.49" height="5.44" fill="#8ed645"/>
<rect x="324.68" y="179.31" width="5.49" height="5.44" fill="#73d056"/>
<rect x="329.17" y="179.31" width="5.49" height="5.44" fill="#56c667"/>
<rect x="333.65" y="179.31" width="5.49" height="5.44" fill="#3dbc74"/>
<rect x="338.14" y="179.31" width="5.49" height="5.44" fill="#2ab07f"/>
<rect x="342.63" y="179.31" width="5.49" height="5.44" fill="#20a486"/>
<rect x="347.12" y="179.31" width="5.49" height="5.44" fill="#1f998a"/>
<rect x="351.61" y="179.31" width="5.49" height="5.44" fill="#218e8d"/>
<rect x="356.10" y="179.31" width="5.49" height="5.44" fill="#25838e"/>
<rect x="360.58" y="179.31" width="5.49" height="5.44" fill="#297b8e"/>
<rect x="365.07" y="179.31" width="5.49" height="5.44" fill="#2c728e"/>
<rect x="369.56" y="179.31" width="5.49" height="5.44" fill="#2f6b8e"/>
<rect x="374.05" y="179.31" width="5.49" height="5.44" fill="#33638d"/>
<rect x="378.54" y="179.31" width="5.49" height="5.44" fill="#375b8d"/>
<rect x="383.02" y="179.31" width="5.49" height="5.44" fill="#3b518b"/>
<rect x="387.51" y="179.31" width="4.49" height="5.44" fill="#3f4788"/>
<rect x="297.75" y="183.76" width="5.49" height="5.44" fill="#f1e51d"/>
<rect x="302.24" y="183.76" width="5.49" height="5.44" fill="#e5e419"/>
<rect x="306.73" y="183.76" width="5.49" height="5.44" fill="#d2e21b"/>
<rect x="311.21" y="183.76" width="5.49" height="5.44" fill="#bddf26"/>
<rect x="315.70" y="183.76" width="5.49" height="5.44" fill="#a2da37"/>
<rect x="320.19" y="183.76" width="5.49" height="5.44" fill="#86d549"/>
<rect x="324.68" y="183.76" width="5.49" height="5.44" fill="#69cd5b"/>
<rect x="329.17" y="183.76" width="5.49" height="5.44" fill="#4ec36b"/>
<rect x="333.65" y="183.76" width="5.49" height="5.44" fill="#37b878"/>
<rect x="338.14" y="183.76" width="5.49" height="5.44" fill="#26ad81"/>
<rect x="342.63" y="183.76" width="5.49" height="5.44" fill="#1fa188"/>
<rect x="347.12" y="183.76" width="5.49" height="5.44" fill="#1f958b"/>
<rect x="351.61" y="183.76" width="5.49" height="5.44" fill="#228b8d"/>
<rect x="356.10" y="183.76" width="5.49" height="5.44" fill="#26828e"/>
<rect x="360.58" y="183.76" width="5.49" height="5.44" fill="#29798e"/>
<rect x="365.07" y="183.76" width="5.49" height="5.44" fill="#2d718e"/>
<rect x="369.56" y="183.76" width="5.49" height="5.44" fill="#30698e"/>
<rect x="374.05" y="183.76" width="5.49" height="5.44" fill="#34618d"/>
<rect x="378.54" y="183.76" width="5.49" height="5.44" fill="#38598c"/>
<rect x="383.02" y="183.76" width="5.49" height="5.44" fill="#3c508b"/>
<rect x="387.51" y="183.76" width="4.49" height="5.44" fill="#404688"/>
<rect x="297.75" y="188.20" width="5.49" height="5.44" fill="#ece51b"/>
<rect x="302.24" y="188.20" width="5.49" height="5.44" fill="#dde318"/>
<rect x="306.73" y="188.20" width="5.49" height="5.44" fill="#cae11f"/>
<rect x="311.21" y="188.20" width="5.49" height="5.44" fill="#b2dd2d"/>
<rect x="315.70" y="188.20" width="5.49" height="5.44" fill="#95d840"/>
<rect x="320.19" y="188.20" width="5.49" height="5.44" fill="#7ad151"/>
<rect x="324.68" y="188.20" width="5.49" height="5.44" fill="#5ec962"/>
<rect x="329.17" y="188.20" width="5.49" height="5.44" fill="#44bf70"/>
<rect x="333.65" y="188.20" width="5.49" height="5.44" fill="#31b57b"/>
<rect x="338.14" y="188.20" width="5.49" height="5.44" fill="#23a983"/>
<rect x="342.63" y="188.20" width="5.49" height="5.44" fill="#1e9d89"/>
<rect x="347.12" y="188.20" width="5.49" height="5.44" fill="#20928c"/>
<rect x="351.61" y="188.20" width="5.49" height="5.44" fill="#24878e"/>
<rect x="356.10" y="188.20" width="5.49" height="5.44" fill="#277f8e"/>
<rect x="360.58" y="188.20" width="5.49" height="5.44" fill="#2a768e"/>
<rect x="365.07" y="188.20" width="5.49" height="5.44" fill="#2e6f8e"/>
<rect x="369.56" y="188.20" width="5.49" height="5.44" fill="#31678e"/>
<rect x="374.05" y="188.20" width="5.49" height="5.44" fill="#355f8d"/>
<rect x="378.54" y="188.20" width="5.49" height="5.44" fill="#39568c"/>
<rect x="383.02" y="188.20" width="5.49" height="5.44" fill="#3d4d8a"/>
<rect x="387.51" y="188.20" width="4.49" height="5.44" fill="#414287"/>
<rect x="297.75" y="192.64" width="5.49" height="5.44" fill="#e5e419"/>
<rect x="302.24" y="192.64" width="5.49" height="5.44" fill="#d2e21b"/>
<rect x="306.73" y="192.64" width="5.49" height="5.44" fill="#bddf26"/>
<rect x="311.21" y="192.64" width="5.49" height="5.44" fill="#a2da37"/>
<rect x="315.70" y="192.64" width="5.49" height="5.44" fill="#86d549"/>
<rect x="320.19" y="192.64" width="5.49" height="5.44" fill="#6ccd5a"/>
<rect x="324.68" y="192.64" width="5.49" height="5.44" fill="#52c569"/>
<rect x="329.17" y="192.64" width="5.49" height="5.44" fill="#3aba76"/>
<rect x="333.65" y="192.64" width="5.49" height="5.44" fill="#29af7f"/>
<rect x="338.14" y="192.64" width="5.49" height="5.44" fill="#20a386"/>
<rect x="342.63" y="192.64" width="5.49" height="5.44" fill="#1f988b"/>
<rect x="347.12" y="192.64" width="5.49" height="5.44" fill="#218e8d"/>
<rect x="351.61" y="192.64" width="5.49" height="5.44" fill="#25848e"/>
<rect x="356.10" y="192.64" width="5.49" height="5.44" fill="#297b8e"/>
<rect x="360.58" y="192.64" width="5.49" height="5.44" fill="#2c738e"/>
<rect x="365.07" y="192.64" width="5.49" height="5.44" fill="#2f6c8e"/>
<rect x="369.56" y="192.64" width="5.49" height="5.44" fill="#32648e"/>
<rect x="374.05" y="192.64" width="5.49" height="5.44" fill="#365d8d"/>
<rect x="378.54" y="192.64" width="5.49" height="5.44" fill="#3a538b"/>
<rect x="383.02" y="192.64" width="5.49" height="5.44" fill="#3e4989"/>
<rect x="387.51" y="192.64" width="4.49" height="5.44" fill="#433e85"/>
<rect x="297.75" y="197.09" width="5.49" height="5.44" fill="#dae319"/>
<rect x="302.24" y="197.09" width="5.49" height="5.44" fill="#c2df23"/>
<rect x="306.73" y="197.09" width="5.49" height="5.44" fill="#aadc32"/>
<rect x="311.21" y="197.09" width="5.49" height="5.44" fill="#90d743"/>
<rect x="315.70" y="197.09" width="5.49" height="5.44" fill="#75d054"/>
<rect x="320.19" y="197.09" width="5.49" height="5.44" fill="#5ac864"/>
<rect x="324.68" y="197.09" width="5.49" height="5.44" fill="#42be71"/>
<rect x="329.17" y="197.09" width="5.49" height="5.44" fill="#2fb47c"/>
<rect x="333.65" y="197.09" width="5.49" height="5.44" fill="#23a983"/>
<rect x="338.14" y="197.09" width="5.49" height="5.44" fill="#1f9e89"/>
<rect x="342.63" y="197.09" width="5.49" height="5.44" fill="#20938c"/>
<rect x="347.12" y="197.09" width="5.49" height="5.44" fill="#238a8d"/>
<rect x="351.61" y="197.09" width="5.49" height="5.44" fill="#26818e"/>
<rect x="356.10" y="197.09" width="5.49" height="5.44" fill="#2a788e"/>
<rect x="360.58" y="197.09" width="5.49" height="5.44" fill="#2d718e"/>
<rect x="365.07" y="197.09" width="5.49" height="5.44" fill="#30698e"/>
<rect x="369.56" y="197.09" width="5.49" height="5.44" fill="#34618d"/>
<rect x="374.05" y="197.09" width="5.49" height="5.44" fill="#38598c"/>
<rect x="378.54" y="197.09" width="5.49" height="5.44" fill="#3c4f8a"/>
<rect x="383.02" y="197.09" width="5.49" height="5.44" fill="#414487"/>
<rect x="387.51" y="197.09" width="4.49" height="5.44" fill="#453781"/>
<rect x="297.75" y="201.53" width="5.49" height="5.44" fill="#cae11f"/>
<rect x="302.24" y="201.53" width="5.49" height="5.44" fill="#b0dd2f"/>
<rect x="306.73" y="201.53" width="5.49" height="5.44" fill="#95d840"/>
<rect x="311.21" y="201.53" width="5.49" height="5.44" fill="#7ad151"/>
<rect x="315.70" y="201.53" width="5.49" height="5.44" fill="#60ca60"/>
<rect x="320.19" y="201.53" width="5.49" height="5.44" fill="#48c16e"/>
<rect x="324.68" y="201.53" width="5.49" height="5.44" fill="#35b779"/>
<rect x="329.17" y="201.53" width="5.49" height="5.44" fill="#26ad81"/>
<rect x="333.65" y="201.53" width="5.49" height="5.44" fill="#1fa287"/>
<rect x="338.14" y="201.53" width="5.49" height="5.44" fill="#1f988b"/>
<rect x="342.63" y="201.53" width="5.49" height="5.44" fill="#218f8d"/>
<rect x="347.12" y="201.53" width="5.49" height="5.44" fill="#25858e"/>
<rect x="351.61" y="201.53" width="5.49" height="5.44" fill="#287c8e"/>
<rect x="356.10" y="201.53" width="5.49" height="5.44" fill="#2b748e"/>
<rect x="360.58" y="201.53" width="5.49" height="5.44" fill="#2e6d8e"/>
<rect x="365.07" y="201.53" width="5.49" height="5.44" fill="#32658e"/>
<rect x="369.56" y="201.53" width="5.49" height="5.44" fill="#365d8d"/>
<rect x="374.05" y="201.53" width="5.49" height="5.44" fill="#3a538b"/>
<rect x="378.54" y="201.53" width="5.49" height="5.44" fill="#3e4989"/>
<rect x="383.02" y="201.53" width="5.49" height="5.44" fill="#433d84"/>
<rect x="387.51" y="201.53" width="4.49" height="5.44" fill="#472e7c"/>
<rect x="297.75" y="205.97" width="5.49" height="5.44" fill="#b5de2b"/>
<rect x="302.24" y="205.97" width="5.49" height="5.44" fill="#98d83e"/>
<rect x="306.73" y="205.97" width="5.49" height="5.44" fill="#7cd250"/>
<rect x="311.21" y="205.97" width="5.49" height="5.44" fill="#63cb5f"/>
<rect x="315.70" y="205.97" width="5.49" height="5.44" fill="#4cc26c"/>
<rect x="320.19" y="205.97" width="5.49" height="5.44" fill="#38b977"/>
<rect x="324.68" y="205.97" width="5.49" height="5.44" fill="#29af7f"/>
<rect x="329.17" y="205.97" width="5.49" height="5.44" fill="#21a585"/>
<rect x="333.65" y="205.97" width="5.49" height="5.44" fill="#1e9c89"/>
<rect x="338.14" y="205.97" width="5.49" height="5.44" fill="#20928c"/>
<rect x="342.63" y="205.97" width="5.49" height="5.44" fill="#23898e"/>
<rect x="347.12" y="205.97" width="5.49" height="5.44" fill="#26818e"/>
<rect x="351.61" y="205.97" width="5.49" height="5.44" fill="#2a788e"/>
<rect x="356.10" y="205.97" width="5.49" height="5.44" fill="#2d708e"/>
<rect x="360.58" y="205.97" width="5.49" height="5.44" fill="#31688e"/>
<rect x="365.07" y="205.97" width="5.49" height="5.44" fill="#34608d"/>
<rect x="369.56" y="205.97" width="5.49" height="5.44" fill="#38588c"/>
<rect x="374.05" y="205.97" width="5.49" height="5.44" fill="#3d4e8a"/>
<rect x="378.54" y="205.97" width="5.49" height="5.44" fill="#414287"/>
<rect x="383.02" y="205.97" width="5.49" height="5.44" fill="#453581"/>
<rect x="387.51" y="205.97" width="4.49" height="5.44" fill="#482576"/>
<rect x="297.75" y="210.41" width="5.49" height="5.44" fill="#9bd93c"/>
<rect x="302.24" y="210.41" width="5.49" height="5.44" fill="#7fd34e"/>
<rect x="306.73" y="210.41" width="5.49" height="5.44" fill="#65cb5e"/>
<rect x="311.21" y="210.41" width="5.49" height="5.44" fill="#4ec36b"/>
<rect x="315.70" y="210.41" width="5.49" height="5.44" fill="#3bbb75"/>
<rect x="320.19" y="210.41" width="5.49" height="5.44" fill="#2cb17e"/>
<rect x="324.68" y="210.41" width="5.49" height="5.44" fill="#22a884"/>
<rect x="329.17" y="210.41" width="5.49" height="5.44" fill="#1f9e89"/>
<rect x="333.65" y="210.41" width="5.49" height="5.44" fill="#1f958b"/>
<rect x="338.14" y="210.41" width="5.49" height="5.44" fill="#228c8d"/>
<rect x="342.63" y="210.41" width="5.49" height="5.44" fill="#25838e"/>
<rect x="347.12" y="210.41" width="5.49" height="5.44" fill="#297b8e"/>
<rect x="351.61" y="210.41" width="5.49" height="5.44" fill="#2c738e"/>
<rect x="356.10" y="210.41" width="5.49" height="5.44" fill="#2f6c8e"/>
<rect x="360.58" y="210.41" width="5.49" height="5.44" fill="#33638d"/>
<rect x="365.07" y="210.41" width="5.49" height="5.44" fill="#375b8d"/>
<rect x="369.56" y="210.41" width="5.49" height="5.44" fill="#3b518b"/>
<rect x="374.05" y="210.41" width="5.49" height="5.44" fill="#3f4788"/>
<rect x="378.54" y="210.41" width="5.49" height="5.44" fill="#443b84"/>
<rect x="383.02" y="210.41" width="5.49" height="5.44" fill="#472e7c"/>
<rect x="387.51" y="210.41" width="4.49" height="5.44" fill="#481d6f"/>
<rect x="297.75" y="214.86" width="5.49" height="5.44" fill="#7fd34e"/>
<rect x="302.24" y="214.86" width="5.49" height="5.44" fill="#65cb5e"/>
<rect x="306.73" y="214.86" width="5.49" height="5.44" fill="#50c46a"/>
<rect x="311.21" y="214.86" width="5.49" height="5.44" fill="#3dbc74"/>
<rect x="315.70" y="214.86" width="5.49" height="5.44" fill="#2db27d"/>
<rect x="320.19" y="214.86" width="5.49" height="5.44" fill="#24aa83"/>
<rect x="324.68" y="214.86" width="5.49" height="5.44" fill="#1fa188"/>
<rect x="329.17" y="214.86" width="5.49" height="5.44" fill="#1f978b"/>
<rect x="333.65" y="214.86" width="5.49" height="5.44" fill="#218f8d"/>
<rect x="338.14" y="214.86" width="5.49" height="5.44" fill="#24868e"/>
<rect x="342.63" y="214.86" width="5.49" height="5.44" fill="#277e8e"/>
<rect x="347.12" y="214.86" width="5.49" height="5.44" fill="#2a768e"/>
<rect x="351.61" y="214.86" width="5.49" height="5.44" fill="#2e6e8e"/>
<rect x="356.10" y="214.86" width="5.49" height="5.44" fill="#31668e"/>
<rect x="360.58" y="214.86" width="5.49" height="5.44" fill="#355e8d"/>
<rect x="365.07" y="214.86" width="5.49" height="5.44" fill="#39558c"/>
<rect x="369.56" y="214.86" width="5.49" height="5.44" fill="#3e4c8a"/>
<rect x="374.05" y="214.86" width="5.49" height="5.44" fill="#424186"/>
<rect x="378.54" y="214.86" width="5.49" height="5.44" fill="#463480"/>
<rect x="383.02" y="214.86" width="5.49" height="5.44" fill="#482677"/>
<rect x="387.51" y="214.86" width="4.49" height="5.44" fill="#481769"/>
<rect x="297.75" y="219.30" width="5.49" height="5.44" fill="#60ca60"/>
<rect x="302.24" y="219.30" width="5.49" height="5.44" fill="#4ec36b"/>
<rect x="306.73" y="219.30" width="5.49" height="5.44" fill="#3bbb75"/>
<rect x="311.21" y="219.30" width="5.49" height="5.44" fill="#2eb37c"/>
<rect x="315.70" y="219.30" width="5.49" height="5.44" fill="#25ab82"/>
<rect x="320.19" y="219.30" width="5.49" height="5.44" fill="#1fa287"/>
<rect x="324.68" y="219.30" width="5.49" height="5.44" fill="#1f9a8a"/>
<rect x="329.17" y="219.30" width="5.49" height="5.44" fill="#20928c"/>
<rect x="333.65" y="219.30" width="5.49" height="5.44" fill="#23898e"/>
<rect x="338.14" y="219.30" width="5.49" height="5.44" fill="#26818e"/>
<rect x="342.63" y="219.30" width="5.49" height="5.44" fill="#29798e"/>
<rect x="347.12" y="219.30" width="5.49" height="5.44" fill="#2d718e"/>
<rect x="351.61" y="219.30" width="5.49" height="5.44" fill="#30698e"/>
<rect x="356.10" y="219.30" width="5.49" height="5.44" fill="#34618d"/>
<rect x="360.58" y="219.30" width="5.49" height="5.44" fill="#38598c"/>
<rect x="365.07" y="219.30" width="5.49" height="5.44" fill="#3c4f8a"/>
<rect x="369.56" y="219.30" width="5.49" height="5.44" fill="#404688"/>
<rect x="374.05" y="219.30" width="5.49" height="5.44" fill="#443a83"/>
<rect x="378.54" y="219.30" width="5.49" height="5.44" fill="#472e7c"/>
<rect x="383.02" y="219.30" width="5.49" height="5.44" fill="#482071"/>
<rect x="387.51" y="219.30" width="4.49" height="5.44" fill="#471063"/>
<rect x="297.75" y="223.74" width="5.49" height="5.44" fill="#44bf70"/>
<rect x="302.24" y="223.74" width="5.49" height="5.44" fill="#38b977"/>
<rect x="306.73" y="223.74" width="5.49" height="5.44" fill="#2db27d"/>
<rect x="311.21" y="223.74" width="5.49" height="5.44" fill="#25ab82"/>
<rect x="315.70" y="223.74" width="5.49" height="5.44" fill="#20a386"/>
<rect x="320.19" y="223.74" width="5.49" height="5.44" fill="#1e9c89"/>
<rect x="324.68" y="223.74" width="5.49" height="5.44" fill="#20938c"/>
<rect x="329.17" y="223.74" width="5.49" height="5.44" fill="#228c8d"/>
<rect x="333.65" y="223.74" width="5.49" height="5.44" fill="#25838e"/>
<rect x="338.14" y="223.74" width="5.49" height="5.44" fill="#287c8e"/>
<rect x="342.63" y="223.74" width="5.49" height="5.44" fill="#2b748e"/>
<rect x="347.12" y="223.74" width="5.49" height="5.44" fill="#2f6c8e"/>
<rect x="351.61" y="223.74" width="5.49" height="5.44" fill="#32648e"/>
<rect x="356.10" y="223.74" width="5.49" height="5.44" fill="#365c8d"/>
<rect x="360.58" y="223.74" width="5.49" height="5.44" fill="#3a538b"/>
<rect x="365.07" y="223.74" width="5.49" height="5.44" fill="#3e4989"/>
<rect x="369.56" y="223.74" width="5.49" height="5.44" fill="#423f85"/>
<rect x="374.05" y="223.74" width="5.49" height="5.44" fill="#463480"/>
<rect x="378.54" y="223.74" width="5.49" height="5.44" fill="#482979"/>
<rect x="383.02" y="223.74" width="5.49" height="5.44" fill="#481b6d"/>
<rect x="387.51" y="223.74" width="4.49" height="5.44" fill="#460b5e"/>
<rect x="297.75" y="228.19" width="5.49" height="5.44" fill="#2fb47c"/>
<rect x="302.24" y="228.19" width="5.49" height="5.44" fill="#28ae80"/>
<rect x="306.73" y="228.19" width="5.49" height="5.44" fill="#23a983"/>
<rect x="311.21" y="228.19" width="5.49" height="5.44" fill="#1fa287"/>
<rect x="315.70" y="228.19" width="5.49" height="5.44" fill="#1e9c89"/>
<rect x="320.19" y="228.19" width="5.49" height="5.44" fill="#1f958b"/>
<rect x="324.68" y="228.19" width="5.49" height="5.44" fill="#218e8d"/>
<rect x="329.17" y="228.19" width="5.49" height="5.44" fill="#24878e"/>
<rect x="333.65" y="228.19" width="5.49" height="5.44" fill="#27808e"/>
<rect x="338.14" y="228.19" width="5.49" height="5.44" fill="#2a778e"/>
<rect x="342.63" y="228.19" width="5.49" height="5.44" fill="#2d708e"/>
<rect x="347.12" y="228.19" width="5.49" height="5.44" fill="#31688e"/>
<rect x="351.61" y="228.19" width="5.49" height="5.44" fill="#355f8d"/>
<rect x="356.10" y="228.19" width="5.49" height="5.44" fill="#39568c"/>
<rect x="360.58" y="228.19" width="5.49" height="5.44" fill="#3d4e8a"/>
<rect x="365.07" y="228.19" width="5.49" height="5.44" fill="#404588"/>
<rect x="369.56" y="228.19" width="5.49" height="5.44" fill="#443a83"/>
<rect x="374.05" y="228.19" width="5.49" height="5.44" fill="#472f7d"/>
<rect x="378.54" y="228.19" width="5.49" height="5.44" fill="#482475"/>
<rect x="383.02" y="228.19" width="5.49" height="5.44" fill="#481769"/>
<rect x="387.51" y="228.19" width="4.49" height="5.44" fill="#46085c"/>
<rect x="297.75" y="232.63" width="5.49" height="5.44" fill="#22a884"/>
<rect x="302.24" y="232.63" width="5.49" height="5.44" fill="#20a486"/>
<rect x="306.73" y="232.63" width="5.49" height="5.44" fill="#1fa088"/>
<rect x="311.21" y="232.63" width="5.49" height="5.44" fill="#1e9b8a"/>
<rect x="315.70" y="232.63" width="5.49" height="5.44" fill="#1f958b"/>
<rect x="320.19" y="232.63" width="5.49" height="5.44" fill="#21908d"/>
<rect x="324.68" y="232.63" width="5.49" height="5.44" fill="#23898e"/>
<rect x="329.17" y="232.63" width="5.49" height="5.44" fill="#26828e"/>
<rect x="333.65" y="232.63" width="5.49" height="5.44" fill="#297b8e"/>
<rect x="338.14" y="232.63" width="5.49" height="5.44" fill="#2c738e"/>
<rect x="342.63" y="232.63" width="5.49" height="5.44" fill="#2f6c8e"/>
<rect x="347.12" y="232.63" width="5.49" height="5.44" fill="#32648e"/>
<rect x="351.61" y="232.63" width="5.49" height="5.44" fill="#375b8d"/>
<rect x="356.10" y="232.63" width="5.49" height="5.44" fill="#3b528b"/>
<rect x="360.58" y="232.63" width="5.49" height="5.44" fill="#3e4989"/>
<rect x="365.07" y="232.63" width="5.49" height="5.44" fill="#424086"/>
<rect x="369.56" y="232.63" width="5.49" height="5.44" fill="#453781"/>
<rect x="374.05" y="232.63" width="5.49" height="5.44" fill="#472c7a"/>
<rect x="378.54" y="232.63" width="5.49" height="5.44" fill="#482071"/>
<rect x="383.02" y="232.63" width="5.49" height="5.44" fill="#481467"/>
<rect x="387.51" y="232.63" width="4.49" height="5.44" fill="#450559"/>
<rect x="297.75" y="237.07" width="5.49" height="5.44" fill="#1f9e89"/>
<rect x="302.24" y="237.07" width="5.49" height="5.44" fill="#1e9b8a"/>
<rect x="306.73" y="237.07" width="5.49" height="5.44" fill="#1f988b"/>
<rect x="311.21" y="237.07" width="5.49" height="5.44" fill="#20938c"/>
<rect x="315.70" y="237.07" width="5.49" height="5.44" fill="#21908d"/>
<rect x="320.19" y="237.07" width="5.49" height="5.44" fill="#238a8d"/>
<rect x="324.68" y="237.07" width="5.49" height="5.44" fill="#25848e"/>
<rect x="329.17" y="237.07" width="5.49" height="5.44" fill="#277f8e"/>
<rect x="333.65" y="237.07" width="5.49" height="5.44" fill="#2a788e"/>
<rect x="338.14" y="237.07" width="5.49" height="5.44" fill="#2d718e"/>
<rect x="342.63" y="237.07" width="5.49" height="5.44" fill="#30698e"/>
<rect x="347.12" y="237.07" width="5.49" height="5.44" fill="#34618d"/>
<rect x="351.61" y="237.07" width="5.49" height="5.44" fill="#38598c"/>
<rect x="356.10" y="237.07" width="5.49" height="5.44" fill="#3c508b"/>
<rect x="360.58" y="237.07" width="5.49" height="5.44" fill="#404688"/>
<rect x="365.07" y="237.07" width="5.49" height="5.44" fill="#433d84"/>
<rect x="369.56" y="237.07" width="5.49" height="5.44" fill="#46337f"/>
<rect x="374.05" y="237.07" width="5.49" height="5.44" fill="#482979"/>
<rect x="378.54" y="237.07" width="5.49" height="5.44" fill="#481f70"/>
<rect x="383.02" y="237.07" width="5.49" height="5.44" fill="#471365"/>
<rect x="387.51" y="237.07" width="4.49" height="5.44" fill="#450559"/>
<rect x="297.75" y="241.51" width="5.49" height="5.44" fill="#1f958b"/>
<rect x="302.24" y="241.51" width="5.49" height="5.44" fill="#20938c"/>
<rect x="306.73" y="241.51" width="5.49" height="5.44" fill="#21918c"/>
<rect x="311.21" y="241.51" width="5.49" height="5.44" fill="#228d8d"/>
<rect x="315.70" y="241.51" width="5.49" height="5.44" fill="#23898e"/>
<rect x="320.19" y="241.51" width="5.49" height="5.44" fill="#25858e"/>
<rect x="324.68" y="241.51" width="5.49" height="5.44" fill="#26818e"/>
<rect x="329.17" y="241.51" width="5.49" height="5.44" fill="#297b8e"/>
<rect x="333.65" y="241.51" width="5.49" height="5.44" fill="#2b758e"/>
<rect x="338.14" y="241.51" width="5.49" height="5.44" fill="#2e6f8e"/>
<rect x="342.63" y="241.51" width="5.49" height="5.44" fill="#31678e"/>
<rect x="347.12" y="241.51" width="5.49" height="5.44" fill="#355f8d"/>
<rect x="351.61" y="241.51" width="5.49" height="5.44" fill="#39568c"/>
<rect x="356.10" y="241.51" width="5.49" height="5.44" fill="#3d4e8a"/>
<rect x="360.58" y="241.51" width="5.49" height="5.44" fill="#404588"/>
<rect x="365.07" y="241.51" width="5.49" height="5.44" fill="#433d84"/>
<rect x="369.56" y="241.51" width="5.49" height="5.44" fill="#46337f"/>
<rect x="374.05" y="241.51" width="5.49" height="5.44" fill="#482979"/>
<rect x="378.54" y="241.51" width="5.49" height="5.44" fill="#481d6f"/>
<rect x="383.02" y="241.51" width="5.49" height="5.44" fill="#471365"/>
<rect x="387.51" y="241.51" width="4.49" height="5.44" fill="#450559"/>
<rect x="297.75" y="245.96" width="5.49" height="4.44" fill="#21918c"/>
<rect x="302.24" y="245.96" width="5.49" height="4.44" fill="#228d8d"/>
<rect x="306.73" y="245.96" width="5.49" height="4.44" fill="#238a8d"/>
<rect x="311.21" y="245.96" width="5.49" height="4.44" fill="#24878e"/>
<rect x="315.70" y="245.96" width="5.49" height="4.44" fill="#25848e"/>
<rect x="320.19" y="245.96" width="5.49" height="4.44" fill="#26818e"/>
<rect x="324.68" y="245.96" width="5.49" height="4.44" fill="#287d8e"/>
<rect x="329.17" y="245.96" width="5.49" height="4.44" fill="#2a788e"/>
<rect x="333.65" y="245.96" width="5.49" height="4.44" fill="#2c738e"/>
<rect x="338.14" y="245.96" width="5.49" height="4.44" fill="#2e6e8e"/>
<rect x="342.63" y="245.96" width="5.49" height="4.44" fill="#31678e"/>
<rect x="347.12" y="245.96" width="5.49" height="4.44" fill="#355f8d"/>
<rect x="351.61" y="245.96" width="5.49" height="4.44" fill="#38588c"/>
<rect x="356.10" y="245.96" width="5.49" height="4.44" fill="#3c4f8a"/>
<rect x="360.58" y="245.96" width="5.49" height="4.44" fill="#404688"/>
<rect x="365.07" y="245.96" width="5.49" height="4.44" fill="#433e85"/>
<rect x="369.56" y="245.96" width="5.49" height="4.44" fill="#463480"/>
<rect x="374.05" y="245.96" width="5.49" height="4.44" fill="#472a7a"/>
<rect x="378.54" y="245.96" width="5.49" height="4.44" fill="#482071"/>
<rect x="383.02" y="245.96" width="5.49" height="4.44" fill="#481467"/>
<rect x="387.51" y="245.96" width="4.49" height="4.44" fill="#46085c"/>
</g>
<rect x="297.75" y="157.1" width="94.25" height="93.3" fill="none" stroke="#444" stroke-width="0.35"/>
<rect x="398.0" y="157.10" width="5.80" height="93.30" fill="#fbe723"/>
<rect x="398.0" y="158.56" width="5.80" height="91.84" fill="#f1e51d"/>
<rect x="398.0" y="160.02" width="5.80" height="90.38" fill="#e7e419"/>
<rect x="398.0" y="161.47" width="5.80" height="88.93" fill="#dde318"/>
<rect x="398.0" y="162.93" width="5.80" height="87.47" fill="#d2e21b"/>
<rect x="398.0" y="164.39" width="5.80" height="86.01" fill="#c8e020"/>
<rect x="398.0" y="165.85" width="5.80" height="84.55" fill="#bddf26"/>
<rect x="398.0" y="167.30" width="5.80" height="83.10" fill="#b2dd2d"/>
<rect x="398.0" y="168.76" width="5.80" height="81.64" fill="#a8db34"/>
<rect x="398.0" y="170.22" width="5.80" height="80.18" fill="#9dd93b"/>
<rect x="398.0" y="171.68" width="5.80" height="78.72" fill="#93d741"/>
<rect x="398.0" y="173.14" width="5.80" height="77.26" fill="#89d548"/>
<rect x="398.0" y="174.59" width="5.80" height="75.81" fill="#7fd34e"/>
<rect x="398.0" y="176.05" width="5.80" height="74.35" fill="#75d054"/>
<rect x="398.0" y="177.51" width="5.80" height="72.89" fill="#6ccd5a"/>
<rect x="398.0" y="178.97" width="5.80" height="71.43" fill="#63cb5f"/>
<rect x="398.0" y="180.42" width="5.80" height="69.97" fill="#5ac864"/>
<rect x="398.0" y="181.88" width="5.80" height="68.52" fill="#52c569"/>
<rect x="398.0" y="183.34" width="5.80" height="67.06" fill="#4ac16d"/>
<rect x="398.0" y="184.80" width="5.80" height="65.60" fill="#42be71"/>
<rect x="398.0" y="186.26" width="5.80" height="64.14" fill="#3bbb75"/>
<rect x="398.0" y="187.71" width="5.80" height="62.69" fill="#35b779"/>
<rect x="398.0" y="189.17" width="5.80" height="61.23" fill="#2fb47c"/>
<rect x="398.0" y="190.63" width="5.80" height="59.77" fill="#2ab07f"/>
<rect x="398.0" y="192.09" width="5.80" height="58.31" fill="#26ad81"/>
<rect x="398.0" y="193.55" width="5.80" height="56.85" fill="#23a983"/>
<rect x="398.0" y="195.00" width="5.80" height="55.40" fill="#21a585"/>
<rect x="398.0" y="196.46" width="5.80" height="53.94" fill="#1fa187"/>
<rect x="398.0" y="197.92" width="5.80" height="52.48" fill="#1f9e89"/>
<rect x="398.0" y="199.38" width="5.80" height="51.02" fill="#1f9a8a"/>
<rect x="398.0" y="200.83" width="5.80" height="49.57" fill="#1f968b"/>
<rect x="398.0" y="202.29" width="5.80" height="48.11" fill="#20928c"/>
<rect x="398.0" y="203.75" width="5.80" height="46.65" fill="#218f8d"/>
<rect x="398.0" y="205.21" width="5.80" height="45.19" fill="#228b8d"/>
<rect x="398.0" y="206.67" width="5.80" height="43.73" fill="#24878e"/>
<rect x="398.0" y="208.12" width="5.80" height="42.28" fill="#25838e"/>
<rect x="398.0" y="209.58" width="5.80" height="40.82" fill="#27808e"/>
<rect x="398.0" y="211.04" width="5.80" height="39.36" fill="#287c8e"/>
<rect x="398.0" y="212.50" width="5.80" height="37.90" fill="#2a788e"/>
<rect x="398.0" y="213.95" width="5.80" height="36.45" fill="#2b748e"/>
<rect x="398.0" y="215.41" width="5.80" height="34.99" fill="#2d718e"/>
<rect x="398.0" y="216.87" width="5.80" height="33.53" fill="#2e6d8e"/>
<rect x="398.0" y="218.33" width="5.80" height="32.07" fill="#30698e"/>
<rect x="398.0" y="219.79" width="5.80" height="30.61" fill="#32658e"/>
<rect x="398.0" y="221.24" width="5.80" height="29.16" fill="#34618d"/>
<rect x="398.0" y="222.70" width="5.80" height="27.70" fill="#365d8d"/>
<rect x="398.0" y="224.16" width="5.80" height="26.24" fill="#38598c"/>
<rect x="398.0" y="225.62" width="5.80" height="24.78" fill="#3a548c"/>
<rect x="398.0" y="227.07" width="5.80" height="23.33" fill="#3c508b"/>
<rect x="398.0" y="228.53" width="5.80" height="21.87" fill="#3e4c8a"/>
<rect x="398.0" y="229.99" width="5.80" height="20.41" fill="#3f4788"/>
<rect x="398.0" y="231.45" width="5.80" height="18.95" fill="#414287"/>
<rect x="398.0" y="232.91" width="5.80" height="17.49" fill="#433e85"/>
<rect x="398.0" y="234.36" width="5.80" height="16.04" fill="#443983"/>
<rect x="398.0" y="235.82" width="5.80" height="14.58" fill="#463480"/>
<rect x="398.0" y="237.28" width="5.80" height="13.12" fill="#472f7d"/>
<rect x="398.0" y="238.74" width="5.80" height="11.66" fill="#472a7a"/>
<rect x="398.0" y="240.20" width="5.80" height="10.20" fill="#482576"/>
<rect x="398.0" y="241.65" width="5.80" height="8.75" fill="#482071"/>
<rect x="398.0" y="243.11" width="5.80" height="7.29" fill="#481b6d"/>
<rect x="398.0" y="244.57" width="5.80" height="5.83" fill="#481668"/>
<rect x="398.0" y="246.03" width="5.80" height="4.37" fill="#471063"/>
<rect x="398.0" y="247.48" width="5.80" height="2.92" fill="#460a5d"/>
<rect x="398.0" y="248.94" width="5.80" height="1.46" fill="#450457"/>
<rect x="398.0" y="157.1" width="5.800000000000011" height="93.3" fill="none" stroke="#444" stroke-width="0.35"/>
<line x1="403.8" x2="405.3" y1="250.26" y2="250.26" stroke="#555" stroke-width="0.35"/>
<text x="406.3" y="252.56" font-size="5.4" text-anchor="start" fill="#000">−5</text>
<line x1="403.8" x2="405.3" y1="233.26" y2="233.26" stroke="#555" stroke-width="0.35"/>
<text x="406.3" y="235.56" font-size="5.4" text-anchor="start" fill="#000">0</text>
<line x1="403.8" x2="405.3" y1="216.26" y2="216.26" stroke="#555" stroke-width="0.35"/>
<text x="406.3" y="218.56" font-size="5.4" text-anchor="start" fill="#000">5</text>
<line x1="403.8" x2="405.3" y1="199.26" y2="199.26" stroke="#555" stroke-width="0.35"/>
<text x="406.3" y="201.56" font-size="5.4" text-anchor="start" fill="#000">10</text>
<line x1="403.8" x2="405.3" y1="182.26" y2="182.26" stroke="#555" stroke-width="0.35"/>
<text x="406.3" y="184.56" font-size="5.4" text-anchor="start" fill="#000">15</text>
<line x1="403.8" x2="405.3" y1="165.26" y2="165.26" stroke="#555" stroke-width="0.35"/>
<text x="406.3" y="167.55" font-size="5.4" text-anchor="start" fill="#000">20</text>
<line x1="317.95" x2="317.95" y1="250.39999999999998" y2="251.89999999999998" stroke="#555" stroke-width="0.35"/>
<text x="317.95" y="257.34" font-size="5.4" text-anchor="middle" fill="#000">4</text>
<line x1="353.85" x2="353.85" y1="250.39999999999998" y2="251.89999999999998" stroke="#555" stroke-width="0.35"/>
<text x="353.85" y="257.34" font-size="5.4" text-anchor="middle" fill="#000">6</text>
<line x1="389.76" x2="389.76" y1="250.39999999999998" y2="251.89999999999998" stroke="#555" stroke-width="0.35"/>
<text x="389.76" y="257.34" font-size="5.4" text-anchor="middle" fill="#000">8</text>
<line x1="296.25" x2="297.75" y1="248.18" y2="248.18" stroke="#555" stroke-width="0.35"/>
<text x="295.55" y="250.82" font-size="5.4" text-anchor="end" fill="#000">49</text>
<line x1="296.25" x2="297.75" y1="230.41" y2="230.41" stroke="#555" stroke-width="0.35"/>
<text x="295.55" y="233.05" font-size="5.4" text-anchor="end" fill="#000">50</text>
<line x1="296.25" x2="297.75" y1="212.64" y2="212.64" stroke="#555" stroke-width="0.35"/>
<text x="295.55" y="215.28" font-size="5.4" text-anchor="end" fill="#000">51</text>
<line x1="296.25" x2="297.75" y1="194.86" y2="194.86" stroke="#555" stroke-width="0.35"/>
<text x="295.55" y="197.51" font-size="5.4" text-anchor="end" fill="#000">52</text>
<line x1="296.25" x2="297.75" y1="177.09" y2="177.09" stroke="#555" stroke-width="0.35"/>
<text x="295.55" y="179.74" font-size="5.4" text-anchor="end" fill="#000">53</text>
<line x1="296.25" x2="297.75" y1="159.32" y2="159.32" stroke="#555" stroke-width="0.35"/>
<text x="295.55" y="161.97" font-size="5.4" text-anchor="end" fill="#000">54</text>
<text x="344.88" y="265.2" font-size="6.2" text-anchor="middle" fill="#000">Longitude</text>
<text x="286.95" y="204.15" font-size="6.2" text-anchor="middle" transform="rotate(-90 286.95 204.15)" fill="#000">Latitude</text>
<text x="344.88" y="155.1" font-size="6.1" text-anchor="middle" font-weight="bold" fill="#000">(c)Ground truth [m/s]</text>
<g>
<rect x="429.40" y="157.10" width="5.50" height="5.44" fill="#453882"/>
<rect x="433.90" y="157.10" width="5.50" height="5.44" fill="#414487"/>
<rect x="438.41" y="157.10" width="5.50" height="5.44" fill="#414287"/>
<rect x="442.91" y="157.10" width="5.50" height="5.44" fill="#443983"/>
<rect x="447.42" y="157.10" width="5.50" height="5.44" fill="#482979"/>
<rect x="451.92" y="157.10" width="5.50" height="5.44" fill="#482374"/>
<rect x="456.43" y="157.10" width="5.50" height="5.44" fill="#482071"/>
<rect x="460.93" y="157.10" width="5.50" height="5.44" fill="#472d7b"/>
<rect x="465.44" y="157.10" width="5.50" height="5.44" fill="#443b84"/>
<rect x="469.94" y="157.10" width="5.50" height="5.44" fill="#375a8c"/>
<rect x="474.45" y="157.10" width="5.50" height="5.44" fill="#29798e"/>
<rect x="478.95" y="157.10" width="5.50" height="5.44" fill="#1f968b"/>
<rect x="483.46" y="157.10" width="5.50" height="5.44" fill="#32b67a"/>
<rect x="487.96" y="157.10" width="5.50" height="5.44" fill="#86d549"/>
<rect x="492.47" y="157.10" width="5.50" height="5.44" fill="#bade28"/>
<rect x="496.97" y="157.10" width="5.50" height="5.44" fill="#e7e419"/>
<rect x="501.48" y="157.10" width="5.50" height="5.44" fill="#fde725"/>
<rect x="505.98" y="157.10" width="5.50" height="5.44" fill="#fbe723"/>
<rect x="510.49" y="157.10" width="5.50" height="5.44" fill="#efe51c"/>
<rect x="514.99" y="157.10" width="5.50" height="5.44" fill="#d0e11c"/>
<rect x="519.50" y="157.10" width="4.50" height="5.44" fill="#9bd93c"/>
<rect x="429.40" y="161.54" width="5.50" height="5.44" fill="#472d7b"/>
<rect x="433.90" y="161.54" width="5.50" height="5.44" fill="#46307e"/>
<rect x="438.41" y="161.54" width="5.50" height="5.44" fill="#482374"/>
<rect x="442.91" y="161.54" width="5.50" height="5.44" fill="#481f70"/>
<rect x="447.42" y="161.54" width="5.50" height="5.44" fill="#482576"/>
<rect x="451.92" y="161.54" width="5.50" height="5.44" fill="#472a7a"/>
<rect x="456.43" y="161.54" width="5.50" height="5.44" fill="#482979"/>
<rect x="460.93" y="161.54" width="5.50" height="5.44" fill="#482475"/>
<rect x="465.44" y="161.54" width="5.50" height="5.44" fill="#482878"/>
<rect x="469.94" y="161.54" width="5.50" height="5.44" fill="#433d84"/>
<rect x="474.45" y="161.54" width="5.50" height="5.44" fill="#34608d"/>
<rect x="478.95" y="161.54" width="5.50" height="5.44" fill="#27808e"/>
<rect x="483.46" y="161.54" width="5.50" height="5.44" fill="#20a486"/>
<rect x="487.96" y="161.54" width="5.50" height="5.44" fill="#4cc26c"/>
<rect x="492.47" y="161.54" width="5.50" height="5.44" fill="#77d153"/>
<rect x="496.97" y="161.54" width="5.50" height="5.44" fill="#a2da37"/>
<rect x="501.48" y="161.54" width="5.50" height="5.44" fill="#c0df25"/>
<rect x="505.98" y="161.54" width="5.50" height="5.44" fill="#c8e020"/>
<rect x="510.49" y="161.54" width="5.50" height="5.44" fill="#b0dd2f"/>
<rect x="514.99" y="161.54" width="5.50" height="5.44" fill="#77d153"/>
<rect x="519.50" y="161.54" width="4.50" height="5.44" fill="#44bf70"/>
<rect x="429.40" y="165.99" width="5.50" height="5.44" fill="#463480"/>
<rect x="433.90" y="165.99" width="5.50" height="5.44" fill="#46327e"/>
<rect x="438.41" y="165.99" width="5.50" height="5.44" fill="#472d7b"/>
<rect x="442.91" y="165.99" width="5.50" height="5.44" fill="#453882"/>
<rect x="447.42" y="165.99" width="5.50" height="5.44" fill="#404588"/>
<rect x="451.92" y="165.99" width="5.50" height="5.44" fill="#3e4989"/>
<rect x="456.43" y="165.99" width="5.50" height="5.44" fill="#3f4889"/>
<rect x="460.93" y="165.99" width="5.50" height="5.44" fill="#433e85"/>
<rect x="465.44" y="165.99" width="5.50" height="5.44" fill="#482878"/>
<rect x="469.94" y="165.99" width="5.50" height="5.44" fill="#482475"/>
<rect x="474.45" y="165.99" width="5.50" height="5.44" fill="#424186"/>
<rect x="478.95" y="165.99" width="5.50" height="5.44" fill="#31668e"/>
<rect x="483.46" y="165.99" width="5.50" height="5.44" fill="#26828e"/>
<rect x="487.96" y="165.99" width="5.50" height="5.44" fill="#1f988b"/>
<rect x="492.47" y="165.99" width="5.50" height="5.44" fill="#21a585"/>
<rect x="496.97" y="165.99" width="5.50" height="5.44" fill="#2ab07f"/>
<rect x="501.48" y="165.99" width="5.50" height="5.44" fill="#3dbc74"/>
<rect x="505.98" y="165.99" width="5.50" height="5.44" fill="#42be71"/>
<rect x="510.49" y="165.99" width="5.50" height="5.44" fill="#34b679"/>
<rect x="514.99" y="165.99" width="5.50" height="5.44" fill="#1fa287"/>
<rect x="519.50" y="165.99" width="4.50" height="5.44" fill="#21918c"/>
<rect x="429.40" y="170.43" width="10.01" height="5.44" fill="#482374"/>
<rect x="438.41" y="170.43" width="5.50" height="5.44" fill="#443983"/>
<rect x="442.91" y="170.43" width="5.50" height="5.44" fill="#3d4d8a"/>
<rect x="447.42" y="170.43" width="5.50" height="5.44" fill="#38598c"/>
<rect x="451.92" y="170.43" width="5.50" height="5.44" fill="#355f8d"/>
<rect x="456.43" y="170.43" width="5.50" height="5.44" fill="#355e8d"/>
<rect x="460.93" y="170.43" width="5.50" height="5.44" fill="#3a538b"/>
<rect x="465.44" y="170.43" width="5.50" height="5.44" fill="#433d84"/>
<rect x="469.94" y="170.43" width="5.50" height="5.44" fill="#482475"/>
<rect x="474.45" y="170.43" width="5.50" height="5.44" fill="#472a7a"/>
<rect x="478.95" y="170.43" width="5.50" height="5.44" fill="#414487"/>
<rect x="483.46" y="170.43" width="5.50" height="5.44" fill="#355e8d"/>
<rect x="487.96" y="170.43" width="5.50" height="5.44" fill="#2e6e8e"/>
<rect x="492.47" y="170.43" width="5.50" height="5.44" fill="#2b758e"/>
<rect x="496.97" y="170.43" width="5.50" height="5.44" fill="#277f8e"/>
<rect x="501.48" y="170.43" width="5.50" height="5.44" fill="#25848e"/>
<rect x="505.98" y="170.43" width="5.50" height="5.44" fill="#26828e"/>
<rect x="510.49" y="170.43" width="5.50" height="5.44" fill="#297b8e"/>
<rect x="514.99" y="170.43" width="5.50" height="5.44" fill="#2d718e"/>
<rect x="519.50" y="170.43" width="4.50" height="5.44" fill="#31678e"/>
<rect x="429.40" y="174.87" width="5.50" height="5.44" fill="#482576"/>
<rect x="433.90" y="174.87" width="5.50" height="5.44" fill="#46327e"/>
<rect x="438.41" y="174.87" width="5.50" height="5.44" fill="#3d4e8a"/>
<rect x="442.91" y="174.87" width="5.50" height="5.44" fill="#34618d"/>
<rect x="447.42" y="174.87" width="5.50" height="5.44" fill="#31688e"/>
<rect x="451.92" y="174.87" width="5.50" height="5.44" fill="#2f6c8e"/>
<rect x="456.43" y="174.87" width="5.50" height="5.44" fill="#30698e"/>
<rect x="460.93" y="174.87" width="5.50" height="5.44" fill="#375b8d"/>
<rect x="465.44" y="174.87" width="5.50" height="5.44" fill="#414287"/>
<rect x="469.94" y="174.87" width="5.50" height="5.44" fill="#482979"/>
<rect x="474.45" y="174.87" width="5.50" height="5.44" fill="#482173"/>
<rect x="478.95" y="174.87" width="5.50" height="5.44" fill="#482878"/>
<rect x="483.46" y="174.87" width="5.50" height="5.44" fill="#453882"/>
<rect x="487.96" y="174.87" width="5.50" height="5.44" fill="#3f4788"/>
<rect x="492.47" y="174.87" width="5.50" height="5.44" fill="#3a538b"/>
<rect x="496.97" y="174.87" width="5.50" height="5.44" fill="#38588c"/>
<rect x="501.48" y="174.87" width="5.50" height="5.44" fill="#375a8c"/>
<rect x="505.98" y="174.87" width="18.02" height="5.44" fill="#38588c"/>
<rect x="429.40" y="179.31" width="5.50" height="5.44" fill="#46307e"/>
<rect x="433.90" y="179.31" width="5.50" height="5.44" fill="#3e4989"/>
<rect x="438.41" y="179.31" width="5.50" height="5.44" fill="#32648e"/>
<rect x="442.91" y="179.31" width="5.50" height="5.44" fill="#2b758e"/>
<rect x="447.42" y="179.31" width="5.50" height="5.44" fill="#287d8e"/>
<rect x="451.92" y="179.31" width="5.50" height="5.44" fill="#287c8e"/>
<rect x="456.43" y="179.31" width="5.50" height="5.44" fill="#2b748e"/>
<rect x="460.93" y="179.31" width="5.50" height="5.44" fill="#34618d"/>
<rect x="465.44" y="179.31" width="5.50" height="5.44" fill="#414287"/>
<rect x="469.94" y="179.31" width="5.50" height="5.44" fill="#482979"/>
<rect x="474.45" y="179.31" width="5.50" height="5.44" fill="#481d6f"/>
<rect x="478.95" y="179.31" width="5.50" height="5.44" fill="#471164"/>
<rect x="483.46" y="179.31" width="5.50" height="5.44" fill="#460b5e"/>
<rect x="487.96" y="179.31" width="5.50" height="5.44" fill="#471063"/>
<rect x="492.47" y="179.31" width="5.50" height="5.44" fill="#482374"/>
<rect x="496.97" y="179.31" width="10.01" height="5.44" fill="#463480"/>
<rect x="505.98" y="179.31" width="5.50" height="5.44" fill="#453882"/>
<rect x="510.49" y="179.31" width="5.50" height="5.44" fill="#3f4788"/>
<rect x="514.99" y="179.31" width="5.50" height="5.44" fill="#3a538b"/>
<rect x="519.50" y="179.31" width="4.50" height="5.44" fill="#38588c"/>
<rect x="429.40" y="183.76" width="5.50" height="5.44" fill="#433d84"/>
<rect x="433.90" y="183.76" width="5.50" height="5.44" fill="#355e8d"/>
<rect x="438.41" y="183.76" width="5.50" height="5.44" fill="#2a778e"/>
<rect x="442.91" y="183.76" width="5.50" height="5.44" fill="#25858e"/>
<rect x="447.42" y="183.76" width="5.50" height="5.44" fill="#23888e"/>
<rect x="451.92" y="183.76" width="5.50" height="5.44" fill="#26828e"/>
<rect x="456.43" y="183.76" width="5.50" height="5.44" fill="#2b748e"/>
<rect x="460.93" y="183.76" width="5.50" height="5.44" fill="#34618d"/>
<rect x="465.44" y="183.76" width="5.50" height="5.44" fill="#414287"/>
<rect x="469.94" y="183.76" width="5.50" height="5.44" fill="#482979"/>
<rect x="474.45" y="183.76" width="5.50" height="5.44" fill="#482173"/>
<rect x="478.95" y="183.76" width="5.50" height="5.44" fill="#482475"/>
<rect x="483.46" y="183.76" width="5.50" height="5.44" fill="#482576"/>
<rect x="487.96" y="183.76" width="5.50" height="5.44" fill="#472d7b"/>
<rect x="492.47" y="183.76" width="5.50" height="5.44" fill="#472f7d"/>
<rect x="496.97" y="183.76" width="5.50" height="5.44" fill="#481b6d"/>
<rect x="501.48" y="183.76" width="5.50" height="5.44" fill="#481769"/>
<rect x="505.98" y="183.76" width="5.50" height="5.44" fill="#472c7a"/>
<rect x="510.49" y="183.76" width="5.50" height="5.44" fill="#3f4889"/>
<rect x="514.99" y="183.76" width="5.50" height="5.44" fill="#38598c"/>
<rect x="519.50" y="183.76" width="4.50" height="5.44" fill="#355f8d"/>
<rect x="429.40" y="188.20" width="5.50" height="5.44" fill="#3e4989"/>
<rect x="433.90" y="188.20" width="5.50" height="5.44" fill="#32648e"/>
<rect x="438.41" y="188.20" width="5.50" height="5.44" fill="#2a768e"/>
<rect x="442.91" y="188.20" width="5.50" height="5.44" fill="#26818e"/>
<rect x="447.42" y="188.20" width="5.50" height="5.44" fill="#25838e"/>
<rect x="451.92" y="188.20" width="5.50" height="5.44" fill="#287d8e"/>
<rect x="456.43" y="188.20" width="5.50" height="5.44" fill="#2e6f8e"/>
<rect x="460.93" y="188.20" width="5.50" height="5.44" fill="#375a8c"/>
<rect x="465.44" y="188.20" width="5.50" height="5.44" fill="#433d84"/>
<rect x="469.94" y="188.20" width="5.50" height="5.44" fill="#482173"/>
<rect x="474.45" y="188.20" width="5.50" height="5.44" fill="#481b6d"/>
<rect x="478.95" y="188.20" width="5.50" height="5.44" fill="#482576"/>
<rect x="483.46" y="188.20" width="5.50" height="5.44" fill="#472f7d"/>
<rect x="487.96" y="188.20" width="5.50" height="5.44" fill="#423f85"/>
<rect x="492.47" y="188.20" width="5.50" height="5.44" fill="#414287"/>
<rect x="496.97" y="188.20" width="5.50" height="5.44" fill="#453882"/>
<rect x="501.48" y="188.20" width="5.50" height="5.44" fill="#482475"/>
<rect x="505.98" y="188.20" width="5.50" height="5.44" fill="#472c7a"/>
<rect x="510.49" y="188.20" width="5.50" height="5.44" fill="#3f4889"/>
<rect x="514.99" y="188.20" width="5.50" height="5.44" fill="#38598c"/>
<rect x="519.50" y="188.20" width="4.50" height="5.44" fill="#355f8d"/>
<rect x="429.40" y="192.64" width="5.50" height="5.44" fill="#3d4e8a"/>
<rect x="433.90" y="192.64" width="5.50" height="5.44" fill="#33638d"/>
<rect x="438.41" y="192.64" width="5.50" height="5.44" fill="#2c738e"/>
<rect x="442.91" y="192.64" width="10.01" height="5.44" fill="#277e8e"/>
<rect x="451.92" y="192.64" width="5.50" height="5.44" fill="#2b758e"/>
<rect x="456.43" y="192.64" width="5.50" height="5.44" fill="#31688e"/>
<rect x="460.93" y="192.64" width="5.50" height="5.44" fill="#3a548c"/>
<rect x="465.44" y="192.64" width="5.50" height="5.44" fill="#453882"/>
<rect x="469.94" y="192.64" width="5.50" height="5.44" fill="#482071"/>
<rect x="474.45" y="192.64" width="5.50" height="5.44" fill="#481668"/>
<rect x="478.95" y="192.64" width="5.50" height="5.44" fill="#482071"/>
<rect x="483.46" y="192.64" width="5.50" height="5.44" fill="#472f7d"/>
<rect x="487.96" y="192.64" width="5.50" height="5.44" fill="#423f85"/>
<rect x="492.47" y="192.64" width="5.50" height="5.44" fill="#414287"/>
<rect x="496.97" y="192.64" width="5.50" height="5.44" fill="#453781"/>
<rect x="501.48" y="192.64" width="5.50" height="5.44" fill="#481d6f"/>
<rect x="505.98" y="192.64" width="5.50" height="5.44" fill="#482374"/>
<rect x="510.49" y="192.64" width="5.50" height="5.44" fill="#443b84"/>
<rect x="514.99" y="192.64" width="5.50" height="5.44" fill="#3a548c"/>
<rect x="519.50" y="192.64" width="4.50" height="5.44" fill="#355f8d"/>
<rect x="429.40" y="197.09" width="5.50" height="5.44" fill="#3d4d8a"/>
<rect x="433.90" y="197.09" width="5.50" height="5.44" fill="#365d8d"/>
<rect x="438.41" y="197.09" width="5.50" height="5.44" fill="#30698e"/>
<rect x="442.91" y="197.09" width="5.50" height="5.44" fill="#2d718e"/>
<rect x="447.42" y="197.09" width="5.50" height="5.44" fill="#2d708e"/>
<rect x="451.92" y="197.09" width="5.50" height="5.44" fill="#306a8e"/>
<rect x="456.43" y="197.09" width="5.50" height="5.44" fill="#34608d"/>
<rect x="460.93" y="197.09" width="5.50" height="5.44" fill="#3e4c8a"/>
<rect x="465.44" y="197.09" width="5.50" height="5.44" fill="#472f7d"/>
<rect x="469.94" y="197.09" width="5.50" height="5.44" fill="#481b6d"/>
<rect x="474.45" y="197.09" width="5.50" height="5.44" fill="#481668"/>
<rect x="478.95" y="197.09" width="5.50" height="5.44" fill="#481f70"/>
<rect x="483.46" y="197.09" width="5.50" height="5.44" fill="#482576"/>
<rect x="487.96" y="197.09" width="5.50" height="5.44" fill="#472d7b"/>
<rect x="492.47" y="197.09" width="5.50" height="5.44" fill="#463480"/>
<rect x="496.97" y="197.09" width="5.50" height="5.44" fill="#472f7d"/>
<rect x="501.48" y="197.09" width="5.50" height="5.44" fill="#481d6f"/>
<rect x="505.98" y="197.09" width="5.50" height="5.44" fill="#482071"/>
<rect x="510.49" y="197.09" width="5.50" height="5.44" fill="#46327e"/>
<rect x="514.99" y="197.09" width="5.50" height="5.44" fill="#3d4d8a"/>
<rect x="519.50" y="197.09" width="4.50" height="5.44" fill="#375a8c"/>
<rect x="429.40" y="201.53" width="5.50" height="5.44" fill="#3f4788"/>
<rect x="433.90" y="201.53" width="5.50" height="5.44" fill="#3a538b"/>
<rect x="438.41" y="201.53" width="5.50" height="5.44" fill="#375b8d"/>
<rect x="442.91" y="201.53" width="10.01" height="5.44" fill="#355f8d"/>
<rect x="451.92" y="201.53" width="5.50" height="5.44" fill="#355e8d"/>
<rect x="456.43" y="201.53" width="5.50" height="5.44" fill="#3b528b"/>
<rect x="460.93" y="201.53" width="5.50" height="5.44" fill="#453882"/>
<rect x="465.44" y="201.53" width="5.50" height="5.44" fill="#482071"/>
<rect x="469.94" y="201.53" width="5.50" height="5.44" fill="#481668"/>
<rect x="474.45" y="201.53" width="5.50" height="5.44" fill="#481f70"/>
<rect x="478.95" y="201.53" width="5.50" height="5.44" fill="#482475"/>
<rect x="483.46" y="201.53" width="5.50" height="5.44" fill="#482071"/>
<rect x="487.96" y="201.53" width="5.50" height="5.44" fill="#471365"/>
<rect x="492.47" y="201.53" width="5.50" height="5.44" fill="#481769"/>
<rect x="496.97" y="201.53" width="10.01" height="5.44" fill="#482475"/>
<rect x="505.98" y="201.53" width="5.50" height="5.44" fill="#482576"/>
<rect x="510.49" y="201.53" width="5.50" height="5.44" fill="#46307e"/>
<rect x="514.99" y="201.53" width="5.50" height="5.44" fill="#3f4889"/>
<rect x="519.50" y="201.53" width="4.50" height="5.44" fill="#38588c"/>
<rect x="429.40" y="205.97" width="5.50" height="5.44" fill="#424086"/>
<rect x="433.90" y="205.97" width="5.50" height="5.44" fill="#3e4c8a"/>
<rect x="438.41" y="205.97" width="5.50" height="5.44" fill="#3a538b"/>
<rect x="442.91" y="205.97" width="5.50" height="5.44" fill="#38588c"/>
<rect x="447.42" y="205.97" width="5.50" height="5.44" fill="#39558c"/>
<rect x="451.92" y="205.97" width="5.50" height="5.44" fill="#3c4f8a"/>
<rect x="456.43" y="205.97" width="5.50" height="5.44" fill="#433e85"/>
<rect x="460.93" y="205.97" width="5.50" height="5.44" fill="#482878"/>
<rect x="465.44" y="205.97" width="5.50" height="5.44" fill="#481d6f"/>
<rect x="469.94" y="205.97" width="5.50" height="5.44" fill="#481f70"/>
<rect x="474.45" y="205.97" width="5.50" height="5.44" fill="#482475"/>
<rect x="478.95" y="205.97" width="5.50" height="5.44" fill="#482374"/>
<rect x="483.46" y="205.97" width="14.51" height="5.44" fill="#481d6f"/>
<rect x="496.97" y="205.97" width="5.50" height="5.44" fill="#481b6d"/>
<rect x="501.48" y="205.97" width="5.50" height="5.44" fill="#481668"/>
<rect x="505.98" y="205.97" width="5.50" height="5.44" fill="#482071"/>
<rect x="510.49" y="205.97" width="5.50" height="5.44" fill="#46307e"/>
<rect x="514.99" y="205.97" width="5.50" height="5.44" fill="#3e4989"/>
<rect x="519.50" y="205.97" width="4.50" height="5.44" fill="#355f8d"/>
<rect x="429.40" y="210.41" width="5.50" height="5.44" fill="#424086"/>
<rect x="433.90" y="210.41" width="5.50" height="5.44" fill="#3e4c8a"/>
<rect x="438.41" y="210.41" width="10.01" height="5.44" fill="#3b528b"/>
<rect x="447.42" y="210.41" width="5.50" height="5.44" fill="#3c508b"/>
<rect x="451.92" y="210.41" width="5.50" height="5.44" fill="#404588"/>
<rect x="456.43" y="210.41" width="5.50" height="5.44" fill="#46307e"/>
<rect x="460.93" y="210.41" width="5.50" height="5.44" fill="#482475"/>
<rect x="465.44" y="210.41" width="5.50" height="5.44" fill="#482576"/>
<rect x="469.94" y="210.41" width="5.50" height="5.44" fill="#472d7b"/>
<rect x="474.45" y="210.41" width="32.53" height="5.44" fill="#463480"/>
<rect x="505.98" y="210.41" width="5.50" height="5.44" fill="#453882"/>
<rect x="510.49" y="210.41" width="5.50" height="5.44" fill="#3f4889"/>
<rect x="514.99" y="210.41" width="5.50" height="5.44" fill="#365c8d"/>
<rect x="519.50" y="210.41" width="4.50" height="5.44" fill="#2f6c8e"/>
<rect x="429.40" y="214.86" width="5.50" height="5.44" fill="#424086"/>
<rect x="433.90" y="214.86" width="10.01" height="5.44" fill="#3e4989"/>
<rect x="442.91" y="214.86" width="5.50" height="5.44" fill="#3f4889"/>
<rect x="447.42" y="214.86" width="5.50" height="5.44" fill="#414287"/>
<rect x="451.92" y="214.86" width="5.50" height="5.44" fill="#443983"/>
<rect x="456.43" y="214.86" width="5.50" height="5.44" fill="#472a7a"/>
<rect x="460.93" y="214.86" width="5.50" height="5.44" fill="#472d7b"/>
<rect x="465.44" y="214.86" width="5.50" height="5.44" fill="#453882"/>
<rect x="469.94" y="214.86" width="5.50" height="5.44" fill="#3f4788"/>
<rect x="474.45" y="214.86" width="5.50" height="5.44" fill="#39568c"/>
<rect x="478.95" y="214.86" width="5.50" height="5.44" fill="#355f8d"/>
<rect x="483.46" y="214.86" width="5.50" height="5.44" fill="#355e8d"/>
<rect x="487.96" y="214.86" width="19.02" height="5.44" fill="#375a8c"/>
<rect x="505.98" y="214.86" width="5.50" height="5.44" fill="#375b8d"/>
<rect x="510.49" y="214.86" width="5.50" height="5.44" fill="#33628d"/>
<rect x="514.99" y="214.86" width="5.50" height="5.44" fill="#2d708e"/>
<rect x="519.50" y="214.86" width="4.50" height="5.44" fill="#287d8e"/>
<rect x="429.40" y="219.30" width="5.50" height="5.44" fill="#453882"/>
<rect x="433.90" y="219.30" width="5.50" height="5.44" fill="#404588"/>
<rect x="438.41" y="219.30" width="5.50" height="5.44" fill="#3e4989"/>
<rect x="442.91" y="219.30" width="5.50" height="5.44" fill="#3f4889"/>
<rect x="447.42" y="219.30" width="5.50" height="5.44" fill="#424086"/>
<rect x="451.92" y="219.30" width="5.50" height="5.44" fill="#46307e"/>
<rect x="456.43" y="219.30" width="5.50" height="5.44" fill="#482878"/>
<rect x="460.93" y="219.30" width="5.50" height="5.44" fill="#453882"/>
<rect x="465.44" y="219.30" width="5.50" height="5.44" fill="#404588"/>
<rect x="469.94" y="219.30" width="19.02" height="5.44" fill="#3e4989"/>
<rect x="487.96" y="219.30" width="5.50" height="5.44" fill="#3e4c8a"/>
<rect x="492.47" y="219.30" width="5.50" height="5.44" fill="#3a538b"/>
<rect x="496.97" y="219.30" width="5.50" height="5.44" fill="#38588c"/>
<rect x="501.48" y="219.30" width="5.50" height="5.44" fill="#375b8d"/>
<rect x="505.98" y="219.30" width="5.50" height="5.44" fill="#33628d"/>
<rect x="510.49" y="219.30" width="5.50" height="5.44" fill="#2d708e"/>
<rect x="514.99" y="219.30" width="5.50" height="5.44" fill="#27808e"/>
<rect x="519.50" y="219.30" width="4.50" height="5.44" fill="#228b8d"/>
<rect x="429.40" y="223.74" width="5.50" height="5.44" fill="#46307e"/>
<rect x="433.90" y="223.74" width="5.50" height="5.44" fill="#404588"/>
<rect x="438.41" y="223.74" width="5.50" height="5.44" fill="#3e4c8a"/>
<rect x="442.91" y="223.74" width="5.50" height="5.44" fill="#3c508b"/>
<rect x="447.42" y="223.74" width="5.50" height="5.44" fill="#3f4788"/>
<rect x="451.92" y="223.74" width="5.50" height="5.44" fill="#453882"/>
<rect x="456.43" y="223.74" width="5.50" height="5.44" fill="#482071"/>
<rect x="460.93" y="223.74" width="10.01" height="5.44" fill="#471365"/>
<rect x="469.94" y="223.74" width="5.50" height="5.44" fill="#481668"/>
<rect x="474.45" y="223.74" width="5.50" height="5.44" fill="#481b6d"/>
<rect x="478.95" y="223.74" width="5.50" height="5.44" fill="#481668"/>
<rect x="483.46" y="223.74" width="5.50" height="5.44" fill="#482374"/>
<rect x="487.96" y="223.74" width="5.50" height="5.44" fill="#443983"/>
<rect x="492.47" y="223.74" width="5.50" height="5.44" fill="#3e4c8a"/>
<rect x="496.97" y="223.74" width="5.50" height="5.44" fill="#3a538b"/>
<rect x="501.48" y="223.74" width="5.50" height="5.44" fill="#375b8d"/>
<rect x="505.98" y="223.74" width="5.50" height="5.44" fill="#32648e"/>
<rect x="510.49" y="223.74" width="5.50" height="5.44" fill="#2a778e"/>
<rect x="514.99" y="223.74" width="5.50" height="5.44" fill="#23888e"/>
<rect x="519.50" y="223.74" width="4.50" height="5.44" fill="#1f958b"/>
<rect x="429.40" y="228.19" width="5.50" height="5.44" fill="#482878"/>
<rect x="433.90" y="228.19" width="5.50" height="5.44" fill="#453882"/>
<rect x="438.41" y="228.19" width="5.50" height="5.44" fill="#404588"/>
<rect x="442.91" y="228.19" width="5.50" height="5.44" fill="#3f4889"/>
<rect x="447.42" y="228.19" width="5.50" height="5.44" fill="#414487"/>
<rect x="451.92" y="228.19" width="5.50" height="5.44" fill="#424086"/>
<rect x="456.43" y="228.19" width="5.50" height="5.44" fill="#46307e"/>
<rect x="460.93" y="228.19" width="5.50" height="5.44" fill="#482374"/>
<rect x="465.44" y="228.19" width="5.50" height="5.44" fill="#481d6f"/>
<rect x="469.94" y="228.19" width="5.50" height="5.44" fill="#481f70"/>
<rect x="474.45" y="228.19" width="5.50" height="5.44" fill="#482173"/>
<rect x="478.95" y="228.19" width="5.50" height="5.44" fill="#482475"/>
<rect x="483.46" y="228.19" width="5.50" height="5.44" fill="#482071"/>
<rect x="487.96" y="228.19" width="5.50" height="5.44" fill="#48186a"/>
<rect x="492.47" y="228.19" width="5.50" height="5.44" fill="#46327e"/>
<rect x="496.97" y="228.19" width="5.50" height="5.44" fill="#3d4d8a"/>
<rect x="501.48" y="228.19" width="5.50" height="5.44" fill="#38598c"/>
<rect x="505.98" y="228.19" width="5.50" height="5.44" fill="#32648e"/>
<rect x="510.49" y="228.19" width="5.50" height="5.44" fill="#2a778e"/>
<rect x="514.99" y="228.19" width="5.50" height="5.44" fill="#23898e"/>
<rect x="519.50" y="228.19" width="4.50" height="5.44" fill="#1e9c89"/>
<rect x="429.40" y="232.63" width="5.50" height="5.44" fill="#482576"/>
<rect x="433.90" y="232.63" width="5.50" height="5.44" fill="#472f7d"/>
<rect x="438.41" y="232.63" width="5.50" height="5.44" fill="#423f85"/>
<rect x="442.91" y="232.63" width="5.50" height="5.44" fill="#404588"/>
<rect x="447.42" y="232.63" width="5.50" height="5.44" fill="#3e4c8a"/>
<rect x="451.92" y="232.63" width="5.50" height="5.44" fill="#3b528b"/>
<rect x="456.43" y="232.63" width="5.50" height="5.44" fill="#3c4f8a"/>
<rect x="460.93" y="232.63" width="5.50" height="5.44" fill="#414287"/>
<rect x="465.44" y="232.63" width="5.50" height="5.44" fill="#423f85"/>
<rect x="469.94" y="232.63" width="10.01" height="5.44" fill="#414487"/>
<rect x="478.95" y="232.63" width="5.50" height="5.44" fill="#414287"/>
<rect x="483.46" y="232.63" width="5.50" height="5.44" fill="#443983"/>
<rect x="487.96" y="232.63" width="5.50" height="5.44" fill="#482576"/>
<rect x="492.47" y="232.63" width="5.50" height="5.44" fill="#481d6f"/>
<rect x="496.97" y="232.63" width="5.50" height="5.44" fill="#414287"/>
<rect x="501.48" y="232.63" width="5.50" height="5.44" fill="#3a548c"/>
<rect x="505.98" y="232.63" width="5.50" height="5.44" fill="#33638d"/>
<rect x="510.49" y="232.63" width="5.50" height="5.44" fill="#2b748e"/>
<rect x="514.99" y="232.63" width="5.50" height="5.44" fill="#25838e"/>
<rect x="519.50" y="232.63" width="4.50" height="5.44" fill="#21918c"/>
<rect x="429.40" y="237.07" width="5.50" height="5.44" fill="#482475"/>
<rect x="433.90" y="237.07" width="5.50" height="5.44" fill="#482878"/>
<rect x="438.41" y="237.07" width="5.50" height="5.44" fill="#453781"/>
<rect x="442.91" y="237.07" width="5.50" height="5.44" fill="#424086"/>
<rect x="447.42" y="237.07" width="5.50" height="5.44" fill="#3e4c8a"/>
<rect x="451.92" y="237.07" width="5.50" height="5.44" fill="#3a538b"/>
<rect x="456.43" y="237.07" width="5.50" height="5.44" fill="#39558c"/>
<rect x="460.93" y="237.07" width="5.50" height="5.44" fill="#3b528b"/>
<rect x="465.44" y="237.07" width="5.50" height="5.44" fill="#3a538b"/>
<rect x="469.94" y="237.07" width="10.01" height="5.44" fill="#38588c"/>
<rect x="478.95" y="237.07" width="5.50" height="5.44" fill="#39558c"/>
<rect x="483.46" y="237.07" width="5.50" height="5.44" fill="#3d4e8a"/>
<rect x="487.96" y="237.07" width="5.50" height="5.44" fill="#463480"/>
<rect x="492.47" y="237.07" width="5.50" height="5.44" fill="#481d6f"/>
<rect x="496.97" y="237.07" width="5.50" height="5.44" fill="#414287"/>
<rect x="501.48" y="237.07" width="5.50" height="5.44" fill="#3a538b"/>
<rect x="505.98" y="237.07" width="5.50" height="5.44" fill="#365d8d"/>
<rect x="510.49" y="237.07" width="5.50" height="5.44" fill="#306a8e"/>
<rect x="514.99" y="237.07" width="5.50" height="5.44" fill="#2b758e"/>
<rect x="519.50" y="237.07" width="4.50" height="5.44" fill="#287d8e"/>
<rect x="429.40" y="241.51" width="5.50" height="5.44" fill="#482071"/>
<rect x="433.90" y="241.51" width="5.50" height="5.44" fill="#481668"/>
<rect x="438.41" y="241.51" width="5.50" height="5.44" fill="#481f70"/>
<rect x="442.91" y="241.51" width="5.50" height="5.44" fill="#482576"/>
<rect x="447.42" y="241.51" width="5.50" height="5.44" fill="#472d7b"/>
<rect x="451.92" y="241.51" width="5.50" height="5.44" fill="#443983"/>
<rect x="456.43" y="241.51" width="5.50" height="5.44" fill="#3e4c8a"/>
<rect x="460.93" y="241.51" width="19.02" height="5.44" fill="#3b528b"/>
<rect x="478.95" y="241.51" width="5.50" height="5.44" fill="#3c508b"/>
<rect x="483.46" y="241.51" width="5.50" height="5.44" fill="#3f4788"/>
<rect x="487.96" y="241.51" width="5.50" height="5.44" fill="#463480"/>
<rect x="492.47" y="241.51" width="5.50" height="5.44" fill="#481d6f"/>
<rect x="496.97" y="241.51" width="5.50" height="5.44" fill="#424086"/>
<rect x="501.48" y="241.51" width="5.50" height="5.44" fill="#3d4d8a"/>
<rect x="505.98" y="241.51" width="5.50" height="5.44" fill="#38598c"/>
<rect x="510.49" y="241.51" width="5.50" height="5.44" fill="#34618d"/>
<rect x="514.99" y="241.51" width="5.50" height="5.44" fill="#31688e"/>
<rect x="519.50" y="241.51" width="4.50" height="5.44" fill="#2f6c8e"/>
<rect x="429.40" y="245.96" width="5.50" height="4.44" fill="#46307e"/>
<rect x="433.90" y="245.96" width="5.50" height="4.44" fill="#482475"/>
<rect x="438.41" y="245.96" width="5.50" height="4.44" fill="#482576"/>
<rect x="442.91" y="245.96" width="5.50" height="4.44" fill="#472d7b"/>
<rect x="447.42" y="245.96" width="5.50" height="4.44" fill="#463480"/>
<rect x="451.92" y="245.96" width="5.50" height="4.44" fill="#453781"/>
<rect x="456.43" y="245.96" width="5.50" height="4.44" fill="#423f85"/>
<rect x="460.93" y="245.96" width="5.50" height="4.44" fill="#404588"/>
<rect x="465.44" y="245.96" width="5.50" height="4.44" fill="#3e4989"/>
<rect x="469.94" y="245.96" width="5.50" height="4.44" fill="#3f4889"/>
<rect x="474.45" y="245.96" width="10.01" height="4.44" fill="#414487"/>
<rect x="483.46" y="245.96" width="5.50" height="4.44" fill="#424086"/>
<rect x="487.96" y="245.96" width="5.50" height="4.44" fill="#472f7d"/>
<rect x="492.47" y="245.96" width="5.50" height="4.44" fill="#482374"/>
<rect x="496.97" y="245.96" width="5.50" height="4.44" fill="#453882"/>
<rect x="501.48" y="245.96" width="5.50" height="4.44" fill="#404588"/>
<rect x="505.98" y="245.96" width="5.50" height="4.44" fill="#3e4c8a"/>
<rect x="510.49" y="245.96" width="5.50" height="4.44" fill="#3a538b"/>
<rect x="514.99" y="245.96" width="5.50" height="4.44" fill="#38588c"/>
<rect x="519.50" y="245.96" width="4.50" height="4.44" fill="#375a8c"/>
</g>
<rect x="429.4" y="157.1" width="94.6" height="93.3" fill="none" stroke="#444" stroke-width="0.35"/>
<rect x="530.0" y="157.10" width="5.80" height="93.30" fill="#fbe723"/>
<rect x="530.0" y="158.56" width="5.80" height="91.84" fill="#f1e51d"/>
<rect x="530.0" y="160.02" width="5.80" height="90.38" fill="#e7e419"/>
<rect x="530.0" y="161.47" width="5.80" height="88.93" fill="#dde318"/>
<rect x="530.0" y="162.93" width="5.80" height="87.47" fill="#d2e21b"/>
<rect x="530.0" y="164.39" width="5.80" height="86.01" fill="#c8e020"/>
<rect x="530.0" y="165.85" width="5.80" height="84.55" fill="#bddf26"/>
<rect x="530.0" y="167.30" width="5.80" height="83.10" fill="#b2dd2d"/>
<rect x="530.0" y="168.76" width="5.80" height="81.64" fill="#a8db34"/>
<rect x="530.0" y="170.22" width="5.80" height="80.18" fill="#9dd93b"/>
<rect x="530.0" y="171.68" width="5.80" height="78.72" fill="#93d741"/>
<rect x="530.0" y="173.14" width="5.80" height="77.26" fill="#89d548"/>
<rect x="530.0" y="174.59" width="5.80" height="75.81" fill="#7fd34e"/>
<rect x="530.0" y="176.05" width="5.80" height="74.35" fill="#75d054"/>
<rect x="530.0" y="177.51" width="5.80" height="72.89" fill="#6ccd5a"/>
<rect x="530.0" y="178.97" width="5.80" height="71.43" fill="#63cb5f"/>
<rect x="530.0" y="180.42" width="5.80" height="69.97" fill="#5ac864"/>
<rect x="530.0" y="181.88" width="5.80" height="68.52" fill="#52c569"/>
<rect x="530.0" y="183.34" width="5.80" height="67.06" fill="#4ac16d"/>
<rect x="530.0" y="184.80" width="5.80" height="65.60" fill="#42be71"/>
<rect x="530.0" y="186.26" width="5.80" height="64.14" fill="#3bbb75"/>
<rect x="530.0" y="187.71" width="5.80" height="62.69" fill="#35b779"/>
<rect x="530.0" y="189.17" width="5.80" height="61.23" fill="#2fb47c"/>
<rect x="530.0" y="190.63" width="5.80" height="59.77" fill="#2ab07f"/>
<rect x="530.0" y="192.09" width="5.80" height="58.31" fill="#26ad81"/>
<rect x="530.0" y="193.55" width="5.80" height="56.85" fill="#23a983"/>
<rect x="530.0" y="195.00" width="5.80" height="55.40" fill="#21a585"/>
<rect x="530.0" y="196.46" width="5.80" height="53.94" fill="#1fa187"/>
<rect x="530.0" y="197.92" width="5.80" height="52.48" fill="#1f9e89"/>
<rect x="530.0" y="199.38" width="5.80" height="51.02" fill="#1f9a8a"/>
<rect x="530.0" y="200.83" width="5.80" height="49.57" fill="#1f968b"/>
<rect x="530.0" y="202.29" width="5.80" height="48.11" fill="#20928c"/>
<rect x="530.0" y="203.75" width="5.80" height="46.65" fill="#218f8d"/>
<rect x="530.0" y="205.21" width="5.80" height="45.19" fill="#228b8d"/>
<rect x="530.0" y="206.67" width="5.80" height="43.73" fill="#24878e"/>
<rect x="530.0" y="208.12" width="5.80" height="42.28" fill="#25838e"/>
<rect x="530.0" y="209.58" width="5.80" height="40.82" fill="#27808e"/>
<rect x="530.0" y="211.04" width="5.80" height="39.36" fill="#287c8e"/>
<rect x="530.0" y="212.50" width="5.80" height="37.90" fill="#2a788e"/>
<rect x="530.0" y="213.95" width="5.80" height="36.45" fill="#2b748e"/>
<rect x="530.0" y="215.41" width="5.80" height="34.99" fill="#2d718e"/>
<rect x="530.0" y="216.87" width="5.80" height="33.53" fill="#2e6d8e"/>
<rect x="530.0" y="218.33" width="5.80" height="32.07" fill="#30698e"/>
<rect x="530.0" y="219.79" width="5.80" height="30.61" fill="#32658e"/>
<rect x="530.0" y="221.24" width="5.80" height="29.16" fill="#34618d"/>
<rect x="530.0" y="222.70" width="5.80" height="27.70" fill="#365d8d"/>
<rect x="530.0" y="224.16" width="5.80" height="26.24" fill="#38598c"/>
<rect x="530.0" y="225.62" width="5.80" height="24.78" fill="#3a548c"/>
<rect x="530.0" y="227.07" width="5.80" height="23.33" fill="#3c508b"/>
<rect x="530.0" y="228.53" width="5.80" height="21.87" fill="#3e4c8a"/>
<rect x="530.0" y="229.99" width="5.80" height="20.41" fill="#3f4788"/>
<rect x="530.0" y="231.45" width="5.80" height="18.95" fill="#414287"/>
<rect x="530.0" y="232.91" width="5.80" height="17.49" fill="#433e85"/>
<rect x="530.0" y="234.36" width="5.80" height="16.04" fill="#443983"/>
<rect x="530.0" y="235.82" width="5.80" height="14.58" fill="#463480"/>
<rect x="530.0" y="237.28" width="5.80" height="13.12" fill="#472f7d"/>
<rect x="530.0" y="238.74" width="5.80" height="11.66" fill="#472a7a"/>
<rect x="530.0" y="240.20" width="5.80" height="10.20" fill="#482576"/>
<rect x="530.0" y="241.65" width="5.80" height="8.75" fill="#482071"/>
<rect x="530.0" y="243.11" width="5.80" height="7.29" fill="#481b6d"/>
<rect x="530.0" y="244.57" width="5.80" height="5.83" fill="#481668"/>
<rect x="530.0" y="246.03" width="5.80" height="4.37" fill="#471063"/>
<rect x="530.0" y="247.48" width="5.80" height="2.92" fill="#460a5d"/>
<rect x="530.0" y="248.94" width="5.80" height="1.46" fill="#450457"/>
<rect x="530.0" y="157.1" width="5.7999999999999545" height="93.3" fill="none" stroke="#444" stroke-width="0.35"/>
<line x1="535.8" x2="537.3" y1="229.20" y2="229.20" stroke="#555" stroke-width="0.35"/>
<text x="538.3" y="231.49" font-size="5.4" text-anchor="start" fill="#000">1</text>
<line x1="535.8" x2="537.3" y1="209.00" y2="209.00" stroke="#555" stroke-width="0.35"/>
<text x="538.3" y="211.29" font-size="5.4" text-anchor="start" fill="#000">2</text>
<line x1="535.8" x2="537.3" y1="188.81" y2="188.81" stroke="#555" stroke-width="0.35"/>
<text x="538.3" y="191.1" font-size="5.4" text-anchor="start" fill="#000">3</text>
<line x1="535.8" x2="537.3" y1="168.61" y2="168.61" stroke="#555" stroke-width="0.35"/>
<text x="538.3" y="170.91" font-size="5.4" text-anchor="start" fill="#000">4</text>
<line x1="449.67" x2="449.67" y1="250.39999999999998" y2="251.89999999999998" stroke="#555" stroke-width="0.35"/>
<text x="449.67" y="257.34" font-size="5.4" text-anchor="middle" fill="#000">4</text>
<line x1="485.71" x2="485.71" y1="250.39999999999998" y2="251.89999999999998" stroke="#555" stroke-width="0.35"/>
<text x="485.71" y="257.34" font-size="5.4" text-anchor="middle" fill="#000">6</text>
<line x1="521.75" x2="521.75" y1="250.39999999999998" y2="251.89999999999998" stroke="#555" stroke-width="0.35"/>
<text x="521.75" y="257.34" font-size="5.4" text-anchor="middle" fill="#000">8</text>
<line x1="427.9" x2="429.4" y1="248.18" y2="248.18" stroke="#555" stroke-width="0.35"/>
<text x="427.2" y="250.82" font-size="5.4" text-anchor="end" fill="#000">49</text>
<line x1="427.9" x2="429.4" y1="230.41" y2="230.41" stroke="#555" stroke-width="0.35"/>
<text x="427.2" y="233.05" font-size="5.4" text-anchor="end" fill="#000">50</text>
<line x1="427.9" x2="429.4" y1="212.64" y2="212.64" stroke="#555" stroke-width="0.35"/>
<text x="427.2" y="215.28" font-size="5.4" text-anchor="end" fill="#000">51</text>
<line x1="427.9" x2="429.4" y1="194.86" y2="194.86" stroke="#555" stroke-width="0.35"/>
<text x="427.2" y="197.51" font-size="5.4" text-anchor="end" fill="#000">52</text>
<line x1="427.9" x2="429.4" y1="177.09" y2="177.09" stroke="#555" stroke-width="0.35"/>
<text x="427.2" y="179.74" font-size="5.4" text-anchor="end" fill="#000">53</text>
<line x1="427.9" x2="429.4" y1="159.32" y2="159.32" stroke="#555" stroke-width="0.35"/>
<text x="427.2" y="161.97" font-size="5.4" text-anchor="end" fill="#000">54</text>
<text x="476.7" y="265.2" font-size="6.2" text-anchor="middle" fill="#000">Longitude</text>
<text x="418.6" y="204.15" font-size="6.2" text-anchor="middle" transform="rotate(-90 418.6 204.15)" fill="#000">Latitude</text>
<text x="476.7" y="147.96" font-size="6.1" text-anchor="middle" font-weight="bold" fill="#000">(d)Truth vs Pred</text>
<text x="476.7" y="155.1" font-size="6.1" text-anchor="middle" font-weight="bold" fill="#000">Mean Error: 0.87 [m/s]</text>
<text x="129.9" y="10.5" font-size="6.07" text-anchor="middle" font-weight="bold" fill="#000">(A)Comparison of results of U-component of wind speed</text>
<text x="407" y="10.5" font-size="6.07" text-anchor="middle" font-weight="bold" fill="#000">(B)Comparison of results of V-component of wind speed</text>
</svg>
</body></html>
